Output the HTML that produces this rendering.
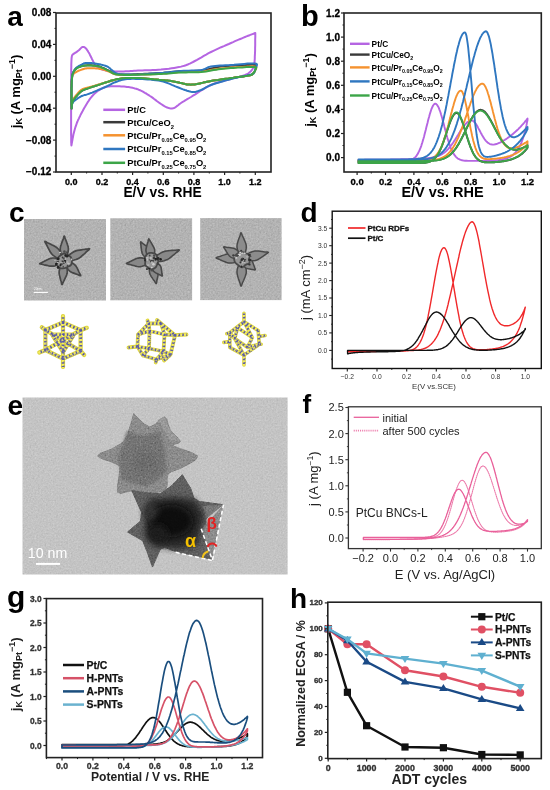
<!DOCTYPE html>
<html><head><meta charset="utf-8"><style>
html,body{margin:0;padding:0;background:#fff;}
svg{display:block;}
text{font-family:'Liberation Sans', Arial, sans-serif;}
</style></head><body>
<svg width="550" height="790" viewBox="0 0 550 790">
<defs><filter id="nz" x="0" y="0" width="100%" height="100%" color-interpolation-filters="sRGB">
<feTurbulence type="fractalNoise" baseFrequency="0.6" numOctaves="2" seed="7" result="t"/>
<feColorMatrix in="t" type="matrix" values="0.33 0.33 0.33 0 0  0.33 0.33 0.33 0 0  0.33 0.33 0.33 0 0  0 0 0 0 1"/>
</filter>
<filter id="bl1" x="-20%" y="-20%" width="140%" height="140%"><feGaussianBlur stdDeviation="0.6"/></filter>
<filter id="bl2" x="-20%" y="-20%" width="140%" height="140%"><feGaussianBlur stdDeviation="1.5"/></filter>
<filter id="bl3" x="-30%" y="-30%" width="160%" height="160%"><feGaussianBlur stdDeviation="3"/></filter>
<filter id="bl5" x="-50%" y="-50%" width="200%" height="200%"><feGaussianBlur stdDeviation="5"/></filter></defs>
<rect width="550" height="790" fill="#fff"/>
<path d="M71.4,145.5 L71.6,144.5 L71.8,143.2 L72.1,141.7 L72.4,140.0 L72.7,138.2 L73.1,136.3 L73.4,134.6 L73.8,133.0 L74.2,131.5 L74.6,130.1 L75.0,128.6 L75.4,127.2 L75.9,125.8 L76.4,124.4 L76.9,122.9 L77.5,121.5 L78.1,120.0 L78.8,118.6 L79.5,117.1 L80.2,115.7 L80.9,114.2 L81.7,112.7 L82.5,111.3 L83.3,109.8 L84.1,108.3 L85.0,106.8 L85.9,105.2 L86.8,103.7 L87.7,102.2 L88.7,100.8 L89.6,99.4 L90.5,98.2 L91.4,97.1 L92.3,96.0 L93.2,95.0 L94.1,94.1 L95.0,93.3 L95.9,92.5 L96.8,91.7 L97.8,91.0 L98.8,90.3 L99.8,89.7 L100.8,89.0 L101.9,88.5 L103.0,88.0 L104.1,87.5 L105.3,87.1 L106.5,86.8 L107.8,86.6 L109.2,86.4 L110.7,86.3 L112.2,86.2 L113.7,86.2 L115.2,86.2 L116.7,86.3 L118.2,86.3 L119.7,86.3 L121.1,86.4 L122.6,86.5 L124.1,86.6 L125.6,86.7 L127.0,86.9 L128.4,87.1 L129.8,87.3 L131.1,87.6 L132.5,87.8 L133.7,88.1 L135.0,88.5 L136.3,88.8 L137.5,89.2 L138.7,89.7 L140.0,90.2 L141.3,90.8 L142.5,91.4 L143.7,92.1 L144.9,92.8 L146.2,93.5 L147.4,94.3 L148.7,95.1 L150.0,96.0 L151.4,96.9 L152.8,97.9 L154.2,99.0 L155.7,100.1 L157.1,101.2 L158.5,102.2 L159.8,103.2 L161.0,104.0 L162.1,104.7 L163.1,105.3 L164.0,105.9 L164.8,106.4 L165.6,106.8 L166.4,107.2 L167.2,107.5 L168.0,107.8 L168.8,108.0 L169.5,108.2 L170.3,108.4 L171.0,108.4 L171.7,108.5 L172.5,108.4 L173.2,108.2 L174.0,108.0 L174.8,107.6 L175.6,107.1 L176.4,106.5 L177.2,105.9 L178.1,105.2 L179.0,104.4 L180.0,103.7 L181.0,103.0 L182.0,102.3 L183.1,101.7 L184.1,101.1 L185.2,100.4 L186.4,99.7 L187.7,98.9 L189.3,98.0 L191.0,97.0 L193.0,95.7 L195.3,94.3 L197.8,92.7 L200.4,91.0 L203.1,89.3 L205.8,87.7 L208.4,86.3 L211.0,85.0 L213.5,83.9 L216.1,83.0 L218.8,82.2 L221.4,81.5 L223.9,80.8 L226.4,80.2 L228.8,79.6 L231.0,79.0 L233.1,78.4 L235.1,77.9 L237.0,77.4 L238.9,76.9 L240.6,76.4 L242.2,76.0 L243.7,75.5 L245.0,75.0 L246.2,74.5 L247.1,74.0 L248.0,73.6 L248.7,73.1 L249.3,72.6 L249.9,72.1 L250.4,71.6 L251.0,71.0 L251.5,70.4 L252.0,69.8 L252.4,69.2 L252.8,68.5 L253.2,67.8 L253.5,67.0 L253.7,66.1 L254.0,65.0 L254.2,63.8 L254.4,62.6 L254.6,61.3 L254.7,59.9 L254.8,58.3 L254.8,56.7 L254.9,54.9 L255.0,53.0 L255.1,50.7 L255.1,48.1 L255.2,45.2 L255.2,42.2 L255.2,39.4 L255.3,36.8 L255.3,34.6 L255.3,33.0 L255.3,33.0 L254.5,33.3 L253.5,33.7 L252.4,34.1 L251.0,34.6 L249.6,35.2 L248.1,35.8 L246.5,36.4 L245.0,37.0 L243.5,37.6 L241.9,38.3 L240.3,39.0 L238.6,39.7 L236.9,40.4 L235.0,41.2 L233.1,42.1 L231.0,43.0 L228.8,44.0 L226.4,45.0 L223.9,46.1 L221.2,47.2 L218.6,48.4 L216.0,49.6 L213.4,50.8 L211.0,52.0 L208.6,53.2 L206.2,54.6 L203.8,55.9 L201.5,57.3 L199.2,58.6 L197.0,59.9 L194.9,61.0 L193.0,62.0 L191.3,62.8 L189.8,63.6 L188.4,64.2 L187.1,64.7 L185.8,65.2 L184.4,65.7 L182.8,66.1 L181.0,66.6 L178.9,67.1 L176.6,67.5 L174.1,67.9 L171.6,68.3 L168.9,68.7 L166.3,69.0 L163.6,69.3 L161.0,69.6 L158.4,69.8 L155.7,70.0 L152.9,70.1 L150.2,70.2 L147.4,70.3 L144.8,70.3 L142.3,70.4 L140.0,70.5 L137.9,70.6 L135.9,70.7 L134.1,70.8 L132.3,71.0 L130.7,71.1 L129.0,71.2 L127.3,71.2 L125.5,71.3 L123.7,71.4 L121.8,71.4 L119.9,71.5 L118.0,71.5 L116.1,71.5 L114.3,71.5 L112.6,71.4 L111.0,71.3 L109.5,71.1 L108.0,70.9 L106.6,70.7 L105.3,70.4 L104.0,70.1 L102.8,69.7 L101.7,69.4 L100.7,69.0 L99.8,68.6 L99.0,68.2 L98.3,67.8 L97.7,67.4 L97.1,67.0 L96.6,66.5 L96.1,66.0 L95.6,65.5 L95.1,65.0 L94.7,64.4 L94.4,63.8 L94.1,63.2 L93.7,62.6 L93.4,61.9 L93.1,61.2 L92.7,60.4 L92.3,59.6 L91.8,58.7 L91.4,57.7 L90.9,56.7 L90.4,55.7 L89.9,54.7 L89.5,53.8 L89.0,53.0 L88.5,52.2 L88.1,51.5 L87.7,50.8 L87.2,50.1 L86.8,49.5 L86.3,48.9 L85.9,48.4 L85.5,48.0 L85.1,47.7 L84.7,47.4 L84.4,47.1 L84.0,47.0 L83.6,46.9 L83.3,46.9 L82.9,46.9 L82.5,47.0 L82.1,47.2 L81.6,47.5 L81.2,47.9 L80.7,48.4 L80.2,48.9 L79.8,49.4 L79.3,49.8 L78.9,50.2 L78.5,50.5 L78.1,50.8 L77.7,51.1 L77.4,51.4 L77.0,51.7 L76.7,51.9 L76.3,52.2 L76.0,52.4 L75.7,52.6 L75.4,52.7 L75.1,52.9 L74.9,53.0 L74.6,53.1 L74.3,53.3 L74.1,53.5 L73.8,53.8 L73.5,54.1 L73.2,54.2 L72.9,54.4 L72.6,54.6 L72.3,55.0 L72.0,55.6 L71.8,56.6 L71.6,58.0 L71.5,59.8 L71.4,61.8 L71.3,64.2 L71.3,66.8 L71.2,69.6 L71.2,72.8 L71.2,76.3 L71.2,80.0 L71.2,84.3 L71.1,89.2 L71.1,94.6 L71.1,100.1 L71.1,105.7 L71.1,111.0 L71.1,115.8 L71.1,120.0 L71.1,123.6 L71.1,126.7 L71.1,129.6 L71.1,132.2 L71.1,134.4 L71.2,136.5 L71.2,138.3 L71.2,140.0 L71.2,141.4 L71.2,142.5 L71.3,143.4 L71.3,144.0 L71.3,144.5 L71.4,144.9 L71.4,145.2 L71.4,145.5" stroke="#b565e2" stroke-width="2.0" fill="none" stroke-linejoin="round" stroke-linecap="round"/>
<path d="M71.6,108.4 L71.6,106.9 L71.6,104.9 L71.5,102.6 L71.5,100.0 L71.5,97.2 L71.5,94.6 L71.5,92.1 L71.5,90.0 L71.5,88.1 L71.6,86.4 L71.6,84.7 L71.7,83.2 L71.7,81.7 L71.8,80.4 L71.9,79.1 L72.0,78.0 L72.1,77.0 L72.2,76.2 L72.3,75.6 L72.3,75.0 L72.5,74.5 L72.6,74.1 L72.8,73.6 L73.0,73.0 L73.3,72.4 L73.5,71.8 L73.9,71.2 L74.2,70.6 L74.6,70.0 L75.0,69.5 L75.5,69.0 L76.0,68.5 L76.6,68.1 L77.2,67.7 L77.9,67.3 L78.6,67.0 L79.4,66.7 L80.2,66.5 L81.0,66.2 L81.8,66.0 L82.6,65.8 L83.5,65.7 L84.3,65.5 L85.2,65.4 L86.1,65.4 L87.1,65.3 L88.0,65.3 L89.0,65.3 L90.0,65.3 L91.2,65.3 L92.3,65.4 L93.5,65.5 L94.6,65.6 L95.8,65.7 L96.8,65.8 L97.8,66.0 L98.7,66.2 L99.5,66.4 L100.2,66.7 L100.9,67.0 L101.5,67.3 L102.2,67.6 L102.9,67.9 L103.6,68.2 L104.3,68.5 L105.1,68.9 L105.8,69.2 L106.5,69.6 L107.3,69.9 L108.0,70.3 L108.8,70.6 L109.5,71.0 L110.2,71.4 L110.9,71.7 L111.5,72.1 L112.1,72.5 L112.8,72.9 L113.5,73.2 L114.4,73.6 L115.3,73.8 L116.3,74.0 L117.4,74.2 L118.6,74.3 L119.9,74.4 L121.2,74.4 L122.5,74.5 L124.0,74.5 L125.5,74.5 L127.1,74.5 L128.7,74.5 L130.3,74.4 L132.1,74.4 L133.9,74.3 L135.8,74.2 L137.8,74.1 L140.0,74.0 L142.3,73.9 L144.8,73.8 L147.4,73.7 L150.2,73.6 L152.9,73.5 L155.7,73.3 L158.4,73.2 L161.0,73.0 L163.5,72.8 L166.1,72.5 L168.6,72.3 L171.1,72.0 L173.5,71.7 L176.0,71.4 L178.5,71.2 L181.0,71.0 L183.5,70.9 L186.0,70.9 L188.5,70.9 L191.0,70.9 L193.5,70.9 L196.0,70.8 L198.5,70.7 L201.0,70.5 L203.5,70.1 L206.0,69.7 L208.5,69.1 L211.1,68.5 L213.6,67.9 L216.1,67.4 L218.5,66.9 L221.0,66.5 L223.5,66.2 L225.9,66.0 L228.4,65.9 L230.8,65.8 L233.2,65.7 L235.6,65.6 L237.8,65.6 L240.0,65.5 L242.2,65.4 L244.4,65.2 L246.6,65.0 L248.7,64.9 L250.6,64.8 L252.4,64.7 L253.9,64.8 L255.0,65.0 L255.8,65.4 L256.2,65.9 L256.3,66.5 L256.2,67.2 L256.0,68.0 L255.8,68.7 L255.5,69.4 L255.3,70.0 L255.1,70.5 L254.9,71.0 L254.7,71.5 L254.4,71.9 L254.1,72.4 L253.8,72.8 L253.4,73.1 L253.0,73.5 L252.7,73.8 L252.4,74.1 L252.2,74.3 L252.0,74.6 L251.6,74.8 L251.0,75.0 L250.2,75.2 L249.0,75.5 L247.4,75.8 L245.5,76.1 L243.4,76.4 L241.0,76.7 L238.5,77.0 L236.0,77.3 L233.4,77.7 L231.0,78.0 L228.6,78.4 L226.0,78.7 L223.4,79.1 L220.8,79.5 L218.1,79.9 L215.6,80.2 L213.2,80.6 L211.0,81.0 L208.9,81.4 L206.9,81.8 L205.0,82.2 L203.2,82.6 L201.5,83.1 L199.9,83.4 L198.4,83.7 L197.0,84.0 L195.7,84.2 L194.6,84.4 L193.6,84.5 L192.6,84.6 L191.7,84.6 L190.9,84.7 L190.0,84.6 L189.0,84.6 L188.0,84.5 L187.0,84.4 L186.1,84.2 L185.1,84.0 L184.1,83.7 L183.1,83.5 L182.1,83.2 L181.0,83.0 L179.8,82.8 L178.6,82.5 L177.4,82.2 L176.1,82.0 L174.8,81.7 L173.5,81.4 L172.3,81.2 L171.0,81.0 L169.8,80.8 L168.8,80.7 L167.7,80.6 L166.7,80.5 L165.6,80.4 L164.3,80.3 L162.8,80.2 L161.0,80.0 L158.9,79.8 L156.4,79.5 L153.6,79.3 L150.8,79.0 L147.9,78.7 L145.1,78.5 L142.4,78.3 L140.0,78.1 L137.8,78.0 L135.8,77.9 L133.9,77.9 L132.1,77.9 L130.3,77.9 L128.7,77.9 L127.1,78.0 L125.5,78.1 L124.0,78.2 L122.6,78.3 L121.3,78.5 L120.0,78.7 L118.8,78.9 L117.7,79.1 L116.5,79.3 L115.3,79.6 L114.1,79.9 L113.0,80.2 L111.9,80.5 L110.8,80.8 L109.7,81.2 L108.7,81.5 L107.6,81.9 L106.5,82.2 L105.4,82.5 L104.3,82.9 L103.2,83.3 L102.1,83.6 L101.1,84.0 L100.0,84.4 L98.9,84.7 L97.8,85.1 L96.7,85.5 L95.6,85.8 L94.4,86.2 L93.3,86.5 L92.2,86.9 L91.1,87.3 L90.0,87.6 L89.0,88.0 L88.0,88.3 L87.1,88.7 L86.1,89.0 L85.2,89.3 L84.3,89.6 L83.5,90.0 L82.6,90.4 L81.8,90.9 L81.0,91.5 L80.2,92.2 L79.4,92.9 L78.7,93.7 L77.9,94.4 L77.3,95.2 L76.6,96.0 L76.0,96.7 L75.4,97.4 L74.9,98.0 L74.4,98.7 L73.9,99.3 L73.5,100.0 L73.1,100.6 L72.8,101.3 L72.5,102.0 L72.3,102.8 L72.1,103.7 L71.9,104.6 L71.8,105.5 L71.8,106.4 L71.7,107.2 L71.7,107.9 L71.6,108.4" stroke="#3a3a3a" stroke-width="2.0" fill="none" stroke-linejoin="round" stroke-linecap="round"/>
<path d="M71.6,108.4 L71.6,106.9 L71.6,104.9 L71.5,102.5 L71.5,99.9 L71.5,97.2 L71.5,94.5 L71.5,92.1 L71.5,90.0 L71.5,88.2 L71.6,86.6 L71.6,85.0 L71.7,83.6 L71.7,82.3 L71.8,81.1 L71.9,80.0 L72.0,79.0 L72.1,78.1 L72.1,77.4 L72.2,76.8 L72.2,76.3 L72.3,75.8 L72.5,75.4 L72.7,75.0 L73.0,74.5 L73.4,74.0 L73.9,73.6 L74.4,73.1 L75.0,72.7 L75.7,72.3 L76.3,72.0 L76.9,71.6 L77.5,71.3 L78.1,71.0 L78.6,70.7 L79.2,70.5 L79.8,70.3 L80.3,70.1 L80.9,69.9 L81.5,69.7 L82.0,69.5 L82.5,69.3 L83.0,69.2 L83.5,69.0 L84.0,68.9 L84.4,68.7 L85.0,68.6 L85.6,68.5 L86.2,68.4 L86.9,68.3 L87.7,68.3 L88.5,68.2 L89.4,68.2 L90.3,68.2 L91.2,68.2 L92.1,68.2 L93.0,68.2 L93.9,68.2 L94.9,68.3 L95.9,68.4 L96.9,68.5 L97.9,68.6 L98.9,68.7 L99.8,68.9 L100.7,69.0 L101.5,69.2 L102.2,69.3 L102.9,69.5 L103.6,69.7 L104.2,69.9 L104.8,70.1 L105.4,70.3 L106.0,70.5 L106.6,70.7 L107.1,70.9 L107.5,71.0 L108.0,71.2 L108.5,71.4 L108.9,71.6 L109.4,71.8 L110.0,72.0 L110.6,72.3 L111.1,72.5 L111.7,72.8 L112.3,73.1 L112.9,73.5 L113.6,73.7 L114.4,74.0 L115.3,74.2 L116.3,74.4 L117.4,74.5 L118.6,74.6 L119.8,74.7 L121.1,74.8 L122.5,74.8 L124.0,74.9 L125.5,74.9 L127.1,74.9 L128.7,74.9 L130.3,74.9 L132.1,74.8 L133.9,74.8 L135.8,74.7 L137.8,74.7 L140.0,74.6 L142.3,74.5 L144.8,74.5 L147.4,74.4 L150.2,74.3 L152.9,74.2 L155.7,74.1 L158.4,74.0 L161.0,73.8 L163.5,73.6 L166.1,73.4 L168.6,73.1 L171.1,72.9 L173.5,72.6 L176.0,72.4 L178.5,72.2 L181.0,72.0 L183.5,71.9 L186.0,71.8 L188.5,71.8 L191.0,71.8 L193.5,71.8 L196.0,71.8 L198.5,71.7 L201.0,71.5 L203.5,71.2 L206.0,70.9 L208.5,70.5 L211.1,70.1 L213.6,69.6 L216.1,69.2 L218.5,68.8 L221.0,68.5 L223.5,68.2 L225.9,68.0 L228.4,67.8 L230.8,67.6 L233.2,67.4 L235.6,67.3 L237.8,67.1 L240.0,67.0 L242.2,66.9 L244.4,66.7 L246.6,66.6 L248.7,66.4 L250.6,66.4 L252.4,66.3 L253.9,66.4 L255.0,66.5 L255.8,66.7 L256.2,67.1 L256.3,67.5 L256.2,68.0 L256.0,68.5 L255.8,69.0 L255.5,69.5 L255.3,70.0 L255.1,70.4 L254.9,70.9 L254.7,71.4 L254.4,71.8 L254.1,72.3 L253.8,72.7 L253.4,73.1 L253.0,73.5 L252.7,73.8 L252.4,74.1 L252.2,74.3 L252.0,74.6 L251.6,74.8 L251.0,75.0 L250.2,75.2 L249.0,75.5 L247.4,75.8 L245.5,76.1 L243.4,76.4 L241.0,76.7 L238.5,77.0 L236.0,77.3 L233.4,77.7 L231.0,78.0 L228.6,78.4 L226.0,78.7 L223.4,79.1 L220.8,79.5 L218.1,79.9 L215.6,80.2 L213.2,80.6 L211.0,81.0 L208.9,81.4 L206.9,81.8 L205.0,82.2 L203.2,82.6 L201.5,83.1 L199.9,83.4 L198.4,83.7 L197.0,84.0 L195.7,84.2 L194.6,84.4 L193.6,84.5 L192.6,84.6 L191.7,84.6 L190.9,84.7 L190.0,84.6 L189.0,84.6 L188.0,84.5 L187.0,84.4 L186.1,84.2 L185.1,84.0 L184.1,83.7 L183.1,83.5 L182.1,83.2 L181.0,83.0 L179.8,82.8 L178.6,82.5 L177.4,82.2 L176.1,82.0 L174.8,81.7 L173.5,81.4 L172.3,81.2 L171.0,81.0 L169.8,80.8 L168.8,80.7 L167.7,80.6 L166.7,80.5 L165.6,80.4 L164.3,80.3 L162.8,80.2 L161.0,80.0 L158.9,79.8 L156.4,79.5 L153.6,79.3 L150.8,79.0 L147.9,78.7 L145.1,78.5 L142.4,78.3 L140.0,78.1 L137.8,78.0 L135.8,77.9 L133.9,77.9 L132.1,77.9 L130.3,77.9 L128.7,77.9 L127.1,78.0 L125.5,78.1 L124.0,78.2 L122.6,78.3 L121.3,78.5 L120.0,78.7 L118.8,78.9 L117.7,79.1 L116.5,79.3 L115.3,79.6 L114.1,79.9 L113.0,80.2 L111.9,80.5 L110.8,80.8 L109.7,81.2 L108.7,81.5 L107.6,81.9 L106.5,82.2 L105.4,82.5 L104.3,82.9 L103.2,83.2 L102.1,83.5 L101.1,83.8 L100.0,84.2 L98.9,84.5 L97.8,84.8 L96.7,85.1 L95.6,85.4 L94.4,85.8 L93.3,86.1 L92.2,86.4 L91.1,86.7 L90.0,87.0 L89.0,87.3 L88.0,87.6 L87.1,87.8 L86.1,88.0 L85.2,88.2 L84.3,88.4 L83.5,88.7 L82.6,89.0 L81.8,89.5 L81.0,90.1 L80.2,90.7 L79.4,91.5 L78.7,92.3 L77.9,93.1 L77.3,93.9 L76.6,94.7 L76.0,95.5 L75.4,96.2 L74.9,96.9 L74.4,97.5 L73.9,98.2 L73.5,98.8 L73.1,99.5 L72.8,100.2 L72.5,101.0 L72.3,101.9 L72.1,102.9 L71.9,104.0 L71.8,105.0 L71.8,106.1 L71.7,107.0 L71.7,107.8 L71.6,108.4" stroke="#f5922f" stroke-width="2.0" fill="none" stroke-linejoin="round" stroke-linecap="round"/>
<path d="M71.6,108.4 L71.6,106.9 L71.6,104.9 L71.5,102.6 L71.5,100.0 L71.5,97.2 L71.5,94.6 L71.5,92.1 L71.5,90.0 L71.5,88.1 L71.6,86.4 L71.6,84.7 L71.7,83.2 L71.7,81.7 L71.8,80.4 L71.9,79.1 L72.0,78.0 L72.1,77.0 L72.2,76.3 L72.3,75.6 L72.3,75.1 L72.5,74.6 L72.6,74.1 L72.8,73.6 L73.0,73.0 L73.3,72.4 L73.5,71.7 L73.9,71.1 L74.2,70.4 L74.6,69.8 L75.0,69.1 L75.5,68.6 L76.0,68.0 L76.6,67.5 L77.3,67.0 L78.0,66.5 L78.8,66.0 L79.6,65.6 L80.4,65.2 L81.1,64.8 L81.8,64.5 L82.4,64.2 L82.9,63.9 L83.4,63.7 L83.8,63.5 L84.3,63.3 L84.8,63.2 L85.4,63.1 L86.2,63.0 L87.1,63.0 L88.0,62.9 L89.1,62.9 L90.2,63.0 L91.3,63.1 L92.5,63.2 L93.7,63.3 L95.0,63.5 L96.3,63.7 L97.8,64.0 L99.4,64.3 L100.9,64.6 L102.5,65.0 L104.0,65.4 L105.3,65.8 L106.5,66.2 L107.5,66.7 L108.4,67.2 L109.2,67.8 L109.9,68.3 L110.5,68.9 L111.1,69.5 L111.8,70.0 L112.4,70.5 L113.0,71.0 L113.6,71.4 L114.0,71.8 L114.5,72.2 L115.0,72.6 L115.6,72.9 L116.2,73.2 L117.0,73.5 L117.8,73.7 L118.7,73.9 L119.6,74.1 L120.6,74.2 L121.7,74.3 L122.9,74.4 L124.1,74.4 L125.5,74.5 L127.0,74.5 L128.6,74.6 L130.2,74.6 L132.0,74.6 L133.8,74.6 L135.8,74.5 L137.8,74.5 L140.0,74.4 L142.3,74.3 L144.8,74.2 L147.4,74.0 L150.2,73.8 L152.9,73.6 L155.7,73.4 L158.4,73.2 L161.0,73.0 L163.5,72.8 L166.1,72.5 L168.6,72.2 L171.1,72.0 L173.5,71.7 L176.0,71.4 L178.5,71.2 L181.0,71.0 L183.6,70.8 L186.2,70.7 L188.9,70.7 L191.6,70.6 L194.2,70.5 L196.7,70.4 L199.0,70.2 L201.0,70.0 L202.7,69.7 L204.0,69.3 L205.0,68.8 L206.0,68.3 L207.0,67.8 L208.0,67.3 L209.3,66.9 L211.0,66.5 L213.0,66.2 L215.2,66.0 L217.6,65.8 L220.1,65.6 L222.8,65.5 L225.5,65.3 L228.2,65.2 L231.0,65.0 L234.0,64.8 L237.3,64.5 L240.7,64.2 L244.2,63.9 L247.5,63.6 L250.6,63.5 L253.1,63.4 L255.0,63.5 L256.2,63.8 L256.8,64.2 L257.0,64.7 L256.8,65.4 L256.5,66.0 L256.1,66.7 L255.7,67.4 L255.5,68.0 L255.4,68.6 L255.3,69.2 L255.1,69.8 L255.0,70.4 L254.8,71.0 L254.5,71.6 L254.3,72.1 L254.0,72.5 L253.8,72.9 L253.8,73.1 L253.7,73.3 L253.7,73.5 L253.4,73.7 L253.0,73.9 L252.2,74.1 L251.0,74.5 L249.3,74.9 L247.2,75.4 L244.7,75.9 L242.1,76.5 L239.2,77.1 L236.4,77.7 L233.6,78.3 L231.0,79.0 L228.4,79.7 L225.8,80.4 L223.1,81.2 L220.4,82.0 L217.8,82.8 L215.3,83.5 L213.0,84.3 L211.0,85.0 L209.3,85.7 L207.8,86.4 L206.4,87.1 L205.2,87.8 L204.2,88.4 L203.1,89.0 L202.1,89.5 L201.0,90.0 L199.9,90.4 L198.9,90.8 L197.9,91.1 L196.9,91.4 L195.9,91.7 L195.0,91.9 L194.0,92.0 L193.0,92.0 L192.0,91.9 L191.0,91.8 L190.0,91.6 L189.0,91.3 L188.0,91.0 L187.0,90.7 L186.0,90.3 L185.0,90.0 L184.1,89.7 L183.2,89.4 L182.4,89.1 L181.5,88.8 L180.6,88.4 L179.6,88.0 L178.4,87.5 L177.0,87.0 L175.4,86.4 L173.7,85.6 L171.8,84.8 L169.8,83.9 L167.7,83.1 L165.5,82.3 L163.3,81.6 L161.0,81.0 L158.6,80.5 L155.9,80.2 L153.2,79.9 L150.4,79.6 L147.6,79.4 L144.9,79.2 L142.3,79.1 L140.0,79.0 L137.8,78.9 L135.8,78.9 L133.9,78.8 L132.1,78.8 L130.3,78.9 L128.7,79.0 L127.1,79.1 L125.5,79.3 L124.0,79.5 L122.6,79.8 L121.3,80.1 L120.0,80.5 L118.8,80.9 L117.7,81.3 L116.5,81.8 L115.3,82.2 L114.1,82.7 L113.0,83.2 L111.9,83.7 L110.8,84.3 L109.7,84.9 L108.7,85.4 L107.6,86.0 L106.5,86.5 L105.4,87.0 L104.3,87.5 L103.2,87.9 L102.1,88.4 L101.1,88.8 L100.0,89.3 L98.9,89.7 L97.8,90.2 L96.7,90.7 L95.6,91.1 L94.4,91.6 L93.3,92.1 L92.2,92.6 L91.1,93.0 L90.0,93.4 L89.0,93.8 L88.0,94.1 L87.1,94.4 L86.1,94.7 L85.2,94.9 L84.3,95.1 L83.5,95.4 L82.6,95.7 L81.8,96.0 L81.0,96.4 L80.2,96.8 L79.4,97.3 L78.7,97.7 L77.9,98.2 L77.3,98.7 L76.6,99.2 L76.0,99.6 L75.4,100.0 L74.9,100.4 L74.4,100.8 L73.9,101.2 L73.5,101.6 L73.1,102.0 L72.8,102.5 L72.5,103.0 L72.3,103.6 L72.1,104.3 L71.9,105.1 L71.8,105.9 L71.8,106.7 L71.7,107.4 L71.7,108.0 L71.6,108.4" stroke="#2f77c0" stroke-width="2.0" fill="none" stroke-linejoin="round" stroke-linecap="round"/>
<path d="M71.6,108.4 L71.6,106.9 L71.6,104.9 L71.5,102.6 L71.5,100.0 L71.5,97.2 L71.5,94.6 L71.5,92.1 L71.5,90.0 L71.5,88.1 L71.6,86.4 L71.6,84.7 L71.7,83.1 L71.7,81.7 L71.8,80.3 L71.9,79.1 L72.0,78.0 L72.1,77.1 L72.2,76.3 L72.3,75.8 L72.3,75.3 L72.5,74.9 L72.6,74.4 L72.8,74.0 L73.0,73.5 L73.3,72.9 L73.5,72.3 L73.9,71.7 L74.2,71.1 L74.6,70.6 L75.0,70.0 L75.5,69.5 L76.0,69.0 L76.6,68.6 L77.2,68.1 L77.9,67.7 L78.6,67.4 L79.4,67.0 L80.2,66.7 L81.0,66.4 L81.8,66.2 L82.6,66.0 L83.5,65.8 L84.3,65.7 L85.2,65.6 L86.1,65.6 L87.1,65.5 L88.0,65.5 L89.0,65.5 L90.0,65.5 L91.2,65.5 L92.3,65.6 L93.5,65.7 L94.6,65.8 L95.8,65.9 L96.8,66.0 L97.8,66.2 L98.7,66.4 L99.5,66.6 L100.2,66.9 L100.9,67.2 L101.5,67.5 L102.2,67.8 L102.9,68.1 L103.6,68.4 L104.3,68.7 L105.1,69.1 L105.8,69.4 L106.5,69.8 L107.3,70.2 L108.0,70.6 L108.8,70.9 L109.5,71.3 L110.2,71.7 L110.9,72.1 L111.5,72.5 L112.1,72.9 L112.8,73.3 L113.5,73.6 L114.4,73.9 L115.3,74.2 L116.3,74.4 L117.4,74.6 L118.6,74.7 L119.9,74.8 L121.2,74.8 L122.5,74.8 L124.0,74.9 L125.5,74.9 L127.1,74.9 L128.7,74.9 L130.3,74.9 L132.1,74.8 L133.9,74.8 L135.8,74.7 L137.8,74.7 L140.0,74.6 L142.3,74.5 L144.8,74.5 L147.4,74.4 L150.2,74.4 L152.9,74.3 L155.7,74.2 L158.4,74.1 L161.0,74.0 L163.5,73.8 L166.1,73.7 L168.6,73.5 L171.1,73.2 L173.5,73.0 L176.0,72.8 L178.5,72.6 L181.0,72.5 L183.5,72.4 L186.0,72.4 L188.5,72.3 L191.0,72.3 L193.5,72.3 L196.0,72.3 L198.5,72.2 L201.0,72.0 L203.5,71.7 L206.0,71.4 L208.5,71.0 L211.1,70.6 L213.6,70.1 L216.1,69.7 L218.5,69.3 L221.0,69.0 L223.5,68.7 L225.9,68.5 L228.4,68.3 L230.8,68.1 L233.2,67.9 L235.6,67.8 L237.8,67.6 L240.0,67.5 L242.2,67.4 L244.4,67.2 L246.6,67.1 L248.7,67.0 L250.6,66.9 L252.4,66.9 L253.9,66.9 L255.0,67.0 L255.8,67.2 L256.2,67.5 L256.3,67.8 L256.2,68.2 L256.0,68.7 L255.8,69.1 L255.5,69.6 L255.3,70.0 L255.1,70.4 L254.9,70.9 L254.7,71.3 L254.4,71.8 L254.1,72.3 L253.8,72.7 L253.4,73.1 L253.0,73.5 L252.7,73.8 L252.4,74.1 L252.2,74.3 L252.0,74.6 L251.6,74.8 L251.0,75.0 L250.2,75.2 L249.0,75.5 L247.4,75.8 L245.5,76.1 L243.4,76.4 L241.0,76.7 L238.5,77.0 L236.0,77.3 L233.4,77.7 L231.0,78.0 L228.6,78.4 L226.0,78.7 L223.4,79.1 L220.8,79.5 L218.1,79.9 L215.6,80.2 L213.2,80.6 L211.0,81.0 L208.9,81.4 L206.9,81.8 L205.0,82.2 L203.2,82.6 L201.5,83.1 L199.9,83.4 L198.4,83.7 L197.0,84.0 L195.7,84.2 L194.6,84.4 L193.6,84.5 L192.6,84.6 L191.7,84.6 L190.9,84.7 L190.0,84.6 L189.0,84.6 L188.0,84.5 L187.0,84.4 L186.1,84.2 L185.1,84.0 L184.1,83.7 L183.1,83.5 L182.1,83.2 L181.0,83.0 L179.8,82.8 L178.6,82.5 L177.4,82.2 L176.1,82.0 L174.8,81.7 L173.5,81.4 L172.3,81.2 L171.0,81.0 L169.8,80.8 L168.8,80.7 L167.7,80.6 L166.7,80.5 L165.6,80.4 L164.3,80.3 L162.8,80.2 L161.0,80.0 L158.9,79.8 L156.4,79.5 L153.6,79.3 L150.8,79.0 L147.9,78.7 L145.1,78.5 L142.4,78.3 L140.0,78.1 L137.8,78.0 L135.8,77.9 L133.9,77.9 L132.1,77.9 L130.3,77.9 L128.7,77.9 L127.1,78.0 L125.5,78.1 L124.0,78.2 L122.6,78.3 L121.3,78.5 L120.0,78.7 L118.8,78.9 L117.7,79.1 L116.5,79.3 L115.3,79.6 L114.1,79.9 L113.0,80.2 L111.9,80.5 L110.8,80.8 L109.7,81.2 L108.7,81.5 L107.6,81.9 L106.5,82.2 L105.4,82.5 L104.3,82.9 L103.2,83.3 L102.1,83.6 L101.1,84.0 L100.0,84.4 L98.9,84.7 L97.8,85.1 L96.7,85.5 L95.6,85.8 L94.4,86.2 L93.3,86.5 L92.2,86.9 L91.1,87.3 L90.0,87.6 L89.0,88.0 L88.0,88.3 L87.1,88.7 L86.1,89.0 L85.2,89.3 L84.3,89.6 L83.5,90.0 L82.6,90.4 L81.8,90.9 L81.0,91.5 L80.2,92.2 L79.4,92.9 L78.7,93.7 L77.9,94.4 L77.3,95.2 L76.6,96.0 L76.0,96.7 L75.4,97.4 L74.9,98.0 L74.4,98.7 L73.9,99.3 L73.5,100.0 L73.1,100.6 L72.8,101.3 L72.5,102.0 L72.3,102.8 L72.1,103.7 L71.9,104.6 L71.8,105.5 L71.8,106.4 L71.7,107.2 L71.7,107.9 L71.6,108.4" stroke="#3ca548" stroke-width="2.0" fill="none" stroke-linejoin="round" stroke-linecap="round"/>
<rect x="56.0" y="13.0" width="215.0" height="159.0" fill="none" stroke="#222" stroke-width="1.6"/>
<line x1="53.0" y1="12.5" x2="56.0" y2="12.5" stroke="#222" stroke-width="1.2"/>
<text x="51.3" y="15.9" font-size="10" font-weight="bold" text-anchor="end" fill="#000" stroke="#000" stroke-width="0.3">0.08</text>
<line x1="53.0" y1="44.4" x2="56.0" y2="44.4" stroke="#222" stroke-width="1.2"/>
<text x="51.3" y="47.8" font-size="10" font-weight="bold" text-anchor="end" fill="#000" stroke="#000" stroke-width="0.3">0.04</text>
<line x1="53.0" y1="76.3" x2="56.0" y2="76.3" stroke="#222" stroke-width="1.2"/>
<text x="51.3" y="79.7" font-size="10" font-weight="bold" text-anchor="end" fill="#000" stroke="#000" stroke-width="0.3">0.00</text>
<line x1="53.0" y1="108.2" x2="56.0" y2="108.2" stroke="#222" stroke-width="1.2"/>
<text x="51.3" y="111.6" font-size="10" font-weight="bold" text-anchor="end" fill="#000" stroke="#000" stroke-width="0.3">−0.04</text>
<line x1="53.0" y1="140.1" x2="56.0" y2="140.1" stroke="#222" stroke-width="1.2"/>
<text x="51.3" y="143.5" font-size="10" font-weight="bold" text-anchor="end" fill="#000" stroke="#000" stroke-width="0.3">−0.08</text>
<line x1="53.0" y1="172.0" x2="56.0" y2="172.0" stroke="#222" stroke-width="1.2"/>
<text x="51.3" y="175.4" font-size="10" font-weight="bold" text-anchor="end" fill="#000" stroke="#000" stroke-width="0.3">−0.12</text>
<line x1="54.5" y1="28.4" x2="56.0" y2="28.4" stroke="#222" stroke-width="1"/>
<line x1="54.5" y1="60.3" x2="56.0" y2="60.3" stroke="#222" stroke-width="1"/>
<line x1="54.5" y1="92.2" x2="56.0" y2="92.2" stroke="#222" stroke-width="1"/>
<line x1="54.5" y1="124.2" x2="56.0" y2="124.2" stroke="#222" stroke-width="1"/>
<line x1="54.5" y1="156.1" x2="56.0" y2="156.1" stroke="#222" stroke-width="1"/>
<line x1="71.3" y1="172.0" x2="71.3" y2="175.0" stroke="#222" stroke-width="1.2"/>
<text x="71.3" y="184.5" font-size="9" font-weight="bold" text-anchor="middle" fill="#000" stroke="#000" stroke-width="0.3">0.0</text>
<line x1="102.0" y1="172.0" x2="102.0" y2="175.0" stroke="#222" stroke-width="1.2"/>
<text x="102.0" y="184.5" font-size="9" font-weight="bold" text-anchor="middle" fill="#000" stroke="#000" stroke-width="0.3">0.2</text>
<line x1="132.6" y1="172.0" x2="132.6" y2="175.0" stroke="#222" stroke-width="1.2"/>
<text x="132.6" y="184.5" font-size="9" font-weight="bold" text-anchor="middle" fill="#000" stroke="#000" stroke-width="0.3">0.4</text>
<line x1="163.3" y1="172.0" x2="163.3" y2="175.0" stroke="#222" stroke-width="1.2"/>
<text x="163.3" y="184.5" font-size="9" font-weight="bold" text-anchor="middle" fill="#000" stroke="#000" stroke-width="0.3">0.6</text>
<line x1="193.9" y1="172.0" x2="193.9" y2="175.0" stroke="#222" stroke-width="1.2"/>
<text x="193.9" y="184.5" font-size="9" font-weight="bold" text-anchor="middle" fill="#000" stroke="#000" stroke-width="0.3">0.8</text>
<line x1="224.6" y1="172.0" x2="224.6" y2="175.0" stroke="#222" stroke-width="1.2"/>
<text x="224.6" y="184.5" font-size="9" font-weight="bold" text-anchor="middle" fill="#000" stroke="#000" stroke-width="0.3">1.0</text>
<line x1="255.3" y1="172.0" x2="255.3" y2="175.0" stroke="#222" stroke-width="1.2"/>
<text x="255.3" y="184.5" font-size="9" font-weight="bold" text-anchor="middle" fill="#000" stroke="#000" stroke-width="0.3">1.2</text>
<line x1="86.6" y1="172.0" x2="86.6" y2="173.5" stroke="#222" stroke-width="1"/>
<line x1="117.3" y1="172.0" x2="117.3" y2="173.5" stroke="#222" stroke-width="1"/>
<line x1="147.9" y1="172.0" x2="147.9" y2="173.5" stroke="#222" stroke-width="1"/>
<line x1="178.6" y1="172.0" x2="178.6" y2="173.5" stroke="#222" stroke-width="1"/>
<line x1="209.3" y1="172.0" x2="209.3" y2="173.5" stroke="#222" stroke-width="1"/>
<line x1="239.9" y1="172.0" x2="239.9" y2="173.5" stroke="#222" stroke-width="1"/>
<text x="162.5" y="196.8" font-size="13.8" font-weight="bold" text-anchor="middle" fill="#000">E/V vs. RHE</text>
<text x="0.0" y="0.0" font-size="13" font-weight="bold" text-anchor="middle" fill="#000" transform="translate(20.3,91.4) rotate(-90)">j<tspan font-size="9" dy="2">K</tspan><tspan dy="-2"> (A mg</tspan><tspan font-size="9" dy="2">Pt</tspan><tspan font-size="9" dy="-7">−1</tspan><tspan dy="5">)</tspan></text>
<text x="7.2" y="25.5" font-size="28" font-weight="bold" text-anchor="start" fill="#000">a</text>
<line x1="103.3" y1="109.8" x2="125.1" y2="109.8" stroke="#b565e2" stroke-width="2.5"/>
<text x="127.3" y="113.2" font-size="9.3" font-weight="bold" text-anchor="start" fill="#000">Pt/C</text>
<line x1="103.3" y1="122.2" x2="125.1" y2="122.2" stroke="#3a3a3a" stroke-width="2.5"/>
<text x="127.3" y="125.6" font-size="9.3" font-weight="bold" text-anchor="start" fill="#000">PtCu/CeO<tspan font-size="5.8" dy="3">2</tspan></text>
<line x1="103.3" y1="135.3" x2="125.1" y2="135.3" stroke="#f5922f" stroke-width="2.5"/>
<text x="127.3" y="138.7" font-size="9.3" font-weight="bold" text-anchor="start" fill="#000">PtCu/Pr<tspan font-size="5.8" dy="3">0.05</tspan><tspan dy="-3">Ce</tspan><tspan font-size="5.8" dy="3">0.95</tspan><tspan dy="-3">O</tspan><tspan font-size="5.8" dy="3">2</tspan></text>
<line x1="103.3" y1="149.0" x2="125.1" y2="149.0" stroke="#2f77c0" stroke-width="2.5"/>
<text x="127.3" y="152.4" font-size="9.3" font-weight="bold" text-anchor="start" fill="#000">PtCu/Pr<tspan font-size="5.8" dy="3">0.15</tspan><tspan dy="-3">Ce</tspan><tspan font-size="5.8" dy="3">0.85</tspan><tspan dy="-3">O</tspan><tspan font-size="5.8" dy="3">2</tspan></text>
<line x1="103.3" y1="162.8" x2="125.1" y2="162.8" stroke="#3ca548" stroke-width="2.5"/>
<text x="127.3" y="166.2" font-size="9.3" font-weight="bold" text-anchor="start" fill="#000">PtCu/Pr<tspan font-size="5.8" dy="3">0.25</tspan><tspan dy="-3">Ce</tspan><tspan font-size="5.8" dy="3">0.75</tspan><tspan dy="-3">O</tspan><tspan font-size="5.8" dy="3">2</tspan></text>
<path d="M358.5,159.9 L359.1,159.9 L359.7,159.9 L360.2,159.9 L360.8,159.9 L361.3,159.9 L361.9,159.9 L362.5,159.9 L363.0,159.9 L363.6,159.9 L364.2,159.9 L364.7,159.8 L365.3,159.8 L365.9,159.8 L366.4,159.8 L367.0,159.8 L367.6,159.8 L368.1,159.8 L368.7,159.8 L369.3,159.8 L369.8,159.8 L370.4,159.8 L371.0,159.8 L371.5,159.8 L372.1,159.8 L372.6,159.8 L373.2,159.8 L373.8,159.8 L374.3,159.8 L374.9,159.8 L375.5,159.8 L376.0,159.7 L376.6,159.7 L377.2,159.7 L377.7,159.7 L378.3,159.7 L378.9,159.7 L379.4,159.7 L380.0,159.7 L380.6,159.7 L381.1,159.7 L381.7,159.7 L382.3,159.7 L382.8,159.7 L383.4,159.7 L384.0,159.6 L384.5,159.6 L385.1,159.6 L385.6,159.6 L386.2,159.6 L386.8,159.6 L387.3,159.6 L387.9,159.6 L388.5,159.6 L389.0,159.6 L389.6,159.6 L390.2,159.6 L390.7,159.5 L391.3,159.5 L391.9,159.5 L392.4,159.5 L393.0,159.5 L393.6,159.5 L394.1,159.5 L394.7,159.5 L395.3,159.5 L395.8,159.5 L396.4,159.4 L397.0,159.4 L397.5,159.4 L398.1,159.4 L398.6,159.4 L399.2,159.4 L399.8,159.4 L400.3,159.4 L400.9,159.3 L401.5,159.3 L402.0,159.3 L402.6,159.3 L403.2,159.3 L403.7,159.3 L404.3,159.3 L404.9,159.2 L405.4,159.2 L406.0,159.2 L406.6,159.2 L407.1,159.2 L407.7,159.2 L408.3,159.1 L408.8,159.1 L409.4,159.1 L409.9,159.1 L410.5,159.1 L411.1,159.1 L411.6,159.0 L412.2,159.0 L412.8,159.0 L413.3,159.0 L413.9,159.0 L414.5,158.9 L415.0,158.9 L415.6,158.9 L416.2,158.9 L416.7,158.8 L417.3,158.8 L417.9,158.8 L418.4,158.8 L419.0,158.7 L419.6,158.7 L420.1,158.7 L420.7,158.7 L421.3,158.6 L421.8,158.6 L422.4,158.6 L422.9,158.5 L423.5,158.5 L424.1,158.5 L424.6,158.4 L425.2,158.4 L425.8,158.3 L426.3,158.3 L426.9,158.2 L427.5,158.2 L428.0,158.1 L428.6,158.1 L429.2,158.0 L429.7,157.9 L430.3,157.9 L430.9,157.8 L431.4,157.7 L432.0,157.6 L432.6,157.5 L433.1,157.4 L433.7,157.3 L434.3,157.2 L434.8,157.0 L435.4,156.9 L435.9,156.7 L436.5,156.6 L437.1,156.4 L437.6,156.2 L438.2,156.0 L438.8,155.8 L439.3,155.5 L439.9,155.3 L440.5,155.0 L441.0,154.7 L441.6,154.4 L442.2,154.1 L442.7,153.7 L443.3,153.3 L443.9,152.9 L444.4,152.5 L445.0,152.1 L445.6,151.6 L446.1,151.1 L446.7,150.5 L447.2,150.0 L447.8,149.4 L448.4,148.8 L448.9,148.1 L449.5,147.5 L450.1,146.8 L450.6,146.1 L451.2,145.3 L451.8,144.6 L452.3,143.8 L452.9,143.0 L453.5,142.1 L454.0,141.3 L454.6,140.4 L455.2,139.5 L455.7,138.6 L456.3,137.7 L456.9,136.8 L457.4,135.9 L458.0,135.0 L458.6,134.0 L459.1,133.1 L459.7,132.2 L460.2,131.3 L460.8,130.4 L461.4,129.6 L461.9,128.7 L462.5,127.9 L463.1,127.1 L463.6,126.4 L464.2,125.6 L464.8,124.9 L465.3,124.3 L465.9,123.7 L466.5,123.1 L467.0,122.6 L467.6,122.1 L468.2,121.7 L468.7,121.4 L469.3,121.1 L469.9,120.8 L470.4,120.6 L471.0,120.5 L471.6,120.4 L472.1,120.5 L472.7,120.7 L473.2,121.1 L473.8,121.5 L474.4,122.1 L474.9,122.7 L475.5,123.4 L476.1,124.3 L476.6,125.1 L477.2,126.1 L477.8,127.1 L478.3,128.1 L478.9,129.2 L479.5,130.2 L480.0,131.3 L480.6,132.4 L481.2,133.4 L481.7,134.5 L482.3,135.5 L482.9,136.5 L483.4,137.4 L484.0,138.3 L484.5,139.1 L485.1,139.8 L485.7,140.6 L486.2,141.2 L486.8,141.8 L487.4,142.3 L487.9,142.8 L488.5,143.2 L489.1,143.5 L489.6,143.8 L490.2,144.1 L490.8,144.3 L491.3,144.4 L491.9,144.5 L492.5,144.6 L493.0,144.6 L493.6,144.6 L494.2,144.5 L494.7,144.4 L495.3,144.3 L495.9,144.2 L496.4,144.0 L497.0,143.8 L497.5,143.6 L498.1,143.4 L498.7,143.2 L499.2,142.9 L499.8,142.7 L500.4,142.4 L500.9,142.1 L501.5,141.8 L502.1,141.5 L502.6,141.2 L503.2,140.8 L503.8,140.5 L504.3,140.1 L504.9,139.8 L505.5,139.4 L506.0,139.1 L506.6,138.7 L507.2,138.3 L507.7,137.9 L508.3,137.5 L508.9,137.1 L509.4,136.7 L510.0,136.3 L510.5,135.8 L511.1,135.4 L511.7,134.9 L512.2,134.5 L512.8,134.0 L513.4,133.6 L513.9,133.1 L514.5,132.6 L515.1,132.1 L515.6,131.6 L516.2,131.1 L516.8,130.5 L517.3,130.0 L517.9,129.5 L518.5,128.9 L519.0,128.3 L519.6,127.8 L520.2,127.2 L520.7,126.6 L521.3,126.0 L521.8,125.3 L522.4,124.7 L523.0,124.1 L523.5,123.4 L524.1,122.8 L524.7,122.1 L525.2,121.4 L525.8,120.7 L526.4,120.0 L526.9,119.3 L527.5,118.5 L527.5,120.0 L526.9,122.9 L526.4,125.7 L525.8,128.2 L525.2,130.6 L524.7,132.7 L524.1,134.8 L523.5,136.7 L523.0,138.4 L522.4,140.0 L521.8,141.5 L521.3,142.9 L520.7,144.2 L520.2,145.4 L519.6,146.5 L519.0,147.6 L518.5,148.5 L517.9,149.4 L517.3,150.3 L516.8,151.0 L516.2,151.7 L515.6,152.4 L515.1,153.0 L514.5,153.6 L513.9,154.1 L513.4,154.6 L512.8,155.1 L512.2,155.5 L511.7,155.9 L511.1,156.3 L510.5,156.6 L510.0,156.9 L509.4,157.2 L508.9,157.5 L508.3,157.7 L507.7,158.0 L507.2,158.2 L506.6,158.4 L506.0,158.6 L505.5,158.7 L504.9,158.9 L504.3,159.0 L503.8,159.2 L503.2,159.3 L502.6,159.4 L502.1,159.5 L501.5,159.6 L500.9,159.7 L500.4,159.8 L499.8,159.9 L499.2,160.0 L498.7,160.1 L498.1,160.1 L497.5,160.2 L497.0,160.2 L496.4,160.3 L495.9,160.3 L495.3,160.4 L494.7,160.4 L494.2,160.5 L493.6,160.5 L493.0,160.5 L492.5,160.6 L491.9,160.6 L491.3,160.6 L490.8,160.7 L490.2,160.7 L489.6,160.7 L489.1,160.7 L488.5,160.7 L487.9,160.8 L487.4,160.8 L486.8,160.8 L486.2,160.8 L485.7,160.8 L485.1,160.8 L484.5,160.8 L484.0,160.8 L483.4,160.9 L482.9,160.9 L482.3,160.9 L481.7,160.9 L481.2,160.9 L480.6,160.9 L480.0,160.9 L479.5,160.9 L478.9,160.9 L478.3,160.9 L477.8,160.9 L477.2,160.9 L476.6,160.9 L476.1,160.9 L475.5,160.9 L474.9,160.9 L474.4,160.9 L473.8,160.9 L473.2,160.9 L472.7,160.9 L472.1,160.9 L471.6,160.9 L471.0,160.9 L470.4,160.9 L469.9,160.9 L469.3,160.9 L468.7,160.9 L468.2,160.9 L467.6,160.9 L467.0,160.8 L466.5,160.8 L465.9,160.8 L465.3,160.7 L464.8,160.7 L464.2,160.6 L463.6,160.6 L463.1,160.5 L462.5,160.4 L461.9,160.2 L461.4,160.1 L460.8,159.9 L460.2,159.7 L459.7,159.5 L459.1,159.2 L458.6,158.9 L458.0,158.6 L457.4,158.2 L456.9,157.7 L456.3,157.2 L455.7,156.6 L455.2,155.9 L454.6,155.2 L454.0,154.4 L453.5,153.5 L452.9,152.5 L452.3,151.4 L451.8,150.2 L451.2,149.0 L450.6,147.6 L450.1,146.1 L449.5,144.5 L448.9,142.8 L448.4,141.1 L447.8,139.2 L447.2,137.3 L446.7,135.3 L446.1,133.2 L445.6,131.1 L445.0,128.9 L444.4,126.8 L443.9,124.6 L443.3,122.4 L442.7,120.3 L442.2,118.2 L441.6,116.2 L441.0,114.3 L440.5,112.5 L439.9,110.8 L439.3,109.3 L438.8,107.9 L438.2,106.7 L437.6,105.7 L437.1,104.9 L436.5,104.3 L435.9,103.9 L435.4,103.7 L434.8,103.8 L434.3,104.1 L433.7,104.7 L433.1,105.5 L432.6,106.5 L432.0,107.8 L431.4,109.2 L430.9,110.8 L430.3,112.6 L429.7,114.5 L429.2,116.5 L428.6,118.6 L428.0,120.8 L427.5,123.0 L426.9,125.3 L426.3,127.6 L425.8,129.8 L425.2,132.1 L424.6,134.3 L424.1,136.4 L423.5,138.5 L422.9,140.4 L422.4,142.3 L421.8,144.1 L421.3,145.8 L420.7,147.4 L420.1,148.8 L419.6,150.2 L419.0,151.4 L418.4,152.5 L417.9,153.6 L417.3,154.5 L416.7,155.4 L416.2,156.1 L415.6,156.8 L415.0,157.4 L414.5,157.9 L413.9,158.3 L413.3,158.7 L412.8,159.1 L412.2,159.4 L411.6,159.7 L411.1,159.9 L410.5,160.1 L409.9,160.2 L409.4,160.4 L408.8,160.5 L408.3,160.6 L407.7,160.6 L407.1,160.7 L406.6,160.8 L406.0,160.8 L405.4,160.8 L404.9,160.9 L404.3,160.9 L403.7,160.9 L403.2,160.9 L402.6,160.9 L402.0,160.9 L401.5,160.9 L400.9,161.0 L400.3,161.0 L399.8,161.0 L399.2,161.0 L398.6,161.0 L398.1,161.0 L397.5,161.0 L397.0,161.0 L396.4,161.0 L395.8,161.0 L395.3,161.0 L394.7,161.0 L394.1,161.0 L393.6,161.0 L393.0,161.0 L392.4,161.0 L391.9,161.0 L391.3,161.0 L390.7,161.0 L390.2,161.0 L389.6,161.0 L389.0,161.0 L388.5,161.0 L387.9,161.0 L387.3,161.0 L386.8,161.0 L386.2,161.0 L385.6,161.0 L385.1,161.0 L384.5,161.0 L384.0,161.0 L383.4,161.0 L382.8,161.0 L382.3,161.0 L381.7,161.0 L381.1,161.0 L380.6,161.0 L380.0,161.0 L379.4,161.0 L378.9,161.0 L378.3,161.0 L377.7,161.0 L377.2,161.0 L376.6,161.0 L376.0,161.0 L375.5,161.0 L374.9,161.0 L374.3,161.0 L373.8,161.0 L373.2,161.0 L372.6,161.0 L372.1,161.0 L371.5,161.0 L371.0,161.0 L370.4,161.0 L369.8,161.0 L369.3,161.0 L368.7,161.0 L368.1,161.0 L367.6,161.0 L367.0,161.0 L366.4,161.0 L365.9,161.0 L365.3,161.0 L364.7,161.0 L364.2,161.0 L363.6,161.0 L363.0,161.0 L362.5,161.0 L361.9,161.0 L361.3,161.0 L360.8,161.0 L360.2,161.0 L359.7,161.0 L359.1,161.0 L358.5,161.0Z" stroke="#b565e2" stroke-width="1.9" fill="none" stroke-linejoin="round" stroke-linecap="round"/>
<path d="M358.5,161.0 L359.1,161.0 L359.7,161.0 L360.2,161.0 L360.8,161.0 L361.3,161.0 L361.9,161.0 L362.5,161.0 L363.0,161.0 L363.6,161.0 L364.2,161.0 L364.7,161.0 L365.3,161.0 L365.9,161.0 L366.4,161.0 L367.0,161.0 L367.6,161.0 L368.1,161.0 L368.7,161.0 L369.3,161.0 L369.8,161.0 L370.4,161.0 L371.0,161.0 L371.5,161.0 L372.1,161.0 L372.6,161.0 L373.2,161.0 L373.8,161.0 L374.3,161.0 L374.9,161.0 L375.5,161.0 L376.0,161.0 L376.6,161.0 L377.2,161.0 L377.7,161.0 L378.3,161.0 L378.9,161.0 L379.4,161.0 L380.0,161.0 L380.6,161.0 L381.1,161.0 L381.7,161.0 L382.3,161.0 L382.8,161.0 L383.4,161.0 L384.0,161.0 L384.5,161.0 L385.1,161.0 L385.6,161.0 L386.2,161.0 L386.8,161.0 L387.3,161.0 L387.9,161.0 L388.5,161.0 L389.0,161.0 L389.6,160.9 L390.2,160.9 L390.7,160.9 L391.3,160.9 L391.9,160.9 L392.4,160.9 L393.0,160.9 L393.6,160.9 L394.1,160.9 L394.7,160.9 L395.3,160.9 L395.8,160.9 L396.4,160.9 L397.0,160.9 L397.5,160.9 L398.1,160.9 L398.6,160.9 L399.2,160.9 L399.8,160.9 L400.3,160.9 L400.9,160.9 L401.5,160.9 L402.0,160.9 L402.6,160.9 L403.2,160.9 L403.7,160.9 L404.3,160.9 L404.9,160.9 L405.4,160.9 L406.0,160.9 L406.6,160.9 L407.1,160.9 L407.7,160.9 L408.3,160.9 L408.8,160.9 L409.4,160.9 L409.9,160.9 L410.5,160.9 L411.1,160.9 L411.6,160.9 L412.2,160.9 L412.8,160.9 L413.3,160.9 L413.9,160.9 L414.5,160.9 L415.0,160.9 L415.6,160.9 L416.2,160.9 L416.7,160.9 L417.3,160.9 L417.9,160.9 L418.4,160.9 L419.0,160.9 L419.6,160.9 L420.1,160.9 L420.7,160.9 L421.3,160.9 L421.8,160.8 L422.4,160.8 L422.9,160.8 L423.5,160.8 L424.1,160.8 L424.6,160.8 L425.2,160.8 L425.8,160.8 L426.3,160.8 L426.9,160.8 L427.5,160.8 L428.0,160.7 L428.6,160.7 L429.2,160.7 L429.7,160.7 L430.3,160.7 L430.9,160.6 L431.4,160.6 L432.0,160.6 L432.6,160.6 L433.1,160.5 L433.7,160.5 L434.3,160.4 L434.8,160.4 L435.4,160.3 L435.9,160.3 L436.5,160.2 L437.1,160.1 L437.6,160.0 L438.2,160.0 L438.8,159.9 L439.3,159.8 L439.9,159.6 L440.5,159.5 L441.0,159.4 L441.6,159.2 L442.2,159.1 L442.7,158.9 L443.3,158.7 L443.9,158.5 L444.4,158.2 L445.0,158.0 L445.6,157.7 L446.1,157.4 L446.7,157.1 L447.2,156.8 L447.8,156.4 L448.4,156.1 L448.9,155.7 L449.5,155.2 L450.1,154.8 L450.6,154.3 L451.2,153.8 L451.8,153.2 L452.3,152.6 L452.9,152.0 L453.5,151.4 L454.0,150.7 L454.6,150.0 L455.2,149.2 L455.7,148.5 L456.3,147.7 L456.9,146.8 L457.4,145.9 L458.0,145.0 L458.6,144.1 L459.1,143.1 L459.7,142.1 L460.2,141.1 L460.8,140.1 L461.4,139.0 L461.9,137.9 L462.5,136.8 L463.1,135.6 L463.6,134.5 L464.2,133.3 L464.8,132.2 L465.3,131.0 L465.9,129.8 L466.5,128.6 L467.0,127.4 L467.6,126.3 L468.2,125.1 L468.7,124.0 L469.3,122.8 L469.9,121.7 L470.4,120.7 L471.0,119.6 L471.6,118.6 L472.1,117.7 L472.7,116.7 L473.2,115.8 L473.8,115.0 L474.4,114.2 L474.9,113.5 L475.5,112.8 L476.1,112.2 L476.6,111.7 L477.2,111.2 L477.8,110.8 L478.3,110.5 L478.9,110.2 L479.5,110.0 L480.0,109.9 L480.6,109.8 L481.2,109.9 L481.7,110.0 L482.3,110.1 L482.9,110.4 L483.4,110.7 L484.0,111.1 L484.5,111.6 L485.1,112.1 L485.7,112.7 L486.2,113.4 L486.8,114.1 L487.4,114.9 L487.9,115.7 L488.5,116.6 L489.1,117.5 L489.6,118.4 L490.2,119.4 L490.8,120.4 L491.3,121.5 L491.9,122.5 L492.5,123.6 L493.0,124.7 L493.6,125.8 L494.2,126.9 L494.7,128.0 L495.3,129.1 L495.9,130.2 L496.4,131.3 L497.0,132.3 L497.5,133.4 L498.1,134.4 L498.7,135.4 L499.2,136.4 L499.8,137.4 L500.4,138.3 L500.9,139.2 L501.5,140.1 L502.1,140.9 L502.6,141.7 L503.2,142.4 L503.8,143.1 L504.3,143.8 L504.9,144.5 L505.5,145.1 L506.0,145.6 L506.6,146.1 L507.2,146.6 L507.7,147.1 L508.3,147.5 L508.9,147.8 L509.4,148.2 L510.0,148.5 L510.5,148.8 L511.1,149.0 L511.7,149.2 L512.2,149.4 L512.8,149.5 L513.4,149.6 L513.9,149.7 L514.5,149.7 L515.1,149.7 L515.6,149.7 L516.2,149.7 L516.8,149.7 L517.3,149.6 L517.9,149.5 L518.5,149.4 L519.0,149.2 L519.6,149.1 L520.2,148.9 L520.7,148.7 L521.3,148.5 L521.8,148.3 L522.4,148.0 L523.0,147.8 L523.5,147.5 L524.1,147.2 L524.7,146.9 L525.2,146.6 L525.8,146.2 L526.4,145.9 L526.9,145.5 L527.5,145.1 L527.5,148.0 L526.9,148.7 L526.4,149.4 L525.8,150.0 L525.2,150.7 L524.7,151.3 L524.1,151.8 L523.5,152.4 L523.0,152.9 L522.4,153.4 L521.8,153.9 L521.3,154.3 L520.7,154.7 L520.2,155.1 L519.6,155.5 L519.0,155.9 L518.5,156.2 L517.9,156.6 L517.3,156.9 L516.8,157.2 L516.2,157.5 L515.6,157.7 L515.1,158.0 L514.5,158.2 L513.9,158.5 L513.4,158.7 L512.8,158.9 L512.2,159.1 L511.7,159.3 L511.1,159.5 L510.5,159.6 L510.0,159.8 L509.4,160.0 L508.9,160.1 L508.3,160.2 L507.7,160.4 L507.2,160.5 L506.6,160.6 L506.0,160.7 L505.5,160.9 L504.9,161.0 L504.3,161.1 L503.8,161.2 L503.2,161.2 L502.6,161.3 L502.1,161.4 L501.5,161.5 L500.9,161.6 L500.4,161.6 L499.8,161.7 L499.2,161.8 L498.7,161.8 L498.1,161.9 L497.5,161.9 L497.0,162.0 L496.4,162.0 L495.9,162.1 L495.3,162.1 L494.7,162.2 L494.2,162.2 L493.6,162.2 L493.0,162.3 L492.5,162.3 L491.9,162.3 L491.3,162.4 L490.8,162.4 L490.2,162.4 L489.6,162.4 L489.1,162.4 L488.5,162.4 L487.9,162.4 L487.4,162.4 L486.8,162.4 L486.2,162.3 L485.7,162.3 L485.1,162.3 L484.5,162.2 L484.0,162.1 L483.4,162.0 L482.9,161.9 L482.3,161.7 L481.7,161.6 L481.2,161.4 L480.6,161.1 L480.0,160.9 L479.5,160.5 L478.9,160.2 L478.3,159.8 L477.8,159.3 L477.2,158.8 L476.6,158.2 L476.1,157.6 L475.5,156.9 L474.9,156.1 L474.4,155.2 L473.8,154.3 L473.2,153.3 L472.7,152.1 L472.1,151.0 L471.6,149.7 L471.0,148.3 L470.4,146.9 L469.9,145.4 L469.3,143.8 L468.7,142.1 L468.2,140.4 L467.6,138.7 L467.0,136.9 L466.5,135.0 L465.9,133.2 L465.3,131.3 L464.8,129.5 L464.2,127.7 L463.6,125.9 L463.1,124.2 L462.5,122.5 L461.9,120.9 L461.4,119.5 L460.8,118.1 L460.2,116.9 L459.7,115.9 L459.1,114.9 L458.6,114.2 L458.0,113.6 L457.4,113.2 L456.9,113.0 L456.3,113.0 L455.7,113.1 L455.2,113.4 L454.6,113.9 L454.0,114.5 L453.5,115.3 L452.9,116.2 L452.3,117.2 L451.8,118.3 L451.2,119.6 L450.6,121.0 L450.1,122.4 L449.5,124.0 L448.9,125.5 L448.4,127.2 L447.8,128.9 L447.2,130.6 L446.7,132.3 L446.1,134.0 L445.6,135.7 L445.0,137.4 L444.4,139.1 L443.9,140.7 L443.3,142.3 L442.7,143.9 L442.2,145.3 L441.6,146.8 L441.0,148.1 L440.5,149.4 L439.9,150.6 L439.3,151.8 L438.8,152.8 L438.2,153.8 L437.6,154.7 L437.1,155.6 L436.5,156.4 L435.9,157.1 L435.4,157.8 L434.8,158.4 L434.3,158.9 L433.7,159.4 L433.1,159.9 L432.6,160.3 L432.0,160.6 L431.4,160.9 L430.9,161.2 L430.3,161.5 L429.7,161.7 L429.2,161.9 L428.6,162.0 L428.0,162.2 L427.5,162.3 L426.9,162.4 L426.3,162.5 L425.8,162.6 L425.2,162.7 L424.6,162.7 L424.1,162.8 L423.5,162.8 L422.9,162.9 L422.4,162.9 L421.8,162.9 L421.3,162.9 L420.7,162.9 L420.1,163.0 L419.6,163.0 L419.0,163.0 L418.4,163.0 L417.9,163.0 L417.3,163.0 L416.7,163.0 L416.2,163.0 L415.6,163.0 L415.0,163.0 L414.5,163.0 L413.9,163.0 L413.3,163.0 L412.8,163.0 L412.2,163.0 L411.6,163.0 L411.1,163.0 L410.5,163.0 L409.9,163.0 L409.4,163.0 L408.8,163.0 L408.3,163.0 L407.7,163.0 L407.1,163.0 L406.6,163.0 L406.0,163.0 L405.4,163.0 L404.9,163.0 L404.3,163.0 L403.7,163.0 L403.2,163.0 L402.6,163.0 L402.0,163.0 L401.5,163.0 L400.9,163.0 L400.3,163.0 L399.8,163.0 L399.2,163.0 L398.6,163.0 L398.1,163.0 L397.5,163.0 L397.0,163.0 L396.4,163.0 L395.8,163.0 L395.3,163.0 L394.7,163.0 L394.1,163.0 L393.6,163.0 L393.0,163.0 L392.4,163.0 L391.9,163.0 L391.3,163.0 L390.7,163.0 L390.2,163.0 L389.6,163.0 L389.0,163.0 L388.5,163.0 L387.9,163.0 L387.3,163.0 L386.8,163.0 L386.2,163.0 L385.6,163.0 L385.1,163.0 L384.5,163.0 L384.0,163.0 L383.4,163.0 L382.8,163.0 L382.3,163.0 L381.7,163.0 L381.1,163.0 L380.6,163.0 L380.0,163.0 L379.4,163.0 L378.9,163.0 L378.3,163.0 L377.7,163.0 L377.2,163.0 L376.6,163.0 L376.0,163.0 L375.5,163.0 L374.9,163.0 L374.3,163.0 L373.8,163.0 L373.2,163.0 L372.6,163.0 L372.1,163.0 L371.5,163.0 L371.0,163.0 L370.4,163.0 L369.8,163.0 L369.3,163.0 L368.7,163.0 L368.1,163.0 L367.6,163.0 L367.0,163.0 L366.4,163.0 L365.9,163.0 L365.3,163.0 L364.7,163.0 L364.2,163.0 L363.6,163.0 L363.0,163.0 L362.5,163.0 L361.9,163.0 L361.3,163.0 L360.8,163.0 L360.2,163.0 L359.7,163.0 L359.1,163.0 L358.5,163.0Z" stroke="#3a3a3a" stroke-width="1.9" fill="none" stroke-linejoin="round" stroke-linecap="round"/>
<path d="M358.5,161.2 L359.1,161.2 L359.7,161.2 L360.2,161.2 L360.8,161.2 L361.3,161.2 L361.9,161.2 L362.5,161.2 L363.0,161.2 L363.6,161.2 L364.2,161.2 L364.7,161.2 L365.3,161.1 L365.9,161.1 L366.4,161.1 L367.0,161.1 L367.6,161.1 L368.1,161.1 L368.7,161.1 L369.3,161.1 L369.8,161.1 L370.4,161.1 L371.0,161.1 L371.5,161.1 L372.1,161.1 L372.6,161.1 L373.2,161.1 L373.8,161.1 L374.3,161.1 L374.9,161.1 L375.5,161.1 L376.0,161.1 L376.6,161.1 L377.2,161.1 L377.7,161.1 L378.3,161.1 L378.9,161.1 L379.4,161.1 L380.0,161.1 L380.6,161.1 L381.1,161.1 L381.7,161.1 L382.3,161.1 L382.8,161.1 L383.4,161.1 L384.0,161.1 L384.5,161.1 L385.1,161.1 L385.6,161.1 L386.2,161.1 L386.8,161.1 L387.3,161.1 L387.9,161.1 L388.5,161.1 L389.0,161.1 L389.6,161.1 L390.2,161.1 L390.7,161.1 L391.3,161.1 L391.9,161.0 L392.4,161.0 L393.0,161.0 L393.6,161.0 L394.1,161.0 L394.7,161.0 L395.3,161.0 L395.8,161.0 L396.4,161.0 L397.0,161.0 L397.5,161.0 L398.1,161.0 L398.6,161.0 L399.2,161.0 L399.8,161.0 L400.3,161.0 L400.9,161.0 L401.5,161.0 L402.0,161.0 L402.6,161.0 L403.2,161.0 L403.7,161.0 L404.3,161.0 L404.9,160.9 L405.4,160.9 L406.0,160.9 L406.6,160.9 L407.1,160.9 L407.7,160.9 L408.3,160.9 L408.8,160.9 L409.4,160.9 L409.9,160.9 L410.5,160.9 L411.1,160.9 L411.6,160.9 L412.2,160.9 L412.8,160.9 L413.3,160.9 L413.9,160.8 L414.5,160.8 L415.0,160.8 L415.6,160.8 L416.2,160.8 L416.7,160.8 L417.3,160.8 L417.9,160.8 L418.4,160.8 L419.0,160.8 L419.6,160.8 L420.1,160.7 L420.7,160.7 L421.3,160.7 L421.8,160.7 L422.4,160.7 L422.9,160.7 L423.5,160.7 L424.1,160.6 L424.6,160.6 L425.2,160.6 L425.8,160.6 L426.3,160.6 L426.9,160.5 L427.5,160.5 L428.0,160.5 L428.6,160.4 L429.2,160.4 L429.7,160.4 L430.3,160.3 L430.9,160.3 L431.4,160.2 L432.0,160.2 L432.6,160.1 L433.1,160.0 L433.7,160.0 L434.3,159.9 L434.8,159.8 L435.4,159.7 L435.9,159.6 L436.5,159.5 L437.1,159.4 L437.6,159.3 L438.2,159.1 L438.8,159.0 L439.3,158.8 L439.9,158.6 L440.5,158.4 L441.0,158.2 L441.6,158.0 L442.2,157.7 L442.7,157.5 L443.3,157.2 L443.9,156.9 L444.4,156.5 L445.0,156.2 L445.6,155.8 L446.1,155.4 L446.7,154.9 L447.2,154.4 L447.8,153.9 L448.4,153.4 L448.9,152.8 L449.5,152.2 L450.1,151.6 L450.6,150.9 L451.2,150.1 L451.8,149.4 L452.3,148.6 L452.9,147.7 L453.5,146.8 L454.0,145.9 L454.6,144.9 L455.2,143.9 L455.7,142.8 L456.3,141.7 L456.9,140.5 L457.4,139.3 L458.0,138.1 L458.6,136.8 L459.1,135.4 L459.7,134.0 L460.2,132.6 L460.8,131.2 L461.4,129.7 L461.9,128.1 L462.5,126.6 L463.1,125.0 L463.6,123.4 L464.2,121.8 L464.8,120.1 L465.3,118.4 L465.9,116.8 L466.5,115.1 L467.0,113.4 L467.6,111.7 L468.2,110.0 L468.7,108.3 L469.3,106.7 L469.9,105.1 L470.4,103.4 L471.0,101.9 L471.6,100.3 L472.1,98.8 L472.7,97.4 L473.2,96.0 L473.8,94.6 L474.4,93.3 L474.9,92.1 L475.5,90.9 L476.1,89.9 L476.6,88.8 L477.2,87.9 L477.8,87.1 L478.3,86.3 L478.9,85.7 L479.5,85.1 L480.0,84.6 L480.6,84.2 L481.2,83.9 L481.7,83.8 L482.3,83.7 L482.9,83.8 L483.4,84.1 L484.0,84.6 L484.5,85.3 L485.1,86.2 L485.7,87.3 L486.2,88.5 L486.8,89.9 L487.4,91.5 L487.9,93.2 L488.5,95.0 L489.1,96.9 L489.6,98.9 L490.2,101.0 L490.8,103.1 L491.3,105.3 L491.9,107.6 L492.5,109.8 L493.0,112.0 L493.6,114.3 L494.2,116.5 L494.7,118.7 L495.3,120.8 L495.9,122.9 L496.4,124.9 L497.0,126.9 L497.5,128.8 L498.1,130.5 L498.7,132.2 L499.2,133.9 L499.8,135.4 L500.4,136.8 L500.9,138.1 L501.5,139.4 L502.1,140.5 L502.6,141.6 L503.2,142.5 L503.8,143.4 L504.3,144.2 L504.9,144.9 L505.5,145.5 L506.0,146.0 L506.6,146.5 L507.2,146.9 L507.7,147.3 L508.3,147.6 L508.9,147.8 L509.4,148.0 L510.0,148.1 L510.5,148.2 L511.1,148.3 L511.7,148.3 L512.2,148.3 L512.8,148.2 L513.4,148.1 L513.9,148.0 L514.5,147.9 L515.1,147.8 L515.6,147.6 L516.2,147.4 L516.8,147.2 L517.3,147.0 L517.9,146.8 L518.5,146.5 L519.0,146.3 L519.6,146.0 L520.2,145.7 L520.7,145.5 L521.3,145.2 L521.8,144.9 L522.4,144.5 L523.0,144.2 L523.5,143.9 L524.1,143.5 L524.7,143.2 L525.2,142.8 L525.8,142.5 L526.4,142.1 L526.9,141.7 L527.5,141.3 L527.5,143.7 L526.9,144.4 L526.4,145.1 L525.8,145.8 L525.2,146.4 L524.7,147.0 L524.1,147.5 L523.5,148.1 L523.0,148.6 L522.4,149.1 L521.8,149.6 L521.3,150.0 L520.7,150.4 L520.2,150.9 L519.6,151.3 L519.0,151.6 L518.5,152.0 L517.9,152.3 L517.3,152.7 L516.8,153.0 L516.2,153.3 L515.6,153.6 L515.1,153.9 L514.5,154.1 L513.9,154.4 L513.4,154.6 L512.8,154.9 L512.2,155.1 L511.7,155.3 L511.1,155.5 L510.5,155.7 L510.0,155.9 L509.4,156.1 L508.9,156.2 L508.3,156.4 L507.7,156.5 L507.2,156.7 L506.6,156.8 L506.0,157.0 L505.5,157.1 L504.9,157.2 L504.3,157.4 L503.8,157.5 L503.2,157.6 L502.6,157.7 L502.1,157.8 L501.5,157.9 L500.9,158.0 L500.4,158.1 L499.8,158.1 L499.2,158.2 L498.7,158.3 L498.1,158.4 L497.5,158.4 L497.0,158.5 L496.4,158.6 L495.9,158.6 L495.3,158.7 L494.7,158.8 L494.2,158.8 L493.6,158.9 L493.0,158.9 L492.5,158.9 L491.9,159.0 L491.3,159.0 L490.8,159.0 L490.2,159.1 L489.6,159.1 L489.1,159.1 L488.5,159.1 L487.9,159.1 L487.4,159.1 L486.8,159.1 L486.2,159.0 L485.7,159.0 L485.1,158.9 L484.5,158.8 L484.0,158.6 L483.4,158.5 L482.9,158.2 L482.3,158.0 L481.7,157.7 L481.2,157.3 L480.6,156.8 L480.0,156.3 L479.5,155.7 L478.9,155.0 L478.3,154.1 L477.8,153.2 L477.2,152.1 L476.6,150.9 L476.1,149.6 L475.5,148.1 L474.9,146.4 L474.4,144.6 L473.8,142.6 L473.2,140.5 L472.7,138.2 L472.1,135.7 L471.6,133.1 L471.0,130.4 L470.4,127.6 L469.9,124.7 L469.3,121.7 L468.7,118.7 L468.2,115.6 L467.6,112.6 L467.0,109.7 L466.5,106.8 L465.9,104.1 L465.3,101.5 L464.8,99.2 L464.2,97.0 L463.6,95.2 L463.1,93.6 L462.5,92.3 L461.9,91.4 L461.4,90.8 L460.8,90.6 L460.2,90.7 L459.7,91.0 L459.1,91.5 L458.6,92.1 L458.0,93.0 L457.4,94.0 L456.9,95.2 L456.3,96.5 L455.7,98.0 L455.2,99.6 L454.6,101.4 L454.0,103.2 L453.5,105.2 L452.9,107.2 L452.3,109.3 L451.8,111.4 L451.2,113.6 L450.6,115.9 L450.1,118.1 L449.5,120.3 L448.9,122.5 L448.4,124.7 L447.8,126.9 L447.2,129.0 L446.7,131.1 L446.1,133.1 L445.6,135.0 L445.0,136.8 L444.4,138.6 L443.9,140.3 L443.3,141.9 L442.7,143.5 L442.2,144.9 L441.6,146.3 L441.0,147.5 L440.5,148.7 L439.9,149.8 L439.3,150.8 L438.8,151.8 L438.2,152.6 L437.6,153.4 L437.1,154.2 L436.5,154.8 L435.9,155.4 L435.4,155.9 L434.8,156.4 L434.3,156.9 L433.7,157.3 L433.1,157.6 L432.6,157.9 L432.0,158.2 L431.4,158.4 L430.9,158.7 L430.3,158.8 L429.7,159.0 L429.2,159.2 L428.6,159.3 L428.0,159.4 L427.5,159.5 L426.9,159.6 L426.3,159.6 L425.8,159.7 L425.2,159.7 L424.6,159.8 L424.1,159.8 L423.5,159.9 L422.9,159.9 L422.4,159.9 L421.8,159.9 L421.3,159.9 L420.7,159.9 L420.1,160.0 L419.6,160.0 L419.0,160.0 L418.4,160.0 L417.9,160.0 L417.3,160.0 L416.7,160.0 L416.2,160.0 L415.6,160.0 L415.0,160.0 L414.5,160.0 L413.9,160.0 L413.3,160.0 L412.8,160.0 L412.2,160.0 L411.6,160.0 L411.1,160.0 L410.5,160.0 L409.9,160.0 L409.4,160.0 L408.8,160.0 L408.3,160.0 L407.7,160.0 L407.1,160.0 L406.6,160.0 L406.0,160.0 L405.4,160.0 L404.9,160.0 L404.3,160.0 L403.7,160.0 L403.2,160.0 L402.6,160.0 L402.0,160.0 L401.5,160.0 L400.9,160.0 L400.3,160.0 L399.8,160.0 L399.2,160.0 L398.6,160.0 L398.1,160.0 L397.5,160.0 L397.0,160.0 L396.4,160.0 L395.8,160.0 L395.3,160.0 L394.7,160.0 L394.1,160.0 L393.6,160.0 L393.0,160.0 L392.4,160.0 L391.9,160.0 L391.3,160.0 L390.7,160.0 L390.2,160.0 L389.6,160.0 L389.0,160.0 L388.5,160.0 L387.9,160.0 L387.3,160.0 L386.8,160.0 L386.2,160.0 L385.6,160.0 L385.1,160.0 L384.5,160.0 L384.0,160.0 L383.4,160.0 L382.8,160.0 L382.3,160.0 L381.7,160.0 L381.1,160.0 L380.6,160.0 L380.0,160.0 L379.4,160.0 L378.9,160.0 L378.3,160.0 L377.7,160.0 L377.2,160.0 L376.6,160.0 L376.0,160.0 L375.5,160.0 L374.9,160.0 L374.3,160.0 L373.8,160.0 L373.2,160.0 L372.6,160.0 L372.1,160.0 L371.5,160.0 L371.0,160.0 L370.4,160.0 L369.8,160.0 L369.3,160.0 L368.7,160.0 L368.1,160.0 L367.6,160.0 L367.0,160.0 L366.4,160.0 L365.9,160.0 L365.3,160.0 L364.7,160.0 L364.2,160.0 L363.6,160.0 L363.0,160.0 L362.5,160.0 L361.9,160.0 L361.3,160.0 L360.8,160.0 L360.2,160.0 L359.7,160.0 L359.1,160.0 L358.5,160.0Z" stroke="#f5922f" stroke-width="1.9" fill="none" stroke-linejoin="round" stroke-linecap="round"/>
<path d="M358.5,160.6 L359.1,160.6 L359.7,160.6 L360.2,160.6 L360.8,160.6 L361.3,160.6 L361.9,160.6 L362.5,160.6 L363.0,160.6 L363.6,160.5 L364.2,160.5 L364.7,160.5 L365.3,160.5 L365.9,160.5 L366.4,160.5 L367.0,160.5 L367.6,160.5 L368.1,160.5 L368.7,160.5 L369.3,160.5 L369.8,160.5 L370.4,160.5 L371.0,160.5 L371.5,160.5 L372.1,160.5 L372.6,160.5 L373.2,160.5 L373.8,160.5 L374.3,160.5 L374.9,160.5 L375.5,160.5 L376.0,160.5 L376.6,160.5 L377.2,160.5 L377.7,160.5 L378.3,160.5 L378.9,160.5 L379.4,160.5 L380.0,160.5 L380.6,160.5 L381.1,160.5 L381.7,160.5 L382.3,160.5 L382.8,160.5 L383.4,160.4 L384.0,160.4 L384.5,160.4 L385.1,160.4 L385.6,160.4 L386.2,160.4 L386.8,160.4 L387.3,160.4 L387.9,160.4 L388.5,160.4 L389.0,160.4 L389.6,160.4 L390.2,160.4 L390.7,160.4 L391.3,160.4 L391.9,160.4 L392.4,160.4 L393.0,160.4 L393.6,160.4 L394.1,160.4 L394.7,160.3 L395.3,160.3 L395.8,160.3 L396.4,160.3 L397.0,160.3 L397.5,160.3 L398.1,160.3 L398.6,160.3 L399.2,160.3 L399.8,160.3 L400.3,160.3 L400.9,160.3 L401.5,160.3 L402.0,160.3 L402.6,160.2 L403.2,160.2 L403.7,160.2 L404.3,160.2 L404.9,160.2 L405.4,160.2 L406.0,160.2 L406.6,160.2 L407.1,160.2 L407.7,160.2 L408.3,160.1 L408.8,160.1 L409.4,160.1 L409.9,160.1 L410.5,160.1 L411.1,160.1 L411.6,160.1 L412.2,160.1 L412.8,160.0 L413.3,160.0 L413.9,160.0 L414.5,160.0 L415.0,160.0 L415.6,160.0 L416.2,159.9 L416.7,159.9 L417.3,159.9 L417.9,159.9 L418.4,159.8 L419.0,159.8 L419.6,159.8 L420.1,159.7 L420.7,159.7 L421.3,159.7 L421.8,159.6 L422.4,159.6 L422.9,159.5 L423.5,159.5 L424.1,159.4 L424.6,159.4 L425.2,159.3 L425.8,159.2 L426.3,159.2 L426.9,159.1 L427.5,159.0 L428.0,158.9 L428.6,158.8 L429.2,158.7 L429.7,158.6 L430.3,158.5 L430.9,158.3 L431.4,158.2 L432.0,158.0 L432.6,157.9 L433.1,157.7 L433.7,157.5 L434.3,157.3 L434.8,157.1 L435.4,156.8 L435.9,156.6 L436.5,156.3 L437.1,156.0 L437.6,155.7 L438.2,155.4 L438.8,155.0 L439.3,154.6 L439.9,154.2 L440.5,153.8 L441.0,153.3 L441.6,152.8 L442.2,152.3 L442.7,151.7 L443.3,151.1 L443.9,150.5 L444.4,149.8 L445.0,149.1 L445.6,148.4 L446.1,147.6 L446.7,146.8 L447.2,145.9 L447.8,145.0 L448.4,144.1 L448.9,143.1 L449.5,142.0 L450.1,140.9 L450.6,139.8 L451.2,138.6 L451.8,137.3 L452.3,136.0 L452.9,134.7 L453.5,133.2 L454.0,131.8 L454.6,130.3 L455.2,128.7 L455.7,127.1 L456.3,125.4 L456.9,123.6 L457.4,121.8 L458.0,120.0 L458.6,118.1 L459.1,116.2 L459.7,114.2 L460.2,112.1 L460.8,110.1 L461.4,107.9 L461.9,105.8 L462.5,103.6 L463.1,101.4 L463.6,99.1 L464.2,96.8 L464.8,94.5 L465.3,92.1 L465.9,89.8 L466.5,87.4 L467.0,85.0 L467.6,82.6 L468.2,80.2 L468.7,77.9 L469.3,75.5 L469.9,73.1 L470.4,70.8 L471.0,68.4 L471.6,66.1 L472.1,63.9 L472.7,61.6 L473.2,59.5 L473.8,57.3 L474.4,55.2 L474.9,53.2 L475.5,51.3 L476.1,49.4 L476.6,47.5 L477.2,45.8 L477.8,44.1 L478.3,42.6 L478.9,41.1 L479.5,39.7 L480.0,38.4 L480.6,37.2 L481.2,36.1 L481.7,35.1 L482.3,34.2 L482.9,33.5 L483.4,32.8 L484.0,32.3 L484.5,31.8 L485.1,31.5 L485.7,31.3 L486.2,31.4 L486.8,31.8 L487.4,32.6 L487.9,33.8 L488.5,35.3 L489.1,37.1 L489.6,39.3 L490.2,41.7 L490.8,44.4 L491.3,47.3 L491.9,50.5 L492.5,53.8 L493.0,57.3 L493.6,61.0 L494.2,64.7 L494.7,68.5 L495.3,72.3 L495.9,76.2 L496.4,80.1 L497.0,83.9 L497.5,87.7 L498.1,91.4 L498.7,95.0 L499.2,98.5 L499.8,101.9 L500.4,105.1 L500.9,108.2 L501.5,111.1 L502.1,113.9 L502.6,116.5 L503.2,118.9 L503.8,121.2 L504.3,123.3 L504.9,125.2 L505.5,126.9 L506.0,128.5 L506.6,130.0 L507.2,131.2 L507.7,132.4 L508.3,133.3 L508.9,134.2 L509.4,134.9 L510.0,135.6 L510.5,136.1 L511.1,136.5 L511.7,136.8 L512.2,137.0 L512.8,137.2 L513.4,137.2 L513.9,137.3 L514.5,137.2 L515.1,137.1 L515.6,136.9 L516.2,136.7 L516.8,136.5 L517.3,136.2 L517.9,135.9 L518.5,135.5 L519.0,135.1 L519.6,134.7 L520.2,134.3 L520.7,133.8 L521.3,133.3 L521.8,132.8 L522.4,132.3 L523.0,131.8 L523.5,131.2 L524.1,130.6 L524.7,130.1 L525.2,129.5 L525.8,128.8 L526.4,128.2 L526.9,127.5 L527.5,126.9 L527.5,129.3 L526.9,130.4 L526.4,131.4 L525.8,132.4 L525.2,133.4 L524.7,134.4 L524.1,135.3 L523.5,136.2 L523.0,137.0 L522.4,137.8 L521.8,138.6 L521.3,139.4 L520.7,140.1 L520.2,140.8 L519.6,141.5 L519.0,142.1 L518.5,142.7 L517.9,143.4 L517.3,143.9 L516.8,144.5 L516.2,145.0 L515.6,145.6 L515.1,146.1 L514.5,146.6 L513.9,147.0 L513.4,147.5 L512.8,147.9 L512.2,148.3 L511.7,148.7 L511.1,149.1 L510.5,149.5 L510.0,149.8 L509.4,150.2 L508.9,150.5 L508.3,150.9 L507.7,151.2 L507.2,151.5 L506.6,151.8 L506.0,152.0 L505.5,152.3 L504.9,152.6 L504.3,152.8 L503.8,153.0 L503.2,153.3 L502.6,153.5 L502.1,153.7 L501.5,153.9 L500.9,154.1 L500.4,154.3 L499.8,154.5 L499.2,154.7 L498.7,154.8 L498.1,155.0 L497.5,155.2 L497.0,155.3 L496.4,155.5 L495.9,155.6 L495.3,155.8 L494.7,155.9 L494.2,156.0 L493.6,156.1 L493.0,156.3 L492.5,156.4 L491.9,156.5 L491.3,156.6 L490.8,156.7 L490.2,156.7 L489.6,156.8 L489.1,156.9 L488.5,156.9 L487.9,156.9 L487.4,157.0 L486.8,156.9 L486.2,156.9 L485.7,156.8 L485.1,156.6 L484.5,156.4 L484.0,156.1 L483.4,155.7 L482.9,155.2 L482.3,154.6 L481.7,153.8 L481.2,152.8 L480.6,151.6 L480.0,150.2 L479.5,148.4 L478.9,146.4 L478.3,144.0 L477.8,141.3 L477.2,138.1 L476.6,134.5 L476.1,130.5 L475.5,126.1 L474.9,121.2 L474.4,115.9 L473.8,110.3 L473.2,104.3 L472.7,97.9 L472.1,91.4 L471.6,84.8 L471.0,78.0 L470.4,71.4 L469.9,64.9 L469.3,58.7 L468.7,53.0 L468.2,47.7 L467.6,43.1 L467.0,39.2 L466.5,36.1 L465.9,33.9 L465.3,32.7 L464.8,32.4 L464.2,32.6 L463.6,32.9 L463.1,33.5 L462.5,34.2 L461.9,35.2 L461.4,36.3 L460.8,37.7 L460.2,39.2 L459.7,40.8 L459.1,42.7 L458.6,44.7 L458.0,46.8 L457.4,49.1 L456.9,51.5 L456.3,54.0 L455.7,56.6 L455.2,59.4 L454.6,62.2 L454.0,65.0 L453.5,68.0 L452.9,71.0 L452.3,74.0 L451.8,77.1 L451.2,80.1 L450.6,83.2 L450.1,86.3 L449.5,89.4 L448.9,92.4 L448.4,95.4 L447.8,98.4 L447.2,101.3 L446.7,104.2 L446.1,107.0 L445.6,109.8 L445.0,112.5 L444.4,115.1 L443.9,117.6 L443.3,120.1 L442.7,122.5 L442.2,124.7 L441.6,126.9 L441.0,129.0 L440.5,131.0 L439.9,133.0 L439.3,134.8 L438.8,136.5 L438.2,138.2 L437.6,139.7 L437.1,141.2 L436.5,142.6 L435.9,143.9 L435.4,145.1 L434.8,146.3 L434.3,147.4 L433.7,148.4 L433.1,149.3 L432.6,150.2 L432.0,151.0 L431.4,151.8 L430.9,152.5 L430.3,153.1 L429.7,153.7 L429.2,154.2 L428.6,154.7 L428.0,155.2 L427.5,155.6 L426.9,156.0 L426.3,156.3 L425.8,156.7 L425.2,157.0 L424.6,157.2 L424.1,157.4 L423.5,157.7 L422.9,157.9 L422.4,158.0 L421.8,158.2 L421.3,158.3 L420.7,158.4 L420.1,158.6 L419.6,158.7 L419.0,158.7 L418.4,158.8 L417.9,158.9 L417.3,159.0 L416.7,159.0 L416.2,159.1 L415.6,159.1 L415.0,159.1 L414.5,159.2 L413.9,159.2 L413.3,159.2 L412.8,159.3 L412.2,159.3 L411.6,159.3 L411.1,159.3 L410.5,159.3 L409.9,159.3 L409.4,159.3 L408.8,159.3 L408.3,159.4 L407.7,159.4 L407.1,159.4 L406.6,159.4 L406.0,159.4 L405.4,159.4 L404.9,159.4 L404.3,159.4 L403.7,159.4 L403.2,159.4 L402.6,159.4 L402.0,159.4 L401.5,159.4 L400.9,159.4 L400.3,159.4 L399.8,159.4 L399.2,159.4 L398.6,159.4 L398.1,159.4 L397.5,159.4 L397.0,159.4 L396.4,159.4 L395.8,159.4 L395.3,159.4 L394.7,159.4 L394.1,159.4 L393.6,159.4 L393.0,159.4 L392.4,159.4 L391.9,159.4 L391.3,159.4 L390.7,159.4 L390.2,159.4 L389.6,159.4 L389.0,159.4 L388.5,159.4 L387.9,159.4 L387.3,159.4 L386.8,159.4 L386.2,159.4 L385.6,159.4 L385.1,159.4 L384.5,159.4 L384.0,159.4 L383.4,159.4 L382.8,159.4 L382.3,159.4 L381.7,159.4 L381.1,159.4 L380.6,159.4 L380.0,159.4 L379.4,159.4 L378.9,159.4 L378.3,159.4 L377.7,159.4 L377.2,159.4 L376.6,159.4 L376.0,159.4 L375.5,159.4 L374.9,159.4 L374.3,159.4 L373.8,159.4 L373.2,159.4 L372.6,159.4 L372.1,159.4 L371.5,159.4 L371.0,159.4 L370.4,159.4 L369.8,159.4 L369.3,159.4 L368.7,159.4 L368.1,159.4 L367.6,159.4 L367.0,159.4 L366.4,159.4 L365.9,159.4 L365.3,159.4 L364.7,159.4 L364.2,159.4 L363.6,159.4 L363.0,159.4 L362.5,159.4 L361.9,159.4 L361.3,159.4 L360.8,159.4 L360.2,159.4 L359.7,159.4 L359.1,159.4 L358.5,159.4Z" stroke="#2f77c0" stroke-width="1.9" fill="none" stroke-linejoin="round" stroke-linecap="round"/>
<path d="M358.5,161.2 L359.1,161.2 L359.7,161.2 L360.2,161.2 L360.8,161.2 L361.3,161.2 L361.9,161.2 L362.5,161.2 L363.0,161.2 L363.6,161.2 L364.2,161.2 L364.7,161.2 L365.3,161.2 L365.9,161.2 L366.4,161.2 L367.0,161.2 L367.6,161.2 L368.1,161.2 L368.7,161.2 L369.3,161.2 L369.8,161.2 L370.4,161.2 L371.0,161.2 L371.5,161.2 L372.1,161.2 L372.6,161.2 L373.2,161.2 L373.8,161.2 L374.3,161.2 L374.9,161.2 L375.5,161.2 L376.0,161.2 L376.6,161.2 L377.2,161.2 L377.7,161.2 L378.3,161.2 L378.9,161.2 L379.4,161.2 L380.0,161.2 L380.6,161.2 L381.1,161.2 L381.7,161.2 L382.3,161.2 L382.8,161.2 L383.4,161.2 L384.0,161.2 L384.5,161.2 L385.1,161.2 L385.6,161.2 L386.2,161.2 L386.8,161.2 L387.3,161.2 L387.9,161.2 L388.5,161.2 L389.0,161.2 L389.6,161.2 L390.2,161.2 L390.7,161.2 L391.3,161.2 L391.9,161.2 L392.4,161.2 L393.0,161.2 L393.6,161.2 L394.1,161.2 L394.7,161.2 L395.3,161.2 L395.8,161.2 L396.4,161.2 L397.0,161.2 L397.5,161.2 L398.1,161.2 L398.6,161.2 L399.2,161.2 L399.8,161.2 L400.3,161.2 L400.9,161.2 L401.5,161.2 L402.0,161.2 L402.6,161.2 L403.2,161.2 L403.7,161.2 L404.3,161.2 L404.9,161.2 L405.4,161.2 L406.0,161.2 L406.6,161.2 L407.1,161.2 L407.7,161.1 L408.3,161.1 L408.8,161.1 L409.4,161.1 L409.9,161.1 L410.5,161.1 L411.1,161.1 L411.6,161.1 L412.2,161.1 L412.8,161.1 L413.3,161.1 L413.9,161.1 L414.5,161.1 L415.0,161.1 L415.6,161.1 L416.2,161.1 L416.7,161.1 L417.3,161.1 L417.9,161.1 L418.4,161.1 L419.0,161.1 L419.6,161.1 L420.1,161.1 L420.7,161.1 L421.3,161.1 L421.8,161.1 L422.4,161.1 L422.9,161.1 L423.5,161.1 L424.1,161.0 L424.6,161.0 L425.2,161.0 L425.8,161.0 L426.3,161.0 L426.9,161.0 L427.5,161.0 L428.0,161.0 L428.6,160.9 L429.2,160.9 L429.7,160.9 L430.3,160.9 L430.9,160.9 L431.4,160.8 L432.0,160.8 L432.6,160.8 L433.1,160.7 L433.7,160.7 L434.3,160.6 L434.8,160.6 L435.4,160.5 L435.9,160.5 L436.5,160.4 L437.1,160.3 L437.6,160.2 L438.2,160.1 L438.8,160.0 L439.3,159.9 L439.9,159.8 L440.5,159.7 L441.0,159.5 L441.6,159.4 L442.2,159.2 L442.7,159.0 L443.3,158.8 L443.9,158.6 L444.4,158.3 L445.0,158.1 L445.6,157.8 L446.1,157.5 L446.7,157.2 L447.2,156.9 L447.8,156.5 L448.4,156.1 L448.9,155.7 L449.5,155.3 L450.1,154.8 L450.6,154.3 L451.2,153.7 L451.8,153.2 L452.3,152.6 L452.9,152.0 L453.5,151.3 L454.0,150.6 L454.6,149.9 L455.2,149.2 L455.7,148.4 L456.3,147.6 L456.9,146.7 L457.4,145.8 L458.0,144.9 L458.6,144.0 L459.1,143.0 L459.7,142.0 L460.2,141.0 L460.8,139.9 L461.4,138.8 L461.9,137.7 L462.5,136.6 L463.1,135.5 L463.6,134.4 L464.2,133.2 L464.8,132.0 L465.3,130.9 L465.9,129.7 L466.5,128.5 L467.0,127.4 L467.6,126.2 L468.2,125.1 L468.7,124.0 L469.3,122.9 L469.9,121.8 L470.4,120.8 L471.0,119.7 L471.6,118.8 L472.1,117.8 L472.7,116.9 L473.2,116.1 L473.8,115.3 L474.4,114.6 L474.9,113.9 L475.5,113.2 L476.1,112.7 L476.6,112.2 L477.2,111.8 L477.8,111.4 L478.3,111.1 L478.9,110.9 L479.5,110.7 L480.0,110.6 L480.6,110.6 L481.2,110.7 L481.7,110.8 L482.3,111.0 L482.9,111.3 L483.4,111.6 L484.0,112.0 L484.5,112.5 L485.1,113.0 L485.7,113.6 L486.2,114.3 L486.8,115.0 L487.4,115.7 L487.9,116.5 L488.5,117.4 L489.1,118.3 L489.6,119.2 L490.2,120.1 L490.8,121.1 L491.3,122.1 L491.9,123.1 L492.5,124.2 L493.0,125.2 L493.6,126.3 L494.2,127.3 L494.7,128.4 L495.3,129.4 L495.9,130.5 L496.4,131.5 L497.0,132.6 L497.5,133.6 L498.1,134.6 L498.7,135.5 L499.2,136.5 L499.8,137.4 L500.4,138.3 L500.9,139.2 L501.5,140.0 L502.1,140.8 L502.6,141.6 L503.2,142.3 L503.8,143.0 L504.3,143.7 L504.9,144.3 L505.5,144.9 L506.0,145.5 L506.6,146.0 L507.2,146.5 L507.7,146.9 L508.3,147.3 L508.9,147.7 L509.4,148.0 L510.0,148.3 L510.5,148.6 L511.1,148.8 L511.7,149.0 L512.2,149.2 L512.8,149.4 L513.4,149.5 L513.9,149.6 L514.5,149.6 L515.1,149.7 L515.6,149.7 L516.2,149.7 L516.8,149.6 L517.3,149.6 L517.9,149.5 L518.5,149.4 L519.0,149.2 L519.6,149.1 L520.2,148.9 L520.7,148.7 L521.3,148.5 L521.8,148.3 L522.4,148.1 L523.0,147.9 L523.5,147.6 L524.1,147.3 L524.7,147.0 L525.2,146.7 L525.8,146.4 L526.4,146.0 L526.9,145.7 L527.5,145.3 L527.5,147.4 L526.9,148.1 L526.4,148.8 L525.8,149.5 L525.2,150.2 L524.7,150.8 L524.1,151.4 L523.5,152.0 L523.0,152.5 L522.4,153.0 L521.8,153.5 L521.3,154.0 L520.7,154.4 L520.2,154.8 L519.6,155.2 L519.0,155.6 L518.5,156.0 L517.9,156.3 L517.3,156.6 L516.8,156.9 L516.2,157.2 L515.6,157.5 L515.1,157.8 L514.5,158.0 L513.9,158.3 L513.4,158.5 L512.8,158.7 L512.2,158.9 L511.7,159.1 L511.1,159.3 L510.5,159.5 L510.0,159.7 L509.4,159.8 L508.9,160.0 L508.3,160.1 L507.7,160.3 L507.2,160.4 L506.6,160.5 L506.0,160.7 L505.5,160.8 L504.9,160.9 L504.3,161.0 L503.8,161.1 L503.2,161.2 L502.6,161.3 L502.1,161.4 L501.5,161.4 L500.9,161.5 L500.4,161.6 L499.8,161.7 L499.2,161.7 L498.7,161.8 L498.1,161.8 L497.5,161.9 L497.0,162.0 L496.4,162.0 L495.9,162.1 L495.3,162.1 L494.7,162.1 L494.2,162.2 L493.6,162.2 L493.0,162.2 L492.5,162.3 L491.9,162.3 L491.3,162.3 L490.8,162.4 L490.2,162.4 L489.6,162.4 L489.1,162.4 L488.5,162.4 L487.9,162.4 L487.4,162.4 L486.8,162.4 L486.2,162.3 L485.7,162.3 L485.1,162.2 L484.5,162.2 L484.0,162.1 L483.4,162.0 L482.9,161.9 L482.3,161.7 L481.7,161.5 L481.2,161.3 L480.6,161.1 L480.0,160.8 L479.5,160.5 L478.9,160.1 L478.3,159.7 L477.8,159.3 L477.2,158.7 L476.6,158.2 L476.1,157.5 L475.5,156.8 L474.9,156.0 L474.4,155.1 L473.8,154.2 L473.2,153.1 L472.7,152.0 L472.1,150.8 L471.6,149.5 L471.0,148.1 L470.4,146.7 L469.9,145.2 L469.3,143.6 L468.7,141.9 L468.2,140.1 L467.6,138.4 L467.0,136.5 L466.5,134.7 L465.9,132.8 L465.3,130.9 L464.8,129.1 L464.2,127.2 L463.6,125.4 L463.1,123.7 L462.5,122.0 L461.9,120.4 L461.4,119.0 L460.8,117.6 L460.2,116.4 L459.7,115.3 L459.1,114.4 L458.6,113.6 L458.0,113.0 L457.4,112.6 L456.9,112.4 L456.3,112.4 L455.7,112.5 L455.2,112.8 L454.6,113.3 L454.0,113.9 L453.5,114.7 L452.9,115.6 L452.3,116.6 L451.8,117.8 L451.2,119.1 L450.6,120.5 L450.1,121.9 L449.5,123.5 L448.9,125.1 L448.4,126.8 L447.8,128.5 L447.2,130.2 L446.7,131.9 L446.1,133.7 L445.6,135.4 L445.0,137.1 L444.4,138.8 L443.9,140.5 L443.3,142.1 L442.7,143.6 L442.2,145.1 L441.6,146.6 L441.0,147.9 L440.5,149.2 L439.9,150.5 L439.3,151.6 L438.8,152.7 L438.2,153.7 L437.6,154.6 L437.1,155.5 L436.5,156.3 L435.9,157.1 L435.4,157.7 L434.8,158.3 L434.3,158.9 L433.7,159.4 L433.1,159.8 L432.6,160.2 L432.0,160.6 L431.4,160.9 L430.9,161.2 L430.3,161.5 L429.7,161.7 L429.2,161.9 L428.6,162.0 L428.0,162.2 L427.5,162.3 L426.9,162.4 L426.3,162.5 L425.8,162.6 L425.2,162.7 L424.6,162.7 L424.1,162.8 L423.5,162.8 L422.9,162.9 L422.4,162.9 L421.8,162.9 L421.3,162.9 L420.7,162.9 L420.1,163.0 L419.6,163.0 L419.0,163.0 L418.4,163.0 L417.9,163.0 L417.3,163.0 L416.7,163.0 L416.2,163.0 L415.6,163.0 L415.0,163.0 L414.5,163.0 L413.9,163.0 L413.3,163.0 L412.8,163.0 L412.2,163.0 L411.6,163.0 L411.1,163.0 L410.5,163.0 L409.9,163.0 L409.4,163.0 L408.8,163.0 L408.3,163.0 L407.7,163.0 L407.1,163.0 L406.6,163.0 L406.0,163.0 L405.4,163.0 L404.9,163.0 L404.3,163.0 L403.7,163.0 L403.2,163.0 L402.6,163.0 L402.0,163.0 L401.5,163.0 L400.9,163.0 L400.3,163.0 L399.8,163.0 L399.2,163.0 L398.6,163.0 L398.1,163.0 L397.5,163.0 L397.0,163.0 L396.4,163.0 L395.8,163.0 L395.3,163.0 L394.7,163.0 L394.1,163.0 L393.6,163.0 L393.0,163.0 L392.4,163.0 L391.9,163.0 L391.3,163.0 L390.7,163.0 L390.2,163.0 L389.6,163.0 L389.0,163.0 L388.5,163.0 L387.9,163.0 L387.3,163.0 L386.8,163.0 L386.2,163.0 L385.6,163.0 L385.1,163.0 L384.5,163.0 L384.0,163.0 L383.4,163.0 L382.8,163.0 L382.3,163.0 L381.7,163.0 L381.1,163.0 L380.6,163.0 L380.0,163.0 L379.4,163.0 L378.9,163.0 L378.3,163.0 L377.7,163.0 L377.2,163.0 L376.6,163.0 L376.0,163.0 L375.5,163.0 L374.9,163.0 L374.3,163.0 L373.8,163.0 L373.2,163.0 L372.6,163.0 L372.1,163.0 L371.5,163.0 L371.0,163.0 L370.4,163.0 L369.8,163.0 L369.3,163.0 L368.7,163.0 L368.1,163.0 L367.6,163.0 L367.0,163.0 L366.4,163.0 L365.9,163.0 L365.3,163.0 L364.7,163.0 L364.2,163.0 L363.6,163.0 L363.0,163.0 L362.5,163.0 L361.9,163.0 L361.3,163.0 L360.8,163.0 L360.2,163.0 L359.7,163.0 L359.1,163.0 L358.5,163.0Z" stroke="#3ca548" stroke-width="1.9" fill="none" stroke-linejoin="round" stroke-linecap="round"/>
<rect x="344.0" y="13.0" width="197.3" height="159.0" fill="none" stroke="#222" stroke-width="1.6"/>
<line x1="341.0" y1="157.6" x2="344.0" y2="157.6" stroke="#222" stroke-width="1.2"/>
<text x="340.0" y="161.2" font-size="10" font-weight="bold" text-anchor="end" fill="#000" stroke="#000" stroke-width="0.3">0.0</text>
<line x1="341.0" y1="133.5" x2="344.0" y2="133.5" stroke="#222" stroke-width="1.2"/>
<text x="340.0" y="137.1" font-size="10" font-weight="bold" text-anchor="end" fill="#000" stroke="#000" stroke-width="0.3">0.2</text>
<line x1="341.0" y1="109.4" x2="344.0" y2="109.4" stroke="#222" stroke-width="1.2"/>
<text x="340.0" y="113.0" font-size="10" font-weight="bold" text-anchor="end" fill="#000" stroke="#000" stroke-width="0.3">0.4</text>
<line x1="341.0" y1="85.3" x2="344.0" y2="85.3" stroke="#222" stroke-width="1.2"/>
<text x="340.0" y="88.9" font-size="10" font-weight="bold" text-anchor="end" fill="#000" stroke="#000" stroke-width="0.3">0.6</text>
<line x1="341.0" y1="61.2" x2="344.0" y2="61.2" stroke="#222" stroke-width="1.2"/>
<text x="340.0" y="64.8" font-size="10" font-weight="bold" text-anchor="end" fill="#000" stroke="#000" stroke-width="0.3">0.8</text>
<line x1="341.0" y1="37.1" x2="344.0" y2="37.1" stroke="#222" stroke-width="1.2"/>
<text x="340.0" y="40.7" font-size="10" font-weight="bold" text-anchor="end" fill="#000" stroke="#000" stroke-width="0.3">1.0</text>
<line x1="341.0" y1="13.0" x2="344.0" y2="13.0" stroke="#222" stroke-width="1.2"/>
<text x="340.0" y="16.6" font-size="10" font-weight="bold" text-anchor="end" fill="#000" stroke="#000" stroke-width="0.3">1.2</text>
<line x1="342.5" y1="145.5" x2="344.0" y2="145.5" stroke="#222" stroke-width="1"/>
<line x1="342.5" y1="121.4" x2="344.0" y2="121.4" stroke="#222" stroke-width="1"/>
<line x1="342.5" y1="97.3" x2="344.0" y2="97.3" stroke="#222" stroke-width="1"/>
<line x1="342.5" y1="73.2" x2="344.0" y2="73.2" stroke="#222" stroke-width="1"/>
<line x1="342.5" y1="49.1" x2="344.0" y2="49.1" stroke="#222" stroke-width="1"/>
<line x1="342.5" y1="25.0" x2="344.0" y2="25.0" stroke="#222" stroke-width="1"/>
<line x1="357.1" y1="172.0" x2="357.1" y2="175.0" stroke="#222" stroke-width="1.2"/>
<text x="357.1" y="184.5" font-size="9.5" font-weight="bold" text-anchor="middle" fill="#000" stroke="#000" stroke-width="0.3">0.0</text>
<line x1="385.5" y1="172.0" x2="385.5" y2="175.0" stroke="#222" stroke-width="1.2"/>
<text x="385.5" y="184.5" font-size="9.5" font-weight="bold" text-anchor="middle" fill="#000" stroke="#000" stroke-width="0.3">0.2</text>
<line x1="413.9" y1="172.0" x2="413.9" y2="175.0" stroke="#222" stroke-width="1.2"/>
<text x="413.9" y="184.5" font-size="9.5" font-weight="bold" text-anchor="middle" fill="#000" stroke="#000" stroke-width="0.3">0.4</text>
<line x1="442.3" y1="172.0" x2="442.3" y2="175.0" stroke="#222" stroke-width="1.2"/>
<text x="442.3" y="184.5" font-size="9.5" font-weight="bold" text-anchor="middle" fill="#000" stroke="#000" stroke-width="0.3">0.6</text>
<line x1="470.7" y1="172.0" x2="470.7" y2="175.0" stroke="#222" stroke-width="1.2"/>
<text x="470.7" y="184.5" font-size="9.5" font-weight="bold" text-anchor="middle" fill="#000" stroke="#000" stroke-width="0.3">0.8</text>
<line x1="499.1" y1="172.0" x2="499.1" y2="175.0" stroke="#222" stroke-width="1.2"/>
<text x="499.1" y="184.5" font-size="9.5" font-weight="bold" text-anchor="middle" fill="#000" stroke="#000" stroke-width="0.3">1.0</text>
<line x1="527.5" y1="172.0" x2="527.5" y2="175.0" stroke="#222" stroke-width="1.2"/>
<text x="527.5" y="184.5" font-size="9.5" font-weight="bold" text-anchor="middle" fill="#000" stroke="#000" stroke-width="0.3">1.2</text>
<line x1="371.3" y1="172.0" x2="371.3" y2="173.5" stroke="#222" stroke-width="1"/>
<line x1="399.7" y1="172.0" x2="399.7" y2="173.5" stroke="#222" stroke-width="1"/>
<line x1="428.1" y1="172.0" x2="428.1" y2="173.5" stroke="#222" stroke-width="1"/>
<line x1="456.5" y1="172.0" x2="456.5" y2="173.5" stroke="#222" stroke-width="1"/>
<line x1="484.9" y1="172.0" x2="484.9" y2="173.5" stroke="#222" stroke-width="1"/>
<line x1="513.3" y1="172.0" x2="513.3" y2="173.5" stroke="#222" stroke-width="1"/>
<text x="442.5" y="197.0" font-size="14.5" font-weight="bold" text-anchor="middle" fill="#000">E/V vs. RHE</text>
<text x="0.0" y="0.0" font-size="13" font-weight="bold" text-anchor="middle" fill="#000" transform="translate(313.5,90.0) rotate(-90)">j<tspan font-size="9" dy="2">K</tspan><tspan dy="-2"> (A mg</tspan><tspan font-size="9" dy="2">Pt</tspan><tspan font-size="9" dy="-7">−1</tspan><tspan dy="5">)</tspan></text>
<text x="301.0" y="25.8" font-size="29" font-weight="bold" text-anchor="start" fill="#000">b</text>
<line x1="350.0" y1="43.8" x2="369.6" y2="43.8" stroke="#b565e2" stroke-width="2.4"/>
<text x="371.6" y="46.9" font-size="8.3" font-weight="bold" text-anchor="start" fill="#000">Pt/C</text>
<line x1="350.0" y1="54.6" x2="369.6" y2="54.6" stroke="#3a3a3a" stroke-width="2.4"/>
<text x="371.6" y="57.7" font-size="8.3" font-weight="bold" text-anchor="start" fill="#000">PtCu/CeO<tspan font-size="5.3" dy="2.6">2</tspan></text>
<line x1="350.0" y1="67.4" x2="369.6" y2="67.4" stroke="#f5922f" stroke-width="2.4"/>
<text x="371.6" y="70.5" font-size="8.3" font-weight="bold" text-anchor="start" fill="#000">PtCu/Pr<tspan font-size="5.3" dy="2.6">0.05</tspan><tspan dy="-2.6">Ce</tspan><tspan font-size="5.3" dy="2.6">0.95</tspan><tspan dy="-2.6">O</tspan><tspan font-size="5.3" dy="2.6">2</tspan></text>
<line x1="350.0" y1="81.4" x2="369.6" y2="81.4" stroke="#2f77c0" stroke-width="2.4"/>
<text x="371.6" y="84.5" font-size="8.3" font-weight="bold" text-anchor="start" fill="#000">PtCu/Pr<tspan font-size="5.3" dy="2.6">0.15</tspan><tspan dy="-2.6">Ce</tspan><tspan font-size="5.3" dy="2.6">0.85</tspan><tspan dy="-2.6">O</tspan><tspan font-size="5.3" dy="2.6">2</tspan></text>
<line x1="350.0" y1="95.5" x2="369.6" y2="95.5" stroke="#3ca548" stroke-width="2.4"/>
<text x="371.6" y="98.6" font-size="8.3" font-weight="bold" text-anchor="start" fill="#000">PtCu/Pr<tspan font-size="5.3" dy="2.6">0.25</tspan><tspan dy="-2.6">Ce</tspan><tspan font-size="5.3" dy="2.6">0.75</tspan><tspan dy="-2.6">O</tspan><tspan font-size="5.3" dy="2.6">2</tspan></text>
<rect x="24" y="219" width="82" height="81.5" fill="#b3b3b3"/>
<rect x="24" y="219" width="82" height="81.5" filter="url(#nz)" opacity="0.5" style="mix-blend-mode:overlay"/>
<rect x="110.3" y="218.3" width="81.8" height="82" fill="#b3b3b3"/>
<rect x="110.3" y="218.3" width="81.8" height="82" filter="url(#nz)" opacity="0.5" style="mix-blend-mode:overlay"/>
<rect x="200.2" y="218.1" width="81.4" height="82" fill="#b3b3b3"/>
<rect x="200.2" y="218.1" width="81.4" height="82" filter="url(#nz)" opacity="0.5" style="mix-blend-mode:overlay"/>
<g filter="url(#bl1)">
<path d="M63.2,257.1 L62.5,255.7 L61.5,253.7 L60.4,251.8 L59.4,250.3 L58.3,249.0 L57.0,247.8 L55.5,246.8 L53.8,245.8 L52.2,245.0 L50.7,244.2 L49.3,243.5 L48.0,242.9 L46.7,242.2 L45.6,241.5 L44.9,241.4 L45.0,242.1 L45.7,243.2 L46.4,244.5 L47.1,245.8 L47.7,247.2 L48.5,248.6 L49.4,250.3 L50.3,252.0 L51.4,253.5 L52.6,254.8 L53.9,255.9 L55.4,256.9 L57.1,258.1 L59.1,259.2 L60.7,259.7 L61.9,259.1 L62.7,258.0 L63.2,257.1Z" stroke="#464646" stroke-width="1.7" fill="#8a8a8a" stroke-linejoin="round" stroke-linecap="round"/>
<path d="M66.1,257.7 L66.6,256.4 L67.3,254.5 L67.9,252.6 L68.2,251.0 L68.4,249.5 L68.3,247.9 L68.0,246.2 L67.4,244.6 L66.9,243.0 L66.4,241.6 L65.9,240.3 L65.4,239.1 L65.0,237.8 L64.7,236.6 L64.3,236.1 L63.9,236.6 L63.6,237.8 L63.2,239.1 L62.7,240.3 L62.2,241.6 L61.7,243.0 L61.2,244.6 L60.6,246.2 L60.3,247.9 L60.2,249.5 L60.4,251.0 L60.7,252.6 L61.1,254.5 L61.7,256.4 L62.5,257.7 L63.7,258.1 L65.1,257.9 L66.1,257.7Z" stroke="#464646" stroke-width="1.7" fill="#8a8a8a" stroke-linejoin="round" stroke-linecap="round"/>
<path d="M68.1,260.9 L69.7,260.7 L72.0,260.4 L74.2,260.0 L75.9,259.5 L77.6,258.9 L79.2,258.1 L80.7,257.0 L82.2,255.7 L83.6,254.5 L84.9,253.3 L86.0,252.2 L87.0,251.2 L88.2,250.3 L89.2,249.4 L89.6,248.8 L88.9,248.7 L87.6,249.0 L86.1,249.2 L84.7,249.4 L83.1,249.5 L81.4,249.8 L79.6,250.1 L77.6,250.4 L75.8,250.9 L74.1,251.6 L72.6,252.5 L71.1,253.5 L69.4,254.8 L67.6,256.3 L66.6,257.6 L66.7,258.9 L67.5,260.1 L68.1,260.9Z" stroke="#464646" stroke-width="1.7" fill="#8a8a8a" stroke-linejoin="round" stroke-linecap="round"/>
<path d="M65.1,263.8 L65.6,265.0 L66.4,266.7 L67.3,268.3 L68.1,269.5 L69.1,270.5 L70.1,271.5 L71.5,272.2 L72.9,272.9 L74.4,273.4 L75.6,273.9 L76.9,274.3 L78.0,274.7 L79.1,275.2 L80.1,275.7 L80.7,275.7 L80.6,275.1 L80.1,274.1 L79.5,273.1 L79.0,272.0 L78.5,270.8 L77.9,269.6 L77.2,268.2 L76.4,266.8 L75.5,265.5 L74.5,264.6 L73.4,263.7 L72.1,263.0 L70.6,262.2 L68.9,261.4 L67.5,261.2 L66.4,261.8 L65.6,263.0 L65.1,263.8Z" stroke="#464646" stroke-width="1.7" fill="#8a8a8a" stroke-linejoin="round" stroke-linecap="round"/>
<path d="M62.2,263.4 L61.6,264.7 L60.7,266.5 L60.0,268.2 L59.5,269.8 L59.2,271.2 L59.1,272.7 L59.3,274.4 L59.7,276.1 L60.1,277.7 L60.4,279.1 L60.8,280.4 L61.2,281.6 L61.4,282.9 L61.7,284.1 L62.0,284.6 L62.4,284.1 L62.9,283.0 L63.4,281.8 L64.0,280.7 L64.6,279.5 L65.2,278.2 L65.9,276.7 L66.6,275.1 L67.1,273.5 L67.3,272.0 L67.3,270.5 L67.1,268.9 L66.9,267.1 L66.5,265.1 L65.8,263.7 L64.7,263.3 L63.2,263.3 L62.2,263.4Z" stroke="#464646" stroke-width="1.7" fill="#8a8a8a" stroke-linejoin="round" stroke-linecap="round"/>
<path d="M61.1,259.3 L59.7,258.9 L57.7,258.4 L55.7,258.1 L54.1,258.0 L52.6,258.0 L51.0,258.3 L49.4,258.8 L47.8,259.6 L46.3,260.3 L44.9,260.9 L43.7,261.6 L42.5,262.2 L41.3,262.8 L40.2,263.3 L39.7,263.7 L40.3,264.0 L41.5,264.2 L42.8,264.5 L44.0,264.8 L45.4,265.1 L46.9,265.4 L48.5,265.8 L50.3,266.1 L52.0,266.2 L53.6,266.1 L55.1,265.8 L56.6,265.3 L58.4,264.6 L60.3,263.8 L61.6,262.8 L61.8,261.6 L61.4,260.2 L61.1,259.3Z" stroke="#464646" stroke-width="1.7" fill="#8a8a8a" stroke-linejoin="round" stroke-linecap="round"/>
<path d="M71.9,260.7 L71.8,261.8 L71.7,263.4 L71.2,264.7 L70.3,265.6 L69.0,266.2 L67.8,266.8 L66.7,267.4 L65.5,267.9 L64.3,268.2 L62.9,268.4 L61.4,268.4 L60.1,268.0 L58.8,267.2 L57.7,266.1 L57.0,264.9 L56.9,263.6 L57.3,262.1 L57.7,260.7 L57.9,259.5 L58.0,258.3 L58.4,257.3 L59.1,256.5 L60.1,255.8 L61.1,255.1 L62.1,254.4 L63.2,253.7 L64.3,253.3 L65.4,253.7 L66.4,254.4 L67.5,255.2 L68.6,255.7 L69.8,256.3 L70.7,257.0 L71.3,258.2 L71.7,259.7 L71.9,260.7Z" stroke="#464646" stroke-width="1.8" fill="#969696" stroke-linejoin="round" stroke-linecap="round"/>
<ellipse cx="63.2" cy="266.8" rx="0.6" ry="1.0" fill="#393939"/>
<ellipse cx="62.2" cy="262.0" rx="1.0" ry="0.7" fill="#3f3f3f"/>
<ellipse cx="65.3" cy="255.6" rx="1.0" ry="1.3" fill="#252525"/>
<ellipse cx="60.0" cy="252.5" rx="1.0" ry="0.7" fill="#d0d0d0"/>
<ellipse cx="58.5" cy="258.5" rx="1.0" ry="1.0" fill="#252525"/>
<ellipse cx="63.6" cy="263.2" rx="1.2" ry="0.8" fill="#484848"/>
<ellipse cx="61.8" cy="261.4" rx="1.1" ry="0.7" fill="#242424"/>
<ellipse cx="61.3" cy="264.2" rx="1.3" ry="1.2" fill="#424242"/>
<ellipse cx="62.6" cy="257.6" rx="0.9" ry="1.0" fill="#383838"/>
<ellipse cx="64.3" cy="261.3" rx="1.3" ry="1.1" fill="#b4b4b4"/>
<ellipse cx="57.5" cy="261.8" rx="0.7" ry="0.8" fill="#1c1c1c"/>
<ellipse cx="65.5" cy="261.5" rx="0.8" ry="1.4" fill="#373737"/>
<ellipse cx="58.0" cy="259.0" rx="1.5" ry="1.3" fill="#272727"/>
<ellipse cx="57.5" cy="261.6" rx="1.3" ry="1.3" fill="#cbcbcb"/>
<ellipse cx="60.3" cy="265.2" rx="0.8" ry="1.2" fill="#232323"/>
<ellipse cx="71.6" cy="259.4" rx="0.7" ry="1.0" fill="#c2c2c2"/>
<ellipse cx="66.4" cy="252.1" rx="0.8" ry="0.7" fill="#323232"/>
<ellipse cx="64.8" cy="260.3" rx="1.0" ry="0.6" fill="#202020"/>
<ellipse cx="64.1" cy="258.7" rx="0.9" ry="1.1" fill="#333333"/>
<ellipse cx="55.9" cy="264.3" rx="0.7" ry="1.4" fill="#1c1c1c"/>
<ellipse cx="67.0" cy="256.3" rx="1.3" ry="1.3" fill="#272727"/>
<ellipse cx="67.3" cy="262.0" rx="1.3" ry="0.7" fill="#b7b7b7"/>
<ellipse cx="67.9" cy="255.2" rx="1.3" ry="0.7" fill="#2c2c2c"/>
<ellipse cx="61.7" cy="262.1" rx="1.5" ry="1.2" fill="#b0b0b0"/>
<ellipse cx="58.1" cy="267.5" rx="1.4" ry="1.4" fill="#262626"/>
<ellipse cx="57.7" cy="261.4" rx="1.5" ry="0.7" fill="#464646"/>
<ellipse cx="65.3" cy="258.9" rx="0.9" ry="0.9" fill="#b8b8b8"/>
<ellipse cx="68.5" cy="263.6" rx="1.4" ry="0.8" fill="#c2c2c2"/>
<ellipse cx="64.4" cy="251.5" rx="1.3" ry="1.3" fill="#4d4d4d"/>
<ellipse cx="64.7" cy="260.8" rx="1.1" ry="0.7" fill="#292929"/>
<ellipse cx="55.0" cy="260.5" rx="1.1" ry="0.6" fill="#adadad"/>
<ellipse cx="56.4" cy="263.5" rx="1.1" ry="0.7" fill="#1d1d1d"/>
<ellipse cx="62.7" cy="261.4" rx="1.2" ry="0.9" fill="#393939"/>
<ellipse cx="67.5" cy="265.6" rx="0.8" ry="0.8" fill="#444444"/>
</g>
<g filter="url(#bl1)">
<path d="M152.0,257.9 L151.9,256.6 L151.7,254.7 L151.4,252.9 L151.0,251.5 L150.4,250.2 L149.7,249.0 L148.6,247.9 L147.3,246.9 L146.1,245.9 L145.0,245.1 L144.0,244.3 L143.0,243.6 L142.0,242.8 L141.2,242.1 L140.6,241.9 L140.5,242.5 L140.7,243.6 L140.9,244.8 L141.0,246.0 L141.1,247.3 L141.3,248.7 L141.5,250.2 L141.8,251.8 L142.2,253.3 L142.9,254.6 L143.7,255.7 L144.7,256.8 L145.9,258.0 L147.3,259.2 L148.7,259.8 L150.0,259.5 L151.2,258.6 L152.0,257.9Z" stroke="#484848" stroke-width="1.6" fill="#888888" stroke-linejoin="round" stroke-linecap="round"/>
<path d="M153.3,258.3 L153.7,257.0 L154.2,255.1 L154.6,253.3 L154.7,251.9 L154.7,250.5 L154.5,249.0 L153.9,247.6 L153.1,246.1 L152.4,244.8 L151.7,243.6 L151.0,242.4 L150.3,241.4 L149.8,240.3 L149.2,239.3 L148.8,238.9 L148.5,239.4 L148.2,240.5 L148.0,241.7 L147.6,242.9 L147.2,244.1 L146.8,245.5 L146.5,247.0 L146.1,248.6 L145.9,250.2 L146.1,251.6 L146.4,252.9 L146.9,254.3 L147.6,256.0 L148.4,257.7 L149.4,258.8 L150.8,259.0 L152.2,258.6 L153.3,258.3Z" stroke="#484848" stroke-width="1.6" fill="#888888" stroke-linejoin="round" stroke-linecap="round"/>
<path d="M155.7,261.6 L157.5,261.5 L159.9,261.4 L162.3,261.1 L164.2,260.7 L165.9,260.1 L167.7,259.4 L169.4,258.3 L171.1,257.0 L172.6,255.7 L174.0,254.6 L175.3,253.5 L176.4,252.5 L177.7,251.5 L178.9,250.6 L179.3,250.0 L178.6,249.9 L177.1,250.0 L175.5,250.2 L174.0,250.3 L172.3,250.4 L170.5,250.5 L168.5,250.7 L166.4,251.0 L164.4,251.4 L162.7,252.0 L161.0,252.9 L159.4,253.9 L157.4,255.2 L155.5,256.7 L154.3,258.1 L154.3,259.4 L155.1,260.7 L155.7,261.6Z" stroke="#484848" stroke-width="1.6" fill="#888888" stroke-linejoin="round" stroke-linecap="round"/>
<path d="M148.5,259.5 L147.0,259.1 L145.0,258.5 L143.0,258.1 L141.3,257.9 L139.8,257.9 L138.2,258.1 L136.5,258.6 L134.8,259.3 L133.2,260.1 L131.8,260.7 L130.5,261.4 L129.3,262.0 L128.1,262.6 L126.9,263.1 L126.4,263.5 L127.0,263.8 L128.2,264.1 L129.5,264.4 L130.8,264.8 L132.2,265.2 L133.7,265.6 L135.4,266.1 L137.2,266.5 L138.9,266.7 L140.5,266.6 L142.1,266.3 L143.7,265.8 L145.6,265.2 L147.5,264.4 L148.8,263.4 L149.1,262.1 L148.8,260.6 L148.5,259.5Z" stroke="#484848" stroke-width="1.6" fill="#888888" stroke-linejoin="round" stroke-linecap="round"/>
<path d="M150.3,264.3 L150.0,265.6 L149.6,267.5 L149.4,269.4 L149.4,270.9 L149.5,272.3 L149.8,273.7 L150.5,275.1 L151.3,276.6 L152.2,277.9 L153.0,279.1 L153.8,280.2 L154.5,281.1 L155.1,282.2 L155.7,283.2 L156.2,283.6 L156.5,283.1 L156.7,281.9 L156.8,280.7 L157.1,279.5 L157.4,278.2 L157.7,276.8 L158.0,275.2 L158.2,273.6 L158.3,272.0 L158.0,270.6 L157.6,269.2 L157.0,267.8 L156.2,266.2 L155.2,264.6 L154.1,263.5 L152.8,263.4 L151.4,263.9 L150.3,264.3Z" stroke="#484848" stroke-width="1.6" fill="#888888" stroke-linejoin="round" stroke-linecap="round"/>
<path d="M151.4,264.1 L151.5,265.2 L151.7,266.8 L152.0,268.3 L152.4,269.5 L152.9,270.5 L153.7,271.4 L154.7,272.2 L155.8,272.9 L157.0,273.5 L158.0,274.0 L159.0,274.5 L160.0,274.9 L160.9,275.4 L161.7,275.9 L162.2,276.0 L162.3,275.5 L162.1,274.5 L161.9,273.5 L161.8,272.5 L161.7,271.4 L161.5,270.2 L161.3,269.0 L161.1,267.6 L160.7,266.4 L160.0,265.4 L159.3,264.6 L158.3,263.8 L157.1,263.0 L155.8,262.2 L154.5,261.9 L153.3,262.4 L152.2,263.4 L151.4,264.1Z" stroke="#484848" stroke-width="1.6" fill="#888888" stroke-linejoin="round" stroke-linecap="round"/>
<path d="M158.4,261.2 L158.1,262.0 L157.7,263.2 L157.2,264.4 L156.7,265.5 L156.2,266.7 L155.4,267.6 L154.3,268.4 L153.0,269.0 L151.7,269.2 L150.4,268.9 L149.2,268.3 L148.0,267.5 L146.9,266.8 L145.9,265.9 L145.2,264.9 L145.1,263.8 L145.2,262.5 L145.4,261.2 L145.3,260.0 L145.1,258.7 L145.2,257.5 L145.7,256.1 L146.4,254.8 L147.4,253.8 L148.7,253.2 L150.2,252.9 L151.7,252.9 L153.1,253.1 L154.6,253.5 L155.7,254.2 L156.5,255.3 L157.0,256.6 L157.4,257.9 L157.8,259.2 L158.2,260.4 L158.4,261.2Z" stroke="#484848" stroke-width="1.8" fill="#969696" stroke-linejoin="round" stroke-linecap="round"/>
<ellipse cx="157.0" cy="254.6" rx="0.6" ry="0.7" fill="#3b3b3b"/>
<ellipse cx="153.3" cy="263.7" rx="0.9" ry="0.9" fill="#cecece"/>
<ellipse cx="152.6" cy="261.7" rx="0.7" ry="1.0" fill="#393939"/>
<ellipse cx="153.9" cy="258.1" rx="1.2" ry="1.4" fill="#3a3a3a"/>
<ellipse cx="146.8" cy="269.2" rx="0.7" ry="0.9" fill="#444444"/>
<ellipse cx="151.4" cy="261.8" rx="1.4" ry="1.3" fill="#282828"/>
<ellipse cx="144.7" cy="258.3" rx="0.8" ry="0.9" fill="#2c2c2c"/>
<ellipse cx="158.1" cy="263.9" rx="0.9" ry="1.2" fill="#434343"/>
<ellipse cx="158.1" cy="258.3" rx="1.4" ry="1.2" fill="#2c2c2c"/>
<ellipse cx="154.0" cy="255.4" rx="0.9" ry="1.2" fill="#4d4d4d"/>
<ellipse cx="147.1" cy="269.0" rx="1.1" ry="0.7" fill="#2d2d2d"/>
<ellipse cx="151.7" cy="261.0" rx="1.3" ry="0.9" fill="#3b3b3b"/>
<ellipse cx="153.4" cy="264.3" rx="1.3" ry="1.3" fill="#cfcfcf"/>
<ellipse cx="149.7" cy="255.4" rx="0.9" ry="1.0" fill="#434343"/>
<ellipse cx="148.9" cy="259.9" rx="0.9" ry="0.8" fill="#383838"/>
<ellipse cx="149.1" cy="268.8" rx="0.9" ry="0.7" fill="#1e1e1e"/>
<ellipse cx="150.9" cy="258.0" rx="0.9" ry="1.1" fill="#c6c6c6"/>
<ellipse cx="154.4" cy="255.9" rx="1.0" ry="0.8" fill="#4b4b4b"/>
<ellipse cx="156.1" cy="258.9" rx="1.1" ry="1.1" fill="#343434"/>
<ellipse cx="147.7" cy="259.9" rx="1.4" ry="0.7" fill="#d3d3d3"/>
<ellipse cx="148.2" cy="265.1" rx="1.5" ry="0.8" fill="#b8b8b8"/>
<ellipse cx="155.6" cy="260.2" rx="1.1" ry="0.8" fill="#4c4c4c"/>
<ellipse cx="145.0" cy="260.3" rx="0.7" ry="1.3" fill="#202020"/>
<ellipse cx="160.6" cy="259.3" rx="1.2" ry="1.2" fill="#1b1b1b"/>
<ellipse cx="157.5" cy="263.2" rx="0.7" ry="1.3" fill="#3f3f3f"/>
<ellipse cx="151.8" cy="270.6" rx="1.4" ry="1.0" fill="#4e4e4e"/>
<ellipse cx="155.6" cy="258.9" rx="1.2" ry="0.9" fill="#1b1b1b"/>
<ellipse cx="157.8" cy="259.1" rx="0.7" ry="1.3" fill="#262626"/>
<ellipse cx="152.4" cy="261.0" rx="1.4" ry="0.8" fill="#4b4b4b"/>
<ellipse cx="153.3" cy="260.8" rx="0.8" ry="0.8" fill="#444444"/>
<ellipse cx="151.8" cy="267.6" rx="0.9" ry="0.8" fill="#d1d1d1"/>
<ellipse cx="151.5" cy="261.3" rx="1.3" ry="1.1" fill="#383838"/>
<ellipse cx="147.1" cy="257.8" rx="1.5" ry="0.9" fill="#c1c1c1"/>
<ellipse cx="151.9" cy="262.5" rx="1.4" ry="1.3" fill="#b4b4b4"/>
</g>
<g filter="url(#bl1)">
<path d="M244.1,255.7 L244.7,254.2 L245.4,252.1 L245.9,250.1 L246.2,248.4 L246.3,246.7 L246.2,245.1 L245.7,243.3 L245.0,241.5 L244.3,239.9 L243.7,238.4 L243.0,237.0 L242.4,235.8 L241.9,234.4 L241.4,233.2 L241.0,232.7 L240.6,233.3 L240.3,234.5 L239.9,235.9 L239.4,237.2 L238.9,238.6 L238.3,240.2 L237.8,241.9 L237.3,243.7 L237.0,245.5 L237.0,247.1 L237.2,248.8 L237.7,250.4 L238.3,252.4 L239.0,254.4 L240.0,255.9 L241.4,256.2 L243.0,255.9 L244.1,255.7Z" stroke="#4a4a4a" stroke-width="1.5" fill="#8c8c8c" stroke-linejoin="round" stroke-linecap="round"/>
<path d="M245.8,260.1 L247.4,260.3 L249.7,260.6 L251.8,260.8 L253.6,260.7 L255.3,260.5 L256.9,260.0 L258.6,259.2 L260.3,258.1 L261.8,257.1 L263.2,256.2 L264.4,255.3 L265.6,254.4 L266.8,253.6 L268.0,252.9 L268.4,252.4 L267.8,252.1 L266.4,252.0 L264.9,251.9 L263.5,251.7 L262.0,251.5 L260.3,251.3 L258.5,251.1 L256.6,251.0 L254.7,251.1 L253.0,251.4 L251.5,252.0 L249.8,252.7 L248.0,253.7 L246.1,254.9 L244.8,256.1 L244.8,257.6 L245.4,259.1 L245.8,260.1Z" stroke="#4a4a4a" stroke-width="1.5" fill="#8c8c8c" stroke-linejoin="round" stroke-linecap="round"/>
<path d="M240.0,262.1 L239.3,263.6 L238.4,265.7 L237.7,267.7 L237.2,269.5 L237.0,271.2 L237.0,272.9 L237.3,274.8 L237.8,276.6 L238.3,278.4 L238.9,280.0 L239.4,281.5 L239.9,282.9 L240.3,284.3 L240.6,285.6 L241.0,286.2 L241.4,285.7 L241.9,284.4 L242.4,283.0 L243.0,281.7 L243.7,280.2 L244.3,278.7 L245.0,277.0 L245.7,275.1 L246.2,273.3 L246.3,271.6 L246.2,269.9 L245.9,268.1 L245.5,266.0 L245.0,263.8 L244.1,262.3 L242.8,261.8 L241.1,261.9 L240.0,262.1Z" stroke="#4a4a4a" stroke-width="1.5" fill="#8c8c8c" stroke-linejoin="round" stroke-linecap="round"/>
<path d="M239.1,256.7 L237.7,256.0 L235.7,255.1 L233.7,254.4 L232.1,254.0 L230.4,253.7 L228.8,253.7 L227.0,254.0 L225.2,254.6 L223.5,255.1 L221.9,255.6 L220.5,256.2 L219.2,256.6 L217.8,257.0 L216.6,257.4 L216.0,257.8 L216.5,258.2 L217.8,258.7 L219.1,259.2 L220.3,259.8 L221.7,260.5 L223.2,261.1 L224.9,261.8 L226.6,262.5 L228.4,262.9 L230.0,263.1 L231.7,263.0 L233.4,262.7 L235.4,262.3 L237.5,261.7 L239.0,260.8 L239.4,259.5 L239.3,257.9 L239.1,256.7Z" stroke="#4a4a4a" stroke-width="1.5" fill="#8c8c8c" stroke-linejoin="round" stroke-linecap="round"/>
<path d="M241.1,255.7 L240.4,254.6 L239.4,252.9 L238.3,251.5 L237.3,250.4 L236.2,249.5 L235.0,248.8 L233.6,248.3 L232.0,248.0 L230.4,247.7 L229.0,247.5 L227.7,247.4 L226.5,247.3 L225.3,247.0 L224.2,246.8 L223.6,246.9 L223.8,247.5 L224.4,248.4 L225.1,249.4 L225.8,250.5 L226.4,251.6 L227.2,252.8 L228.0,254.1 L229.0,255.4 L230.0,256.5 L231.2,257.3 L232.4,257.9 L233.8,258.4 L235.5,258.9 L237.3,259.3 L238.8,259.2 L239.9,258.2 L240.6,256.8 L241.1,255.7Z" stroke="#4a4a4a" stroke-width="1.5" fill="#8c8c8c" stroke-linejoin="round" stroke-linecap="round"/>
<path d="M242.4,261.8 L242.8,262.9 L243.3,264.4 L243.9,265.7 L244.5,266.7 L245.2,267.5 L246.1,268.1 L247.2,268.5 L248.5,268.8 L249.7,269.0 L250.8,269.2 L251.9,269.4 L252.9,269.5 L253.9,269.7 L254.8,269.9 L255.3,269.8 L255.3,269.3 L254.9,268.4 L254.6,267.5 L254.3,266.6 L253.9,265.5 L253.5,264.4 L253.1,263.3 L252.6,262.1 L252.0,261.0 L251.2,260.3 L250.2,259.7 L249.2,259.3 L247.9,258.9 L246.4,258.5 L245.1,258.6 L244.0,259.5 L243.1,260.8 L242.4,261.8Z" stroke="#4a4a4a" stroke-width="1.5" fill="#8c8c8c" stroke-linejoin="round" stroke-linecap="round"/>
<path d="M249.0,258.9 L249.3,260.1 L249.6,261.7 L249.5,263.1 L248.5,263.8 L247.0,264.2 L245.6,264.8 L244.4,265.8 L243.3,266.8 L242.2,267.4 L241.0,267.1 L239.7,266.3 L238.5,265.4 L237.4,264.6 L236.3,263.8 L235.5,262.8 L234.8,261.6 L234.3,260.2 L234.1,258.9 L234.3,257.6 L234.9,256.3 L235.7,255.1 L236.6,254.2 L237.6,253.4 L238.7,252.8 L239.8,252.4 L241.0,252.2 L242.2,252.1 L243.3,252.4 L244.3,252.8 L245.4,253.3 L246.8,253.7 L248.2,254.1 L249.2,254.9 L249.4,256.2 L249.2,257.8 L249.0,258.9Z" stroke="#4a4a4a" stroke-width="1.8" fill="#969696" stroke-linejoin="round" stroke-linecap="round"/>
<ellipse cx="244.5" cy="262.4" rx="1.0" ry="0.8" fill="#b6b6b6"/>
<ellipse cx="237.0" cy="256.0" rx="0.9" ry="0.8" fill="#272727"/>
<ellipse cx="244.1" cy="261.3" rx="1.6" ry="0.8" fill="#4e4e4e"/>
<ellipse cx="242.3" cy="259.1" rx="0.6" ry="1.1" fill="#434343"/>
<ellipse cx="242.2" cy="258.9" rx="0.9" ry="1.2" fill="#4f4f4f"/>
<ellipse cx="249.5" cy="255.0" rx="1.6" ry="0.9" fill="#323232"/>
<ellipse cx="234.8" cy="256.7" rx="0.6" ry="0.7" fill="#bfbfbf"/>
<ellipse cx="242.2" cy="260.0" rx="1.4" ry="1.1" fill="#c6c6c6"/>
<ellipse cx="244.5" cy="253.3" rx="1.4" ry="0.7" fill="#d3d3d3"/>
<ellipse cx="245.5" cy="259.7" rx="0.7" ry="0.8" fill="#444444"/>
<ellipse cx="242.3" cy="262.4" rx="1.2" ry="1.0" fill="#b9b9b9"/>
<ellipse cx="247.3" cy="256.8" rx="1.4" ry="0.9" fill="#afafaf"/>
<ellipse cx="241.5" cy="259.5" rx="1.0" ry="0.6" fill="#4d4d4d"/>
<ellipse cx="248.5" cy="264.1" rx="1.1" ry="1.0" fill="#474747"/>
<ellipse cx="249.7" cy="259.9" rx="1.6" ry="1.2" fill="#2f2f2f"/>
<ellipse cx="242.4" cy="259.4" rx="0.9" ry="0.9" fill="#3f3f3f"/>
<ellipse cx="250.6" cy="256.4" rx="0.9" ry="0.7" fill="#4a4a4a"/>
<ellipse cx="239.5" cy="254.7" rx="1.4" ry="1.2" fill="#d5d5d5"/>
<ellipse cx="240.2" cy="252.5" rx="1.0" ry="0.7" fill="#d5d5d5"/>
<ellipse cx="242.6" cy="261.1" rx="0.7" ry="1.0" fill="#454545"/>
<ellipse cx="241.5" cy="266.6" rx="0.7" ry="1.2" fill="#262626"/>
<ellipse cx="242.7" cy="260.4" rx="1.2" ry="1.3" fill="#cecece"/>
<ellipse cx="242.8" cy="258.8" rx="1.4" ry="1.1" fill="#292929"/>
<ellipse cx="249.5" cy="264.8" rx="1.3" ry="0.8" fill="#333333"/>
<ellipse cx="241.9" cy="258.8" rx="1.1" ry="0.9" fill="#4a4a4a"/>
<ellipse cx="236.3" cy="257.9" rx="1.1" ry="0.8" fill="#cdcdcd"/>
<ellipse cx="242.1" cy="253.2" rx="0.8" ry="0.9" fill="#d6d6d6"/>
<ellipse cx="240.5" cy="262.6" rx="1.1" ry="0.8" fill="#333333"/>
<ellipse cx="241.8" cy="260.1" rx="1.3" ry="1.1" fill="#2a2a2a"/>
<ellipse cx="233.4" cy="255.4" rx="1.3" ry="1.1" fill="#3c3c3c"/>
<ellipse cx="237.8" cy="255.5" rx="1.2" ry="0.8" fill="#434343"/>
<ellipse cx="244.3" cy="259.9" rx="0.8" ry="0.6" fill="#191919"/>
<ellipse cx="240.7" cy="261.1" rx="1.2" ry="0.7" fill="#434343"/>
<ellipse cx="241.2" cy="250.5" rx="1.1" ry="0.7" fill="#3c3c3c"/>
</g>
<line x1="33.7" y1="292.4" x2="47.9" y2="292.4" stroke="#fff" stroke-width="1.1"/>
<text x="34.0" y="290.0" font-size="3" text-anchor="start" fill="#fff">20nm</text>
<text x="9.0" y="221.5" font-size="28" font-weight="bold" text-anchor="start" fill="#000">c</text>
<path d="M63.0,322.4 L80.6,330.2 M80.6,330.2 L80.6,351.0 M80.6,351.0 L63.0,358.6 M63.0,358.6 L45.4,350.0 M45.4,350.0 L45.4,330.0 M45.4,330.0 L63.0,322.4 M63.0,322.4 L63.0,358.6 M80.6,330.2 L45.4,350.0 M80.6,351.0 L45.4,330.0 M63.0,322.4 L63.0,316.1 M80.6,330.2 L86.8,327.8 M80.6,351.0 L84.2,355.0 M63.0,358.6 L63.0,367.0 M45.4,350.0 L39.3,352.5 M45.4,330.0 L41.8,327.3 M52.0,334.5 L74.0,334.5 M74.0,334.5 L63.0,352.0 M63.0,352.0 L52.0,334.5" stroke="#dcd33c" stroke-width="4.20" fill="none" stroke-linecap="round"/>
<path d="M63.0,322.4 L80.6,330.2 M80.6,330.2 L80.6,351.0 M80.6,351.0 L63.0,358.6 M63.0,358.6 L45.4,350.0 M45.4,350.0 L45.4,330.0 M45.4,330.0 L63.0,322.4 M63.0,322.4 L63.0,358.6 M80.6,330.2 L45.4,350.0 M80.6,351.0 L45.4,330.0 M63.0,322.4 L63.0,316.1 M80.6,330.2 L86.8,327.8 M80.6,351.0 L84.2,355.0 M63.0,358.6 L63.0,367.0 M45.4,350.0 L39.3,352.5 M45.4,330.0 L41.8,327.3 M52.0,334.5 L74.0,334.5 M74.0,334.5 L63.0,352.0 M63.0,352.0 L52.0,334.5" stroke="#f3ec62" stroke-width="2.31" fill="none" stroke-linecap="round"/>
<path d="M63.0,322.4 L80.6,330.2 M80.6,330.2 L80.6,351.0 M80.6,351.0 L63.0,358.6 M63.0,358.6 L45.4,350.0 M45.4,350.0 L45.4,330.0 M45.4,330.0 L63.0,322.4 M63.0,322.4 L63.0,358.6 M80.6,330.2 L45.4,350.0 M80.6,351.0 L45.4,330.0 M63.0,322.4 L63.0,316.1 M80.6,330.2 L86.8,327.8 M80.6,351.0 L84.2,355.0 M63.0,358.6 L63.0,367.0 M45.4,350.0 L39.3,352.5 M45.4,330.0 L41.8,327.3 M52.0,334.5 L74.0,334.5 M74.0,334.5 L63.0,352.0 M63.0,352.0 L52.0,334.5" stroke="#3a3cb8" stroke-width="2.60" fill="none" stroke-dasharray="1.5,2.2" opacity="0.8"/>
<path d="M63.0,322.4 L80.6,330.2 M80.6,330.2 L80.6,351.0 M80.6,351.0 L63.0,358.6 M63.0,358.6 L45.4,350.0 M45.4,350.0 L45.4,330.0 M45.4,330.0 L63.0,322.4 M63.0,322.4 L63.0,358.6 M80.6,330.2 L45.4,350.0 M80.6,351.0 L45.4,330.0 M63.0,322.4 L63.0,316.1 M80.6,330.2 L86.8,327.8 M80.6,351.0 L84.2,355.0 M63.0,358.6 L63.0,367.0 M45.4,350.0 L39.3,352.5 M45.4,330.0 L41.8,327.3 M52.0,334.5 L74.0,334.5 M74.0,334.5 L63.0,352.0 M63.0,352.0 L52.0,334.5" stroke="#4042b0" stroke-width="1.47" fill="none" stroke-dasharray="1.0,3.0" stroke-dashoffset="1.7" transform="translate(0.9,0.7)" opacity="0.6"/>
<path d="M138.0,334.5 L148.6,323.5 M148.6,323.5 L161.0,323.5 M161.0,323.5 L175.0,335.2 M175.0,335.2 L170.5,354.5 M170.5,354.5 L156.5,359.5 M156.5,359.5 L143.0,355.5 M143.0,355.5 L137.5,346.5 M137.5,346.5 L138.0,334.5 M149.5,331.0 L164.5,334.5 M164.5,334.5 L163.5,351.5 M163.5,351.5 L149.0,348.5 M149.0,348.5 L149.5,331.0 M148.6,323.5 L149.5,331.0 M161.0,323.5 L164.5,334.5 M175.0,335.2 L164.5,334.5 M170.5,354.5 L163.5,351.5 M156.5,359.5 L163.5,351.5 M143.0,355.5 L149.0,348.5 M137.5,346.5 L149.0,348.5 M138.0,334.5 L149.5,331.0 M128.5,347.5 L137.5,346.5 M175.0,335.2 L186.5,334.5 M147.5,320.5 L148.6,323.5 M157.0,320.0 L161.0,323.5 M155.7,362.5 L156.5,359.5 M164.0,360.5 L170.5,354.5" stroke="#dcd33c" stroke-width="3.80" fill="none" stroke-linecap="round"/>
<path d="M138.0,334.5 L148.6,323.5 M148.6,323.5 L161.0,323.5 M161.0,323.5 L175.0,335.2 M175.0,335.2 L170.5,354.5 M170.5,354.5 L156.5,359.5 M156.5,359.5 L143.0,355.5 M143.0,355.5 L137.5,346.5 M137.5,346.5 L138.0,334.5 M149.5,331.0 L164.5,334.5 M164.5,334.5 L163.5,351.5 M163.5,351.5 L149.0,348.5 M149.0,348.5 L149.5,331.0 M148.6,323.5 L149.5,331.0 M161.0,323.5 L164.5,334.5 M175.0,335.2 L164.5,334.5 M170.5,354.5 L163.5,351.5 M156.5,359.5 L163.5,351.5 M143.0,355.5 L149.0,348.5 M137.5,346.5 L149.0,348.5 M138.0,334.5 L149.5,331.0 M128.5,347.5 L137.5,346.5 M175.0,335.2 L186.5,334.5 M147.5,320.5 L148.6,323.5 M157.0,320.0 L161.0,323.5 M155.7,362.5 L156.5,359.5 M164.0,360.5 L170.5,354.5" stroke="#f3ec62" stroke-width="2.09" fill="none" stroke-linecap="round"/>
<path d="M138.0,334.5 L148.6,323.5 M148.6,323.5 L161.0,323.5 M161.0,323.5 L175.0,335.2 M175.0,335.2 L170.5,354.5 M170.5,354.5 L156.5,359.5 M156.5,359.5 L143.0,355.5 M143.0,355.5 L137.5,346.5 M137.5,346.5 L138.0,334.5 M149.5,331.0 L164.5,334.5 M164.5,334.5 L163.5,351.5 M163.5,351.5 L149.0,348.5 M149.0,348.5 L149.5,331.0 M148.6,323.5 L149.5,331.0 M161.0,323.5 L164.5,334.5 M175.0,335.2 L164.5,334.5 M170.5,354.5 L163.5,351.5 M156.5,359.5 L163.5,351.5 M143.0,355.5 L149.0,348.5 M137.5,346.5 L149.0,348.5 M138.0,334.5 L149.5,331.0 M128.5,347.5 L137.5,346.5 M175.0,335.2 L186.5,334.5 M147.5,320.5 L148.6,323.5 M157.0,320.0 L161.0,323.5 M155.7,362.5 L156.5,359.5 M164.0,360.5 L170.5,354.5" stroke="#3a3cb8" stroke-width="2.36" fill="none" stroke-dasharray="1.5,2.2" opacity="0.8"/>
<path d="M138.0,334.5 L148.6,323.5 M148.6,323.5 L161.0,323.5 M161.0,323.5 L175.0,335.2 M175.0,335.2 L170.5,354.5 M170.5,354.5 L156.5,359.5 M156.5,359.5 L143.0,355.5 M143.0,355.5 L137.5,346.5 M137.5,346.5 L138.0,334.5 M149.5,331.0 L164.5,334.5 M164.5,334.5 L163.5,351.5 M163.5,351.5 L149.0,348.5 M149.0,348.5 L149.5,331.0 M148.6,323.5 L149.5,331.0 M161.0,323.5 L164.5,334.5 M175.0,335.2 L164.5,334.5 M170.5,354.5 L163.5,351.5 M156.5,359.5 L163.5,351.5 M143.0,355.5 L149.0,348.5 M137.5,346.5 L149.0,348.5 M138.0,334.5 L149.5,331.0 M128.5,347.5 L137.5,346.5 M175.0,335.2 L186.5,334.5 M147.5,320.5 L148.6,323.5 M157.0,320.0 L161.0,323.5 M155.7,362.5 L156.5,359.5 M164.0,360.5 L170.5,354.5" stroke="#4042b0" stroke-width="1.33" fill="none" stroke-dasharray="1.0,3.0" stroke-dashoffset="1.7" transform="translate(0.9,0.7)" opacity="0.6"/>
<path d="M244.0,321.8 L258.2,330.6 M258.2,330.6 L259.2,344.3 M259.2,344.3 L244.0,355.1 M244.0,355.1 L229.8,347.3 M229.8,347.3 L229.8,332.6 M229.8,332.6 L244.0,321.8 M237.6,327.7 L252.3,337.5 M252.3,337.5 L247.4,347.3 M247.4,347.3 L234.7,338.5 M234.7,338.5 L237.6,327.7 M244.0,313.4 L244.0,321.8 M244.0,355.1 L244.0,365.0 M223.9,342.4 L229.8,341.5 M226.8,333.6 L229.8,332.6 M265.1,335.5 L258.8,336.5 M261.2,344.3 L259.2,344.3 M244.0,321.8 L252.3,337.5 M229.8,332.6 L234.7,338.5 M259.2,344.3 L247.4,347.3 M244.0,355.1 L234.7,338.5" stroke="#dcd33c" stroke-width="3.60" fill="none" stroke-linecap="round"/>
<path d="M244.0,321.8 L258.2,330.6 M258.2,330.6 L259.2,344.3 M259.2,344.3 L244.0,355.1 M244.0,355.1 L229.8,347.3 M229.8,347.3 L229.8,332.6 M229.8,332.6 L244.0,321.8 M237.6,327.7 L252.3,337.5 M252.3,337.5 L247.4,347.3 M247.4,347.3 L234.7,338.5 M234.7,338.5 L237.6,327.7 M244.0,313.4 L244.0,321.8 M244.0,355.1 L244.0,365.0 M223.9,342.4 L229.8,341.5 M226.8,333.6 L229.8,332.6 M265.1,335.5 L258.8,336.5 M261.2,344.3 L259.2,344.3 M244.0,321.8 L252.3,337.5 M229.8,332.6 L234.7,338.5 M259.2,344.3 L247.4,347.3 M244.0,355.1 L234.7,338.5" stroke="#f3ec62" stroke-width="1.98" fill="none" stroke-linecap="round"/>
<path d="M244.0,321.8 L258.2,330.6 M258.2,330.6 L259.2,344.3 M259.2,344.3 L244.0,355.1 M244.0,355.1 L229.8,347.3 M229.8,347.3 L229.8,332.6 M229.8,332.6 L244.0,321.8 M237.6,327.7 L252.3,337.5 M252.3,337.5 L247.4,347.3 M247.4,347.3 L234.7,338.5 M234.7,338.5 L237.6,327.7 M244.0,313.4 L244.0,321.8 M244.0,355.1 L244.0,365.0 M223.9,342.4 L229.8,341.5 M226.8,333.6 L229.8,332.6 M265.1,335.5 L258.8,336.5 M261.2,344.3 L259.2,344.3 M244.0,321.8 L252.3,337.5 M229.8,332.6 L234.7,338.5 M259.2,344.3 L247.4,347.3 M244.0,355.1 L234.7,338.5" stroke="#3a3cb8" stroke-width="2.23" fill="none" stroke-dasharray="1.5,2.2" opacity="0.8"/>
<path d="M244.0,321.8 L258.2,330.6 M258.2,330.6 L259.2,344.3 M259.2,344.3 L244.0,355.1 M244.0,355.1 L229.8,347.3 M229.8,347.3 L229.8,332.6 M229.8,332.6 L244.0,321.8 M237.6,327.7 L252.3,337.5 M252.3,337.5 L247.4,347.3 M247.4,347.3 L234.7,338.5 M234.7,338.5 L237.6,327.7 M244.0,313.4 L244.0,321.8 M244.0,355.1 L244.0,365.0 M223.9,342.4 L229.8,341.5 M226.8,333.6 L229.8,332.6 M265.1,335.5 L258.8,336.5 M261.2,344.3 L259.2,344.3 M244.0,321.8 L252.3,337.5 M229.8,332.6 L234.7,338.5 M259.2,344.3 L247.4,347.3 M244.0,355.1 L234.7,338.5" stroke="#4042b0" stroke-width="1.26" fill="none" stroke-dasharray="1.0,3.0" stroke-dashoffset="1.7" transform="translate(0.9,0.7)" opacity="0.6"/>
<path d="M347.6,350.7 L348.2,350.7 L348.8,350.7 L349.4,350.7 L350.0,350.7 L350.6,350.7 L351.2,350.7 L351.8,350.7 L352.4,350.7 L353.0,350.7 L353.6,350.7 L354.2,350.7 L354.8,350.7 L355.4,350.7 L356.0,350.7 L356.5,350.7 L357.1,350.7 L357.7,350.7 L358.3,350.7 L358.9,350.7 L359.5,350.7 L360.1,350.7 L360.7,350.7 L361.3,350.7 L361.9,350.7 L362.5,350.7 L363.1,350.7 L363.7,350.7 L364.3,350.7 L364.9,350.7 L365.5,350.7 L366.1,350.7 L366.7,350.7 L367.2,350.7 L367.8,350.7 L368.4,350.7 L369.0,350.7 L369.6,350.7 L370.2,350.7 L370.8,350.7 L371.4,350.7 L372.0,350.7 L372.6,350.7 L373.2,350.7 L373.8,350.7 L374.4,350.7 L375.0,350.7 L375.6,350.7 L376.2,350.7 L376.8,350.7 L377.3,350.7 L377.9,350.7 L378.5,350.7 L379.1,350.7 L379.7,350.7 L380.3,350.7 L380.9,350.7 L381.5,350.7 L382.1,350.7 L382.7,350.7 L383.3,350.7 L383.9,350.7 L384.5,350.7 L385.1,350.7 L385.7,350.7 L386.3,350.7 L386.9,350.7 L387.4,350.7 L388.0,350.7 L388.6,350.7 L389.2,350.7 L389.8,350.7 L390.4,350.7 L391.0,350.7 L391.6,350.7 L392.2,350.7 L392.8,350.7 L393.4,350.7 L394.0,350.7 L394.6,350.7 L395.2,350.7 L395.8,350.7 L396.4,350.7 L397.0,350.7 L397.5,350.7 L398.1,350.7 L398.7,350.7 L399.3,350.7 L399.9,350.7 L400.5,350.7 L401.1,350.7 L401.7,350.7 L402.3,350.7 L402.9,350.7 L403.5,350.7 L404.1,350.7 L404.7,350.7 L405.3,350.7 L405.9,350.7 L406.5,350.7 L407.1,350.7 L407.6,350.7 L408.2,350.7 L408.8,350.6 L409.4,350.6 L410.0,350.6 L410.6,350.6 L411.2,350.6 L411.8,350.6 L412.4,350.5 L413.0,350.5 L413.6,350.5 L414.2,350.4 L414.8,350.4 L415.4,350.3 L416.0,350.3 L416.6,350.2 L417.2,350.2 L417.8,350.1 L418.3,350.0 L418.9,349.9 L419.5,349.8 L420.1,349.7 L420.7,349.6 L421.3,349.4 L421.9,349.3 L422.5,349.1 L423.1,348.9 L423.7,348.8 L424.3,348.5 L424.9,348.3 L425.5,348.0 L426.1,347.8 L426.7,347.5 L427.3,347.1 L427.9,346.8 L428.4,346.4 L429.0,346.0 L429.6,345.5 L430.2,345.0 L430.8,344.5 L431.4,343.9 L432.0,343.3 L432.6,342.7 L433.2,341.9 L433.8,341.2 L434.4,340.4 L435.0,339.5 L435.6,338.6 L436.2,337.7 L436.8,336.6 L437.4,335.6 L438.0,334.4 L438.5,333.2 L439.1,331.9 L439.7,330.6 L440.3,329.2 L440.9,327.7 L441.5,326.1 L442.1,324.5 L442.7,322.8 L443.3,321.0 L443.9,319.2 L444.5,317.3 L445.1,315.3 L445.7,313.3 L446.3,311.1 L446.9,309.0 L447.5,306.7 L448.1,304.4 L448.6,302.0 L449.2,299.6 L449.8,297.1 L450.4,294.6 L451.0,292.0 L451.6,289.4 L452.2,286.7 L452.8,284.1 L453.4,281.4 L454.0,278.6 L454.6,275.9 L455.2,273.2 L455.8,270.4 L456.4,267.7 L457.0,265.0 L457.6,262.3 L458.2,259.6 L458.8,257.0 L459.3,254.4 L459.9,251.9 L460.5,249.4 L461.1,247.0 L461.7,244.7 L462.3,242.4 L462.9,240.3 L463.5,238.2 L464.1,236.2 L464.7,234.4 L465.3,232.6 L465.9,231.0 L466.5,229.5 L467.1,228.1 L467.7,226.8 L468.3,225.7 L468.9,224.7 L469.4,223.8 L470.0,223.1 L470.6,222.5 L471.2,222.0 L471.8,221.8 L472.4,221.8 L473.0,222.2 L473.6,222.9 L474.2,223.9 L474.8,225.2 L475.4,226.8 L476.0,228.7 L476.6,230.8 L477.2,233.2 L477.8,235.8 L478.4,238.6 L479.0,241.5 L479.5,244.6 L480.1,247.8 L480.7,251.1 L481.3,254.5 L481.9,258.0 L482.5,261.5 L483.1,264.9 L483.7,268.4 L484.3,271.9 L484.9,275.3 L485.5,278.6 L486.1,281.9 L486.7,285.1 L487.3,288.1 L487.9,291.1 L488.5,293.9 L489.1,296.6 L489.6,299.2 L490.2,301.7 L490.8,304.0 L491.4,306.1 L492.0,308.2 L492.6,310.1 L493.2,311.8 L493.8,313.4 L494.4,314.9 L495.0,316.3 L495.6,317.5 L496.2,318.7 L496.8,319.7 L497.4,320.6 L498.0,321.4 L498.6,322.1 L499.2,322.8 L499.7,323.4 L500.3,323.9 L500.9,324.3 L501.5,324.6 L502.1,325.0 L502.7,325.2 L503.3,325.4 L503.9,325.6 L504.5,325.7 L505.1,325.8 L505.7,325.8 L506.3,325.8 L506.9,325.8 L507.5,325.8 L508.1,325.7 L508.7,325.6 L509.3,325.5 L509.9,325.3 L510.4,325.1 L511.0,324.9 L511.6,324.7 L512.2,324.4 L512.8,324.2 L513.4,323.8 L514.0,323.5 L514.6,323.1 L515.2,322.7 L515.8,322.3 L516.4,321.8 L517.0,321.3 L517.6,320.7 L518.2,320.1 L518.8,319.4 L519.4,318.7 L520.0,317.9 L520.5,317.1 L521.1,316.1 L521.7,315.1 L522.3,314.1 L522.9,312.9 L523.5,311.6 L524.1,310.2 L524.7,308.7 L525.3,307.1 L525.3,307.1 L524.7,309.9 L524.1,312.5 L523.5,314.9 L522.9,317.1 L522.3,319.2 L521.7,321.2 L521.1,323.1 L520.5,324.8 L520.0,326.4 L519.4,327.9 L518.8,329.4 L518.2,330.7 L517.6,331.9 L517.0,333.1 L516.4,334.2 L515.8,335.2 L515.2,336.1 L514.6,337.0 L514.0,337.9 L513.4,338.6 L512.8,339.4 L512.2,340.1 L511.6,340.7 L511.0,341.3 L510.4,341.9 L509.9,342.4 L509.3,342.9 L508.7,343.3 L508.1,343.8 L507.5,344.2 L506.9,344.5 L506.3,344.9 L505.7,345.2 L505.1,345.5 L504.5,345.8 L503.9,346.1 L503.3,346.4 L502.7,346.6 L502.1,346.8 L501.5,347.0 L500.9,347.2 L500.3,347.4 L499.7,347.6 L499.2,347.8 L498.6,347.9 L498.0,348.1 L497.4,348.2 L496.8,348.3 L496.2,348.4 L495.6,348.5 L495.0,348.6 L494.4,348.7 L493.8,348.8 L493.2,348.9 L492.6,349.0 L492.0,349.1 L491.4,349.2 L490.8,349.2 L490.2,349.3 L489.6,349.3 L489.1,349.4 L488.5,349.5 L487.9,349.5 L487.3,349.5 L486.7,349.6 L486.1,349.6 L485.5,349.7 L484.9,349.7 L484.3,349.7 L483.7,349.8 L483.1,349.8 L482.5,349.8 L481.9,349.8 L481.3,349.8 L480.7,349.8 L480.1,349.8 L479.5,349.8 L479.0,349.8 L478.4,349.7 L477.8,349.7 L477.2,349.6 L476.6,349.6 L476.0,349.5 L475.4,349.4 L474.8,349.2 L474.2,349.0 L473.6,348.8 L473.0,348.6 L472.4,348.3 L471.8,348.0 L471.2,347.6 L470.6,347.2 L470.0,346.7 L469.4,346.1 L468.9,345.5 L468.3,344.8 L467.7,343.9 L467.1,343.0 L466.5,342.0 L465.9,340.8 L465.3,339.5 L464.7,338.1 L464.1,336.6 L463.5,334.9 L462.9,333.0 L462.3,331.0 L461.7,328.9 L461.1,326.6 L460.5,324.1 L459.9,321.5 L459.3,318.7 L458.8,315.7 L458.2,312.7 L457.6,309.4 L457.0,306.1 L456.4,302.7 L455.8,299.2 L455.2,295.6 L454.6,291.9 L454.0,288.3 L453.4,284.6 L452.8,281.0 L452.2,277.4 L451.6,273.9 L451.0,270.5 L450.4,267.2 L449.8,264.1 L449.2,261.2 L448.6,258.5 L448.1,256.1 L447.5,253.9 L446.9,252.1 L446.3,250.5 L445.7,249.3 L445.1,248.4 L444.5,247.9 L443.9,247.7 L443.3,247.9 L442.7,248.3 L442.1,249.1 L441.5,250.2 L440.9,251.6 L440.3,253.3 L439.7,255.2 L439.1,257.4 L438.5,259.8 L438.0,262.5 L437.4,265.3 L436.8,268.3 L436.2,271.4 L435.6,274.7 L435.0,278.0 L434.4,281.4 L433.8,284.9 L433.2,288.4 L432.6,291.8 L432.0,295.3 L431.4,298.7 L430.8,302.1 L430.2,305.4 L429.6,308.6 L429.0,311.7 L428.4,314.6 L427.9,317.5 L427.3,320.2 L426.7,322.8 L426.1,325.3 L425.5,327.6 L424.9,329.8 L424.3,331.8 L423.7,333.7 L423.1,335.4 L422.5,337.0 L421.9,338.5 L421.3,339.9 L420.7,341.1 L420.1,342.3 L419.5,343.3 L418.9,344.2 L418.3,345.1 L417.8,345.8 L417.2,346.5 L416.6,347.1 L416.0,347.6 L415.4,348.1 L414.8,348.5 L414.2,348.9 L413.6,349.2 L413.0,349.5 L412.4,349.7 L411.8,349.9 L411.2,350.1 L410.6,350.2 L410.0,350.4 L409.4,350.5 L408.8,350.6 L408.2,350.7 L407.6,350.8 L407.1,350.8 L406.5,350.9 L405.9,350.9 L405.3,351.0 L404.7,351.0 L404.1,351.0 L403.5,351.1 L402.9,351.1 L402.3,351.1 L401.7,351.1 L401.1,351.1 L400.5,351.1 L399.9,351.2 L399.3,351.2 L398.7,351.2 L398.1,351.2 L397.5,351.2 L397.0,351.2 L396.4,351.2 L395.8,351.2 L395.2,351.2 L394.6,351.2 L394.0,351.2 L393.4,351.3 L392.8,351.3 L392.2,351.3 L391.6,351.3 L391.0,351.3 L390.4,351.3 L389.8,351.3 L389.2,351.3 L388.6,351.3 L388.0,351.3 L387.4,351.3 L386.9,351.3 L386.3,351.3 L385.7,351.3 L385.1,351.4 L384.5,351.4 L383.9,351.4 L383.3,351.4 L382.7,351.4 L382.1,351.4 L381.5,351.4 L380.9,351.4 L380.3,351.4 L379.7,351.4 L379.1,351.4 L378.5,351.4 L377.9,351.4 L377.3,351.4 L376.8,351.4 L376.2,351.5 L375.6,351.5 L375.0,351.5 L374.4,351.5 L373.8,351.5 L373.2,351.5 L372.6,351.5 L372.0,351.5 L371.4,351.5 L370.8,351.5 L370.2,351.5 L369.6,351.5 L369.0,351.5 L368.4,351.5 L367.8,351.6 L367.2,351.6 L366.7,351.6 L366.1,351.6 L365.5,351.6 L364.9,351.6 L364.3,351.6 L363.7,351.6 L363.1,351.6 L362.5,351.6 L361.9,351.6 L361.3,351.6 L360.7,351.6 L360.1,351.6 L359.5,351.7 L358.9,351.7 L358.3,351.7 L357.7,351.7 L357.1,351.7 L356.5,351.7 L356.0,351.7 L355.4,351.7 L354.8,351.7 L354.2,351.7 L353.6,351.7 L353.0,351.7 L352.4,351.7 L351.8,351.7 L351.2,351.8 L350.6,351.8 L350.0,351.8 L349.4,351.8 L348.8,351.8 L348.2,351.8 L347.6,351.8Z" stroke="#f0282a" stroke-width="1.4" fill="none" stroke-linejoin="round" stroke-linecap="round"/>
<path d="M347.6,350.4 L348.2,350.4 L348.8,350.4 L349.4,350.4 L350.0,350.4 L350.6,350.4 L351.2,350.4 L351.8,350.4 L352.4,350.4 L353.0,350.4 L353.6,350.4 L354.2,350.4 L354.8,350.4 L355.4,350.4 L356.0,350.4 L356.5,350.4 L357.1,350.4 L357.7,350.4 L358.3,350.4 L358.9,350.4 L359.5,350.4 L360.1,350.4 L360.7,350.4 L361.3,350.4 L361.9,350.4 L362.5,350.4 L363.1,350.4 L363.7,350.4 L364.3,350.4 L364.9,350.4 L365.5,350.4 L366.1,350.4 L366.7,350.4 L367.2,350.4 L367.8,350.4 L368.4,350.4 L369.0,350.4 L369.6,350.4 L370.2,350.4 L370.8,350.4 L371.4,350.4 L372.0,350.4 L372.6,350.4 L373.2,350.4 L373.8,350.4 L374.4,350.4 L375.0,350.4 L375.6,350.4 L376.2,350.4 L376.8,350.4 L377.3,350.4 L377.9,350.4 L378.5,350.4 L379.1,350.4 L379.7,350.4 L380.3,350.4 L380.9,350.4 L381.5,350.4 L382.1,350.4 L382.7,350.4 L383.3,350.4 L383.9,350.4 L384.5,350.4 L385.1,350.4 L385.7,350.4 L386.3,350.4 L386.9,350.4 L387.4,350.4 L388.0,350.4 L388.6,350.4 L389.2,350.4 L389.8,350.4 L390.4,350.4 L391.0,350.4 L391.6,350.4 L392.2,350.4 L392.8,350.4 L393.4,350.4 L394.0,350.4 L394.6,350.4 L395.2,350.4 L395.8,350.4 L396.4,350.4 L397.0,350.4 L397.5,350.4 L398.1,350.4 L398.7,350.4 L399.3,350.4 L399.9,350.4 L400.5,350.4 L401.1,350.4 L401.7,350.4 L402.3,350.4 L402.9,350.4 L403.5,350.4 L404.1,350.4 L404.7,350.4 L405.3,350.4 L405.9,350.4 L406.5,350.4 L407.1,350.4 L407.6,350.4 L408.2,350.4 L408.8,350.4 L409.4,350.4 L410.0,350.4 L410.6,350.4 L411.2,350.4 L411.8,350.4 L412.4,350.4 L413.0,350.4 L413.6,350.4 L414.2,350.4 L414.8,350.4 L415.4,350.4 L416.0,350.4 L416.6,350.4 L417.2,350.4 L417.8,350.4 L418.3,350.4 L418.9,350.4 L419.5,350.4 L420.1,350.4 L420.7,350.4 L421.3,350.4 L421.9,350.4 L422.5,350.4 L423.1,350.4 L423.7,350.4 L424.3,350.4 L424.9,350.4 L425.5,350.4 L426.1,350.4 L426.7,350.4 L427.3,350.3 L427.9,350.3 L428.4,350.3 L429.0,350.3 L429.6,350.3 L430.2,350.3 L430.8,350.3 L431.4,350.2 L432.0,350.2 L432.6,350.2 L433.2,350.1 L433.8,350.1 L434.4,350.0 L435.0,350.0 L435.6,349.9 L436.2,349.8 L436.8,349.8 L437.4,349.7 L438.0,349.6 L438.5,349.4 L439.1,349.3 L439.7,349.1 L440.3,349.0 L440.9,348.8 L441.5,348.6 L442.1,348.4 L442.7,348.1 L443.3,347.8 L443.9,347.5 L444.5,347.2 L445.1,346.9 L445.7,346.5 L446.3,346.1 L446.9,345.6 L447.5,345.1 L448.1,344.6 L448.6,344.1 L449.2,343.5 L449.8,342.9 L450.4,342.2 L451.0,341.5 L451.6,340.8 L452.2,340.1 L452.8,339.3 L453.4,338.5 L454.0,337.6 L454.6,336.7 L455.2,335.9 L455.8,334.9 L456.4,334.0 L457.0,333.1 L457.6,332.1 L458.2,331.1 L458.8,330.2 L459.3,329.2 L459.9,328.3 L460.5,327.3 L461.1,326.4 L461.7,325.5 L462.3,324.6 L462.9,323.8 L463.5,323.0 L464.1,322.2 L464.7,321.5 L465.3,320.8 L465.9,320.2 L466.5,319.7 L467.1,319.2 L467.7,318.8 L468.3,318.4 L468.9,318.1 L469.4,317.9 L470.0,317.7 L470.6,317.6 L471.2,317.6 L471.8,317.7 L472.4,317.9 L473.0,318.1 L473.6,318.4 L474.2,318.7 L474.8,319.2 L475.4,319.6 L476.0,320.2 L476.6,320.7 L477.2,321.4 L477.8,322.0 L478.4,322.7 L479.0,323.4 L479.5,324.2 L480.1,324.9 L480.7,325.7 L481.3,326.5 L481.9,327.3 L482.5,328.0 L483.1,328.8 L483.7,329.6 L484.3,330.3 L484.9,331.0 L485.5,331.7 L486.1,332.4 L486.7,333.1 L487.3,333.7 L487.9,334.3 L488.5,334.8 L489.1,335.3 L489.6,335.8 L490.2,336.3 L490.8,336.7 L491.4,337.1 L492.0,337.5 L492.6,337.8 L493.2,338.1 L493.8,338.4 L494.4,338.6 L495.0,338.8 L495.6,339.0 L496.2,339.1 L496.8,339.3 L497.4,339.4 L498.0,339.5 L498.6,339.6 L499.2,339.6 L499.7,339.6 L500.3,339.7 L500.9,339.7 L501.5,339.7 L502.1,339.6 L502.7,339.6 L503.3,339.5 L503.9,339.5 L504.5,339.4 L505.1,339.3 L505.7,339.2 L506.3,339.1 L506.9,339.0 L507.5,338.9 L508.1,338.8 L508.7,338.6 L509.3,338.5 L509.9,338.3 L510.4,338.2 L511.0,338.0 L511.6,337.8 L512.2,337.6 L512.8,337.4 L513.4,337.2 L514.0,337.0 L514.6,336.7 L515.2,336.5 L515.8,336.2 L516.4,335.9 L517.0,335.6 L517.6,335.3 L518.2,335.0 L518.8,334.6 L519.4,334.3 L520.0,333.9 L520.5,333.5 L521.1,333.1 L521.7,332.6 L522.3,332.2 L522.9,331.7 L523.5,331.2 L524.1,330.6 L524.7,330.1 L525.3,329.5 L525.3,328.4 L524.7,329.8 L524.1,331.1 L523.5,332.4 L522.9,333.5 L522.3,334.6 L521.7,335.6 L521.1,336.5 L520.5,337.4 L520.0,338.3 L519.4,339.0 L518.8,339.7 L518.2,340.4 L517.6,341.1 L517.0,341.7 L516.4,342.2 L515.8,342.7 L515.2,343.2 L514.6,343.7 L514.0,344.1 L513.4,344.5 L512.8,344.9 L512.2,345.2 L511.6,345.6 L511.0,345.9 L510.4,346.2 L509.9,346.4 L509.3,346.7 L508.7,346.9 L508.1,347.1 L507.5,347.3 L506.9,347.5 L506.3,347.7 L505.7,347.9 L505.1,348.1 L504.5,348.2 L503.9,348.3 L503.3,348.5 L502.7,348.6 L502.1,348.7 L501.5,348.8 L500.9,348.9 L500.3,349.0 L499.7,349.1 L499.2,349.2 L498.6,349.3 L498.0,349.4 L497.4,349.4 L496.8,349.5 L496.2,349.6 L495.6,349.6 L495.0,349.7 L494.4,349.7 L493.8,349.8 L493.2,349.8 L492.6,349.9 L492.0,349.9 L491.4,350.0 L490.8,350.0 L490.2,350.0 L489.6,350.1 L489.1,350.1 L488.5,350.1 L487.9,350.1 L487.3,350.2 L486.7,350.2 L486.1,350.2 L485.5,350.2 L484.9,350.2 L484.3,350.2 L483.7,350.2 L483.1,350.2 L482.5,350.2 L481.9,350.2 L481.3,350.2 L480.7,350.2 L480.1,350.2 L479.5,350.2 L479.0,350.1 L478.4,350.1 L477.8,350.1 L477.2,350.0 L476.6,350.0 L476.0,349.9 L475.4,349.9 L474.8,349.8 L474.2,349.7 L473.6,349.6 L473.0,349.5 L472.4,349.3 L471.8,349.2 L471.2,349.0 L470.6,348.9 L470.0,348.7 L469.4,348.5 L468.9,348.3 L468.3,348.0 L467.7,347.7 L467.1,347.4 L466.5,347.1 L465.9,346.8 L465.3,346.4 L464.7,346.0 L464.1,345.6 L463.5,345.2 L462.9,344.7 L462.3,344.2 L461.7,343.6 L461.1,343.0 L460.5,342.4 L459.9,341.8 L459.3,341.1 L458.8,340.4 L458.2,339.7 L457.6,338.9 L457.0,338.1 L456.4,337.3 L455.8,336.4 L455.2,335.5 L454.6,334.6 L454.0,333.7 L453.4,332.7 L452.8,331.8 L452.2,330.8 L451.6,329.8 L451.0,328.8 L450.4,327.8 L449.8,326.8 L449.2,325.7 L448.6,324.7 L448.1,323.7 L447.5,322.8 L446.9,321.8 L446.3,320.9 L445.7,319.9 L445.1,319.1 L444.5,318.2 L443.9,317.4 L443.3,316.6 L442.7,315.9 L442.1,315.2 L441.5,314.6 L440.9,314.1 L440.3,313.6 L439.7,313.1 L439.1,312.8 L438.5,312.5 L438.0,312.3 L437.4,312.1 L436.8,312.0 L436.2,312.0 L435.6,312.1 L435.0,312.3 L434.4,312.5 L433.8,312.9 L433.2,313.3 L432.6,313.8 L432.0,314.4 L431.4,315.1 L430.8,315.9 L430.2,316.7 L429.6,317.6 L429.0,318.5 L428.4,319.5 L427.9,320.5 L427.3,321.6 L426.7,322.7 L426.1,323.8 L425.5,325.0 L424.9,326.1 L424.3,327.3 L423.7,328.4 L423.1,329.6 L422.5,330.8 L421.9,331.9 L421.3,333.0 L420.7,334.1 L420.1,335.2 L419.5,336.2 L418.9,337.2 L418.3,338.2 L417.8,339.1 L417.2,340.0 L416.6,340.9 L416.0,341.7 L415.4,342.5 L414.8,343.2 L414.2,343.9 L413.6,344.5 L413.0,345.2 L412.4,345.7 L411.8,346.3 L411.2,346.8 L410.6,347.2 L410.0,347.6 L409.4,348.0 L408.8,348.4 L408.2,348.7 L407.6,349.0 L407.1,349.3 L406.5,349.5 L405.9,349.8 L405.3,350.0 L404.7,350.1 L404.1,350.3 L403.5,350.5 L402.9,350.6 L402.3,350.7 L401.7,350.8 L401.1,350.9 L400.5,351.0 L399.9,351.1 L399.3,351.2 L398.7,351.2 L398.1,351.3 L397.5,351.3 L397.0,351.4 L396.4,351.4 L395.8,351.4 L395.2,351.5 L394.6,351.5 L394.0,351.5 L393.4,351.5 L392.8,351.5 L392.2,351.6 L391.6,351.6 L391.0,351.6 L390.4,351.6 L389.8,351.6 L389.2,351.6 L388.6,351.6 L388.0,351.7 L387.4,351.7 L386.9,351.7 L386.3,351.7 L385.7,351.7 L385.1,351.7 L384.5,351.7 L383.9,351.7 L383.3,351.7 L382.7,351.7 L382.1,351.8 L381.5,351.8 L380.9,351.8 L380.3,351.8 L379.7,351.8 L379.1,351.8 L378.5,351.8 L377.9,351.8 L377.3,351.8 L376.8,351.8 L376.2,351.8 L375.6,351.9 L375.0,351.9 L374.4,351.9 L373.8,351.9 L373.2,351.9 L372.6,351.9 L372.0,351.9 L371.4,351.9 L370.8,351.9 L370.2,352.0 L369.6,352.0 L369.0,352.0 L368.4,352.0 L367.8,352.0 L367.2,352.0 L366.7,352.0 L366.1,352.1 L365.5,352.1 L364.9,352.1 L364.3,352.1 L363.7,352.1 L363.1,352.2 L362.5,352.2 L361.9,352.2 L361.3,352.2 L360.7,352.3 L360.1,352.3 L359.5,352.3 L358.9,352.4 L358.3,352.4 L357.7,352.5 L357.1,352.5 L356.5,352.5 L356.0,352.6 L355.4,352.6 L354.8,352.7 L354.2,352.8 L353.6,352.8 L353.0,352.9 L352.4,353.0 L351.8,353.0 L351.2,353.1 L350.6,353.2 L350.0,353.3 L349.4,353.4 L348.8,353.6 L348.2,353.7 L347.6,353.8Z" stroke="#111" stroke-width="1.4" fill="none" stroke-linejoin="round" stroke-linecap="round"/>
<rect x="332.2" y="211.2" width="209.1" height="157.3" fill="none" stroke="#111" stroke-width="1.4"/>
<line x1="329.2" y1="350.4" x2="332.2" y2="350.4" stroke="#222" stroke-width="1.1"/>
<text x="327.3" y="352.8" font-size="6.7" text-anchor="end" fill="#333">0.0</text>
<line x1="331.0" y1="341.7" x2="332.2" y2="341.7" stroke="#222" stroke-width="0.9"/>
<line x1="329.2" y1="332.9" x2="332.2" y2="332.9" stroke="#222" stroke-width="1.1"/>
<text x="327.3" y="335.3" font-size="6.7" text-anchor="end" fill="#333">0.5</text>
<line x1="331.0" y1="324.2" x2="332.2" y2="324.2" stroke="#222" stroke-width="0.9"/>
<line x1="329.2" y1="315.5" x2="332.2" y2="315.5" stroke="#222" stroke-width="1.1"/>
<text x="327.3" y="317.9" font-size="6.7" text-anchor="end" fill="#333">1.0</text>
<line x1="331.0" y1="306.8" x2="332.2" y2="306.8" stroke="#222" stroke-width="0.9"/>
<line x1="329.2" y1="298.0" x2="332.2" y2="298.0" stroke="#222" stroke-width="1.1"/>
<text x="327.3" y="300.4" font-size="6.7" text-anchor="end" fill="#333">1.5</text>
<line x1="331.0" y1="289.3" x2="332.2" y2="289.3" stroke="#222" stroke-width="0.9"/>
<line x1="329.2" y1="280.6" x2="332.2" y2="280.6" stroke="#222" stroke-width="1.1"/>
<text x="327.3" y="283.0" font-size="6.7" text-anchor="end" fill="#333">2.0</text>
<line x1="331.0" y1="271.9" x2="332.2" y2="271.9" stroke="#222" stroke-width="0.9"/>
<line x1="329.2" y1="263.1" x2="332.2" y2="263.1" stroke="#222" stroke-width="1.1"/>
<text x="327.3" y="265.5" font-size="6.7" text-anchor="end" fill="#333">2.5</text>
<line x1="331.0" y1="254.4" x2="332.2" y2="254.4" stroke="#222" stroke-width="0.9"/>
<line x1="329.2" y1="245.7" x2="332.2" y2="245.7" stroke="#222" stroke-width="1.1"/>
<text x="327.3" y="248.1" font-size="6.7" text-anchor="end" fill="#333">3.0</text>
<line x1="331.0" y1="237.0" x2="332.2" y2="237.0" stroke="#222" stroke-width="0.9"/>
<line x1="329.2" y1="228.2" x2="332.2" y2="228.2" stroke="#222" stroke-width="1.1"/>
<text x="327.3" y="230.7" font-size="6.7" text-anchor="end" fill="#333">3.5</text>
<line x1="331.0" y1="219.5" x2="332.2" y2="219.5" stroke="#222" stroke-width="0.9"/>
<line x1="331.0" y1="359.1" x2="332.2" y2="359.1" stroke="#222" stroke-width="0.9"/>
<line x1="347.3" y1="368.5" x2="347.3" y2="371.5" stroke="#222" stroke-width="1.1"/>
<text x="347.3" y="378.8" font-size="6.7" text-anchor="middle" fill="#333">−0.2</text>
<line x1="377.0" y1="368.5" x2="377.0" y2="371.5" stroke="#222" stroke-width="1.1"/>
<text x="377.0" y="378.8" font-size="6.7" text-anchor="middle" fill="#333">0.0</text>
<line x1="406.7" y1="368.5" x2="406.7" y2="371.5" stroke="#222" stroke-width="1.1"/>
<text x="406.7" y="378.8" font-size="6.7" text-anchor="middle" fill="#333">0.2</text>
<line x1="436.3" y1="368.5" x2="436.3" y2="371.5" stroke="#222" stroke-width="1.1"/>
<text x="436.3" y="378.8" font-size="6.7" text-anchor="middle" fill="#333">0.4</text>
<line x1="466.0" y1="368.5" x2="466.0" y2="371.5" stroke="#222" stroke-width="1.1"/>
<text x="466.0" y="378.8" font-size="6.7" text-anchor="middle" fill="#333">0.6</text>
<line x1="495.6" y1="368.5" x2="495.6" y2="371.5" stroke="#222" stroke-width="1.1"/>
<text x="495.6" y="378.8" font-size="6.7" text-anchor="middle" fill="#333">0.8</text>
<line x1="525.3" y1="368.5" x2="525.3" y2="371.5" stroke="#222" stroke-width="1.1"/>
<text x="525.3" y="378.8" font-size="6.7" text-anchor="middle" fill="#333">1.0</text>
<line x1="362.2" y1="368.5" x2="362.2" y2="370.0" stroke="#222" stroke-width="0.9"/>
<line x1="391.8" y1="368.5" x2="391.8" y2="370.0" stroke="#222" stroke-width="0.9"/>
<line x1="421.5" y1="368.5" x2="421.5" y2="370.0" stroke="#222" stroke-width="0.9"/>
<line x1="451.1" y1="368.5" x2="451.1" y2="370.0" stroke="#222" stroke-width="0.9"/>
<line x1="480.8" y1="368.5" x2="480.8" y2="370.0" stroke="#222" stroke-width="0.9"/>
<line x1="510.5" y1="368.5" x2="510.5" y2="370.0" stroke="#222" stroke-width="0.9"/>
<text x="434.0" y="389.3" font-size="7.8" text-anchor="middle" fill="#333">E(V vs.SCE)</text>
<text x="0.0" y="0.0" font-size="13" text-anchor="middle" fill="#222" transform="translate(309.8,287.5) rotate(-90)">j (mA cm<tspan font-size="9" dy="-5">−2</tspan><tspan dy="5">)</tspan></text>
<text x="300.5" y="222.0" font-size="28" font-weight="bold" text-anchor="start" fill="#000">d</text>
<line x1="348.0" y1="228.0" x2="365.5" y2="228.0" stroke="#f0282a" stroke-width="1.7"/>
<line x1="348.0" y1="238.2" x2="365.5" y2="238.2" stroke="#111" stroke-width="1.7"/>
<text x="367.4" y="230.9" font-size="8" font-weight="bold" text-anchor="start" fill="#111" stroke="#111" stroke-width="0.3">PtCu RDFs</text>
<text x="367.4" y="241.1" font-size="8" font-weight="bold" text-anchor="start" fill="#111" stroke="#111" stroke-width="0.3">Pt/C</text>
<rect x="22.5" y="397.5" width="265.1" height="177.0" fill="#c4c4c4"/>
<clipPath id="ce"><rect x="22.5" y="397.5" width="265.1" height="177.0"/></clipPath>
<g clip-path="url(#ce)">
<g filter="url(#bl1)">
<path d="M133.8,413.9 L138.0,418.2 L144.0,423.9 L149.8,427.0 L155.1,424.5 L160.2,419.3 L164.4,416.8 L166.8,419.5 L168.3,424.8 L170.2,429.9 L173.9,434.1 L178.1,438.2 L180.4,441.5 L178.1,443.3 L173.8,444.3 L173.1,445.9 L180.5,448.8 L191.4,452.4 L197.8,456.1 L195.4,460.1 L188.5,464.2 L181.8,467.7 L176.6,469.9 L171.6,471.5 L168.0,474.0 L167.0,478.8 L167.3,484.5 L166.0,489.0 L161.8,491.4 L156.1,492.5 L150.0,493.0 L143.7,492.6 L137.0,491.6 L131.0,491.0 L125.6,492.0 L120.9,493.4 L117.8,492.5 L117.3,487.3 L118.5,479.8 L119.3,473.5 L119.7,469.8 L119.8,467.3 L117.8,464.8 L111.1,461.8 L102.4,458.9 L97.5,456.1 L99.9,453.6 L106.1,451.2 L112.0,448.8 L116.3,446.4 L120.4,444.0 L123.6,441.5 L125.5,439.1 L126.7,436.5 L128.0,432.8 L130.0,426.6 L132.2,419.2 L133.8,413.9Z" stroke="#848484" stroke-width="1.0" fill="#8c8c8c" stroke-linejoin="round" stroke-linecap="round"/>
</g>
<path d="M158,420 L164.4,416.8 L170.2,429.9 L180.4,441.5 L170,440 Z" fill="#9a9a9a" filter="url(#bl1)"/>
<path d="M127,431 L143,436 L160,431 L165,450 L167,471 L158,480 L145.5,487 L121.8,480 L120,468 L118,456 L123,444 Z" fill="#747474" filter="url(#bl2)"/>
<ellipse cx="145" cy="462" rx="12" ry="12" fill="#6c6c6c" filter="url(#bl5)"/>
<g filter="url(#bl1)">
<path d="M182.5,475.0 L190.7,488.4 L194.0,498.2 L199.5,501.5 L223.5,504.7 L212.6,510.2 L206.0,519.0 L206.0,529.8 L211.5,559.3 L175.5,551.6 L164.5,547.3 L160.2,549.5 L152.5,567.0 L147.0,551.6 L142.7,540.7 L127.5,532.0 L140.5,521.1 L141.6,512.4 L131.8,490.5 L145.0,492.7 L160.2,493.8 L171.1,486.2Z" stroke="#5c5c5c" stroke-width="1.0" fill="#606060" stroke-linejoin="round" stroke-linecap="round"/>
</g>
<path d="M201.5,529 L223.5,504.7 L212,560 Z" fill="#8c8c8c" filter="url(#bl1)"/>
<path d="M203,506 L223.5,504.7 L206,519 Z" fill="#7a7a7a" filter="url(#bl1)"/>
<path d="M150,499 L175,497 L195,500 L204,515 L200,532 L197,546 L175,549 L155,546 L146,531 L147,511 Z" fill="#262626" filter="url(#bl3)"/>
<ellipse cx="171" cy="521" rx="22" ry="16" fill="#111" filter="url(#bl3)"/>
<ellipse cx="157" cy="534" rx="11" ry="10" fill="#1a1a1a" filter="url(#bl3)"/>
<ellipse cx="150" cy="512" rx="7" ry="9" fill="#333" filter="url(#bl3)"/>
</g>
<rect x="22.5" y="397.5" width="265.1" height="177.0" filter="url(#nz)" opacity="0.5" style="mix-blend-mode:overlay"/>
<line x1="175.7" y1="552.3" x2="212.0" y2="560.5" stroke="#fff" stroke-width="1.5" stroke-dasharray="4,2.6"/>
<line x1="212.5" y1="560.0" x2="223.5" y2="504.5" stroke="#fff" stroke-width="1.5" stroke-dasharray="4,2.6"/>
<line x1="201.2" y1="528.7" x2="212.0" y2="559.3" stroke="#fff" stroke-width="1.5" stroke-dasharray="4,2.6"/>
<path d="M202.6,558.2 A8,8 0 0 1 208.4,551.2" stroke="#f2c31b" stroke-width="2" fill="none"/>
<path d="M207.6,546.8 A4.8,4.8 0 0 1 216.6,546.6" stroke="#e02525" stroke-width="2" fill="none"/>
<text x="190.6" y="546.5" font-size="18" font-weight="bold" text-anchor="middle" fill="#f4c000">α</text>
<text x="211.6" y="528.5" font-size="17" font-weight="bold" text-anchor="middle" fill="#e32222">β</text>
<line x1="36.0" y1="563.9" x2="60.0" y2="563.9" stroke="#fff" stroke-width="2"/>
<text x="27.8" y="557.7" font-size="14.2" text-anchor="start" fill="#fff">10 nm</text>
<text x="7.5" y="415.0" font-size="28" font-weight="bold" text-anchor="start" fill="#000">e</text>
<path d="M363.4,539.6 L363.9,539.6 L364.5,539.6 L365.0,539.6 L365.6,539.6 L366.1,539.6 L366.7,539.6 L367.2,539.6 L367.8,539.6 L368.3,539.6 L368.9,539.6 L369.4,539.6 L370.0,539.6 L370.5,539.6 L371.1,539.6 L371.6,539.6 L372.2,539.6 L372.7,539.6 L373.3,539.6 L373.8,539.6 L374.4,539.6 L374.9,539.6 L375.5,539.6 L376.0,539.6 L376.5,539.6 L377.1,539.6 L377.6,539.6 L378.2,539.6 L378.7,539.6 L379.3,539.6 L379.8,539.6 L380.4,539.6 L380.9,539.6 L381.5,539.6 L382.0,539.6 L382.6,539.6 L383.1,539.6 L383.7,539.6 L384.2,539.6 L384.8,539.6 L385.3,539.6 L385.9,539.6 L386.4,539.6 L387.0,539.6 L387.5,539.6 L388.1,539.6 L388.6,539.6 L389.2,539.6 L389.7,539.6 L390.3,539.5 L390.8,539.5 L391.4,539.5 L391.9,539.5 L392.5,539.5 L393.0,539.5 L393.6,539.5 L394.1,539.5 L394.7,539.5 L395.2,539.5 L395.8,539.5 L396.3,539.5 L396.9,539.5 L397.4,539.5 L398.0,539.5 L398.5,539.5 L399.1,539.5 L399.6,539.5 L400.2,539.5 L400.7,539.5 L401.2,539.5 L401.8,539.5 L402.3,539.5 L402.9,539.5 L403.4,539.5 L404.0,539.5 L404.5,539.5 L405.1,539.5 L405.6,539.5 L406.2,539.5 L406.7,539.4 L407.3,539.4 L407.8,539.4 L408.4,539.4 L408.9,539.4 L409.5,539.4 L410.0,539.4 L410.6,539.4 L411.1,539.4 L411.7,539.4 L412.2,539.4 L412.8,539.3 L413.3,539.3 L413.9,539.3 L414.4,539.3 L415.0,539.3 L415.5,539.3 L416.1,539.3 L416.6,539.2 L417.2,539.2 L417.7,539.2 L418.3,539.2 L418.8,539.2 L419.4,539.1 L419.9,539.1 L420.5,539.1 L421.0,539.1 L421.6,539.1 L422.1,539.0 L422.7,539.0 L423.2,539.0 L423.8,538.9 L424.3,538.9 L424.9,538.9 L425.4,538.9 L426.0,538.8 L426.5,538.8 L427.0,538.7 L427.6,538.7 L428.1,538.7 L428.7,538.6 L429.2,538.6 L429.8,538.5 L430.3,538.5 L430.9,538.5 L431.4,538.4 L432.0,538.4 L432.5,538.3 L433.1,538.3 L433.6,538.2 L434.2,538.1 L434.7,538.1 L435.3,538.0 L435.8,538.0 L436.4,537.9 L436.9,537.8 L437.5,537.8 L438.0,537.7 L438.6,537.6 L439.1,537.5 L439.7,537.5 L440.2,537.4 L440.8,537.3 L441.3,537.2 L441.9,537.1 L442.4,537.0 L443.0,536.9 L443.5,536.8 L444.1,536.7 L444.6,536.6 L445.2,536.5 L445.7,536.4 L446.3,536.3 L446.8,536.1 L447.4,536.0 L447.9,535.9 L448.5,535.7 L449.0,535.5 L449.6,535.4 L450.1,535.2 L450.7,535.0 L451.2,534.7 L451.7,534.5 L452.3,534.3 L452.8,534.0 L453.4,533.7 L453.9,533.4 L454.5,533.0 L455.0,532.6 L455.6,532.2 L456.1,531.8 L456.7,531.3 L457.2,530.7 L457.8,530.2 L458.3,529.5 L458.9,528.8 L459.4,528.1 L460.0,527.3 L460.5,526.5 L461.1,525.5 L461.6,524.6 L462.2,523.5 L462.7,522.4 L463.3,521.2 L463.8,519.9 L464.4,518.6 L464.9,517.1 L465.5,515.6 L466.0,514.1 L466.6,512.4 L467.1,510.7 L467.7,508.9 L468.2,507.1 L468.8,505.2 L469.3,503.2 L469.9,501.2 L470.4,499.2 L471.0,497.1 L471.5,495.0 L472.1,493.0 L472.6,490.9 L473.2,488.8 L473.7,486.7 L474.3,484.7 L474.8,482.7 L475.4,480.8 L475.9,478.9 L476.5,477.2 L477.0,475.5 L477.5,473.9 L478.1,472.5 L478.6,471.1 L479.2,469.9 L479.7,468.9 L480.3,468.0 L480.8,467.3 L481.4,466.7 L481.9,466.3 L482.5,466.1 L483.0,466.0 L483.6,466.1 L484.1,466.3 L484.7,466.7 L485.2,467.2 L485.8,467.8 L486.3,468.6 L486.9,469.5 L487.4,470.5 L488.0,471.6 L488.5,472.8 L489.1,474.1 L489.6,475.5 L490.2,477.0 L490.7,478.5 L491.3,480.1 L491.8,481.8 L492.4,483.5 L492.9,485.2 L493.5,486.9 L494.0,488.7 L494.6,490.5 L495.1,492.2 L495.7,494.0 L496.2,495.7 L496.8,497.5 L497.3,499.2 L497.9,500.8 L498.4,502.4 L499.0,504.0 L499.5,505.5 L500.1,507.0 L500.6,508.4 L501.2,509.8 L501.7,511.1 L502.2,512.3 L502.8,513.5 L503.3,514.6 L503.9,515.6 L504.4,516.6 L505.0,517.5 L505.5,518.4 L506.1,519.2 L506.6,520.0 L507.2,520.6 L507.7,521.3 L508.3,521.8 L508.8,522.4 L509.4,522.8 L509.9,523.3 L510.5,523.7 L511.0,524.0 L511.6,524.3 L512.1,524.6 L512.7,524.8 L513.2,525.0 L513.8,525.1 L514.3,525.3 L514.9,525.4 L515.4,525.4 L516.0,525.5 L516.5,525.5 L517.1,525.5 L517.6,525.5 L518.2,525.4 L518.7,525.3 L519.3,525.2 L519.8,525.1 L520.4,525.0 L520.9,524.8 L521.5,524.7 L522.0,524.5 L522.6,524.3 L523.1,524.0 L523.7,523.8 L524.2,523.5 L524.8,523.2 L525.3,522.9 L525.9,522.6 L526.4,522.3 L527.0,521.9 L527.5,521.5 L527.5,520.5 L527.0,521.2 L526.4,521.9 L525.9,522.6 L525.3,523.2 L524.8,523.7 L524.2,524.3 L523.7,524.8 L523.1,525.2 L522.6,525.7 L522.0,526.1 L521.5,526.5 L520.9,526.9 L520.4,527.2 L519.8,527.5 L519.3,527.8 L518.7,528.1 L518.2,528.4 L517.6,528.6 L517.1,528.9 L516.5,529.1 L516.0,529.3 L515.4,529.5 L514.9,529.7 L514.3,529.8 L513.8,530.0 L513.2,530.2 L512.7,530.3 L512.1,530.4 L511.6,530.6 L511.0,530.7 L510.5,530.8 L509.9,530.9 L509.4,531.0 L508.8,531.1 L508.3,531.2 L507.7,531.3 L507.2,531.3 L506.6,531.4 L506.1,531.5 L505.5,531.5 L505.0,531.6 L504.4,531.7 L503.9,531.7 L503.3,531.8 L502.8,531.8 L502.2,531.8 L501.7,531.9 L501.2,531.9 L500.6,531.9 L500.1,532.0 L499.5,532.0 L499.0,532.0 L498.4,532.1 L497.9,532.1 L497.3,532.1 L496.8,532.1 L496.2,532.1 L495.7,532.1 L495.1,532.1 L494.6,532.1 L494.0,532.1 L493.5,532.1 L492.9,532.0 L492.4,532.0 L491.8,531.9 L491.3,531.9 L490.7,531.8 L490.2,531.7 L489.6,531.6 L489.1,531.5 L488.5,531.3 L488.0,531.1 L487.4,530.9 L486.9,530.7 L486.3,530.4 L485.8,530.1 L485.2,529.8 L484.7,529.4 L484.1,528.9 L483.6,528.4 L483.0,527.9 L482.5,527.3 L481.9,526.6 L481.4,525.9 L480.8,525.1 L480.3,524.2 L479.7,523.2 L479.2,522.2 L478.6,521.1 L478.1,519.9 L477.5,518.7 L477.0,517.3 L476.5,515.9 L475.9,514.4 L475.4,512.9 L474.8,511.3 L474.3,509.6 L473.7,507.9 L473.2,506.1 L472.6,504.3 L472.1,502.5 L471.5,500.6 L471.0,498.8 L470.4,497.0 L469.9,495.2 L469.3,493.4 L468.8,491.7 L468.2,490.1 L467.7,488.5 L467.1,487.1 L466.6,485.8 L466.0,484.5 L465.5,483.5 L464.9,482.5 L464.4,481.7 L463.8,481.1 L463.3,480.6 L462.7,480.4 L462.2,480.3 L461.6,480.3 L461.1,480.6 L460.5,481.0 L460.0,481.6 L459.4,482.4 L458.9,483.4 L458.3,484.4 L457.8,485.7 L457.2,487.0 L456.7,488.5 L456.1,490.1 L455.6,491.8 L455.0,493.6 L454.5,495.4 L453.9,497.3 L453.4,499.3 L452.8,501.2 L452.3,503.2 L451.7,505.2 L451.2,507.1 L450.7,509.0 L450.1,510.9 L449.6,512.8 L449.0,514.6 L448.5,516.3 L447.9,518.0 L447.4,519.6 L446.8,521.1 L446.3,522.5 L445.7,523.9 L445.2,525.2 L444.6,526.4 L444.1,527.5 L443.5,528.5 L443.0,529.5 L442.4,530.4 L441.9,531.2 L441.3,531.9 L440.8,532.6 L440.2,533.2 L439.7,533.8 L439.1,534.3 L438.6,534.7 L438.0,535.1 L437.5,535.4 L436.9,535.8 L436.4,536.0 L435.8,536.3 L435.3,536.5 L434.7,536.7 L434.2,536.8 L433.6,537.0 L433.1,537.1 L432.5,537.2 L432.0,537.3 L431.4,537.3 L430.9,537.4 L430.3,537.5 L429.8,537.5 L429.2,537.5 L428.7,537.6 L428.1,537.6 L427.6,537.6 L427.0,537.7 L426.5,537.7 L426.0,537.7 L425.4,537.7 L424.9,537.7 L424.3,537.7 L423.8,537.7 L423.2,537.7 L422.7,537.7 L422.1,537.7 L421.6,537.7 L421.0,537.7 L420.5,537.7 L419.9,537.7 L419.4,537.7 L418.8,537.7 L418.3,537.7 L417.7,537.7 L417.2,537.7 L416.6,537.7 L416.1,537.7 L415.5,537.7 L415.0,537.7 L414.4,537.7 L413.9,537.7 L413.3,537.7 L412.8,537.7 L412.2,537.7 L411.7,537.7 L411.1,537.7 L410.6,537.7 L410.0,537.7 L409.5,537.7 L408.9,537.7 L408.4,537.7 L407.8,537.7 L407.3,537.7 L406.7,537.7 L406.2,537.7 L405.6,537.7 L405.1,537.7 L404.5,537.7 L404.0,537.7 L403.4,537.7 L402.9,537.7 L402.3,537.7 L401.8,537.7 L401.2,537.7 L400.7,537.7 L400.2,537.7 L399.6,537.7 L399.1,537.7 L398.5,537.7 L398.0,537.7 L397.4,537.7 L396.9,537.7 L396.3,537.7 L395.8,537.7 L395.2,537.7 L394.7,537.7 L394.1,537.7 L393.6,537.7 L393.0,537.7 L392.5,537.7 L391.9,537.7 L391.4,537.7 L390.8,537.7 L390.3,537.7 L389.7,537.7 L389.2,537.7 L388.6,537.7 L388.1,537.7 L387.5,537.7 L387.0,537.7 L386.4,537.7 L385.9,537.7 L385.3,537.7 L384.8,537.7 L384.2,537.7 L383.7,537.7 L383.1,537.7 L382.6,537.7 L382.0,537.7 L381.5,537.7 L380.9,537.7 L380.4,537.7 L379.8,537.7 L379.3,537.7 L378.7,537.7 L378.2,537.7 L377.6,537.7 L377.1,537.7 L376.5,537.7 L376.0,537.7 L375.5,537.7 L374.9,537.7 L374.4,537.7 L373.8,537.7 L373.3,537.7 L372.7,537.7 L372.2,537.7 L371.6,537.7 L371.1,537.7 L370.5,537.7 L370.0,537.7 L369.4,537.7 L368.9,537.7 L368.3,537.7 L367.8,537.7 L367.2,537.7 L366.7,537.7 L366.1,537.7 L365.6,537.7 L365.0,537.7 L364.5,537.7 L363.9,537.7 L363.4,537.7Z" stroke="#e9609a" stroke-width="1.1" fill="none" stroke-linejoin="round" stroke-linecap="round" stroke-dasharray="1,1" opacity="0.85"/>
<path d="M363.4,539.3 L363.9,539.3 L364.5,539.3 L365.0,539.3 L365.6,539.3 L366.1,539.3 L366.7,539.3 L367.2,539.3 L367.8,539.3 L368.3,539.3 L368.9,539.3 L369.4,539.3 L370.0,539.3 L370.5,539.3 L371.1,539.3 L371.6,539.3 L372.2,539.3 L372.7,539.3 L373.3,539.3 L373.8,539.3 L374.4,539.3 L374.9,539.3 L375.5,539.3 L376.0,539.3 L376.5,539.3 L377.1,539.3 L377.6,539.3 L378.2,539.3 L378.7,539.3 L379.3,539.3 L379.8,539.3 L380.4,539.3 L380.9,539.3 L381.5,539.3 L382.0,539.3 L382.6,539.3 L383.1,539.3 L383.7,539.3 L384.2,539.3 L384.8,539.3 L385.3,539.3 L385.9,539.3 L386.4,539.3 L387.0,539.3 L387.5,539.3 L388.1,539.3 L388.6,539.3 L389.2,539.3 L389.7,539.3 L390.3,539.3 L390.8,539.3 L391.4,539.3 L391.9,539.3 L392.5,539.3 L393.0,539.3 L393.6,539.3 L394.1,539.3 L394.7,539.3 L395.2,539.3 L395.8,539.3 L396.3,539.3 L396.9,539.3 L397.4,539.3 L398.0,539.3 L398.5,539.3 L399.1,539.3 L399.6,539.3 L400.2,539.2 L400.7,539.2 L401.2,539.2 L401.8,539.2 L402.3,539.2 L402.9,539.2 L403.4,539.2 L404.0,539.2 L404.5,539.2 L405.1,539.2 L405.6,539.2 L406.2,539.2 L406.7,539.2 L407.3,539.2 L407.8,539.2 L408.4,539.2 L408.9,539.2 L409.5,539.1 L410.0,539.1 L410.6,539.1 L411.1,539.1 L411.7,539.1 L412.2,539.1 L412.8,539.1 L413.3,539.1 L413.9,539.1 L414.4,539.0 L415.0,539.0 L415.5,539.0 L416.1,539.0 L416.6,539.0 L417.2,539.0 L417.7,538.9 L418.3,538.9 L418.8,538.9 L419.4,538.9 L419.9,538.9 L420.5,538.8 L421.0,538.8 L421.6,538.8 L422.1,538.8 L422.7,538.7 L423.2,538.7 L423.8,538.7 L424.3,538.6 L424.9,538.6 L425.4,538.6 L426.0,538.5 L426.5,538.5 L427.0,538.4 L427.6,538.4 L428.1,538.4 L428.7,538.3 L429.2,538.3 L429.8,538.2 L430.3,538.1 L430.9,538.1 L431.4,538.0 L432.0,538.0 L432.5,537.9 L433.1,537.8 L433.6,537.7 L434.2,537.7 L434.7,537.6 L435.3,537.5 L435.8,537.4 L436.4,537.3 L436.9,537.2 L437.5,537.1 L438.0,536.9 L438.6,536.8 L439.1,536.7 L439.7,536.5 L440.2,536.3 L440.8,536.2 L441.3,536.0 L441.9,535.8 L442.4,535.6 L443.0,535.4 L443.5,535.1 L444.1,534.9 L444.6,534.6 L445.2,534.3 L445.7,534.0 L446.3,533.7 L446.8,533.4 L447.4,533.0 L447.9,532.6 L448.5,532.2 L449.0,531.8 L449.6,531.3 L450.1,530.8 L450.7,530.3 L451.2,529.7 L451.7,529.1 L452.3,528.5 L452.8,527.8 L453.4,527.2 L453.9,526.4 L454.5,525.6 L455.0,524.8 L455.6,524.0 L456.1,523.1 L456.7,522.2 L457.2,521.2 L457.8,520.1 L458.3,519.1 L458.9,518.0 L459.4,516.8 L460.0,515.6 L460.5,514.4 L461.1,513.1 L461.6,511.7 L462.2,510.3 L462.7,508.9 L463.3,507.4 L463.8,505.9 L464.4,504.4 L464.9,502.8 L465.5,501.2 L466.0,499.5 L466.6,497.8 L467.1,496.1 L467.7,494.4 L468.2,492.7 L468.8,490.9 L469.3,489.1 L469.9,487.3 L470.4,485.5 L471.0,483.7 L471.5,481.9 L472.1,480.1 L472.6,478.4 L473.2,476.6 L473.7,474.9 L474.3,473.2 L474.8,471.5 L475.4,469.9 L475.9,468.3 L476.5,466.8 L477.0,465.3 L477.5,463.9 L478.1,462.5 L478.6,461.2 L479.2,460.0 L479.7,458.9 L480.3,457.8 L480.8,456.9 L481.4,456.0 L481.9,455.2 L482.5,454.5 L483.0,453.9 L483.6,453.4 L484.1,453.0 L484.7,452.7 L485.2,452.5 L485.8,452.4 L486.3,452.4 L486.9,452.6 L487.4,453.0 L488.0,453.6 L488.5,454.3 L489.1,455.2 L489.6,456.2 L490.2,457.3 L490.7,458.6 L491.3,460.1 L491.8,461.6 L492.4,463.3 L492.9,465.0 L493.5,466.9 L494.0,468.8 L494.6,470.8 L495.1,472.8 L495.7,474.9 L496.2,477.0 L496.8,479.2 L497.3,481.3 L497.9,483.5 L498.4,485.6 L499.0,487.7 L499.5,489.8 L500.1,491.9 L500.6,493.9 L501.2,495.9 L501.7,497.9 L502.2,499.7 L502.8,501.5 L503.3,503.3 L503.9,505.0 L504.4,506.6 L505.0,508.1 L505.5,509.5 L506.1,510.9 L506.6,512.2 L507.2,513.4 L507.7,514.6 L508.3,515.6 L508.8,516.6 L509.4,517.5 L509.9,518.4 L510.5,519.2 L511.0,519.9 L511.6,520.5 L512.1,521.1 L512.7,521.6 L513.2,522.1 L513.8,522.5 L514.3,522.9 L514.9,523.2 L515.4,523.5 L516.0,523.7 L516.5,523.9 L517.1,524.0 L517.6,524.1 L518.2,524.2 L518.7,524.2 L519.3,524.2 L519.8,524.2 L520.4,524.2 L520.9,524.1 L521.5,524.0 L522.0,523.8 L522.6,523.7 L523.1,523.5 L523.7,523.3 L524.2,523.1 L524.8,522.8 L525.3,522.5 L525.9,522.2 L526.4,521.9 L527.0,521.5 L527.5,521.2 L527.5,519.6 L527.0,520.4 L526.4,521.0 L525.9,521.7 L525.3,522.3 L524.8,522.9 L524.2,523.4 L523.7,523.9 L523.1,524.4 L522.6,524.8 L522.0,525.2 L521.5,525.6 L520.9,526.0 L520.4,526.3 L519.8,526.6 L519.3,526.9 L518.7,527.2 L518.2,527.5 L517.6,527.7 L517.1,528.0 L516.5,528.2 L516.0,528.4 L515.4,528.6 L514.9,528.8 L514.3,529.0 L513.8,529.1 L513.2,529.3 L512.7,529.4 L512.1,529.6 L511.6,529.7 L511.0,529.8 L510.5,529.9 L509.9,530.0 L509.4,530.1 L508.8,530.2 L508.3,530.3 L507.7,530.4 L507.2,530.4 L506.6,530.5 L506.1,530.6 L505.5,530.7 L505.0,530.7 L504.4,530.8 L503.9,530.8 L503.3,530.9 L502.8,530.9 L502.2,531.0 L501.7,531.0 L501.2,531.0 L500.6,531.1 L500.1,531.1 L499.5,531.1 L499.0,531.2 L498.4,531.2 L497.9,531.2 L497.3,531.2 L496.8,531.3 L496.2,531.3 L495.7,531.3 L495.1,531.3 L494.6,531.3 L494.0,531.3 L493.5,531.3 L492.9,531.3 L492.4,531.3 L491.8,531.3 L491.3,531.3 L490.7,531.3 L490.2,531.3 L489.6,531.3 L489.1,531.3 L488.5,531.2 L488.0,531.2 L487.4,531.1 L486.9,531.0 L486.3,531.0 L485.8,530.9 L485.2,530.7 L484.7,530.6 L484.1,530.4 L483.6,530.3 L483.0,530.0 L482.5,529.8 L481.9,529.5 L481.4,529.2 L480.8,528.9 L480.3,528.5 L479.7,528.1 L479.2,527.6 L478.6,527.1 L478.1,526.5 L477.5,525.9 L477.0,525.2 L476.5,524.4 L475.9,523.6 L475.4,522.7 L474.8,521.8 L474.3,520.8 L473.7,519.7 L473.2,518.6 L472.6,517.4 L472.1,516.2 L471.5,514.9 L471.0,513.5 L470.4,512.1 L469.9,510.7 L469.3,509.2 L468.8,507.8 L468.2,506.3 L467.7,504.8 L467.1,503.3 L466.6,501.8 L466.0,500.4 L465.5,499.0 L464.9,497.6 L464.4,496.3 L463.8,495.1 L463.3,494.0 L462.7,493.0 L462.2,492.1 L461.6,491.3 L461.1,490.6 L460.5,490.0 L460.0,489.6 L459.4,489.4 L458.9,489.2 L458.3,489.3 L457.8,489.4 L457.2,489.8 L456.7,490.2 L456.1,490.8 L455.6,491.6 L455.0,492.4 L454.5,493.4 L453.9,494.5 L453.4,495.7 L452.8,497.0 L452.3,498.4 L451.7,499.9 L451.2,501.4 L450.7,503.0 L450.1,504.6 L449.6,506.2 L449.0,507.8 L448.5,509.5 L447.9,511.1 L447.4,512.7 L446.8,514.3 L446.3,515.9 L445.7,517.4 L445.2,518.9 L444.6,520.3 L444.1,521.6 L443.5,522.9 L443.0,524.2 L442.4,525.3 L441.9,526.4 L441.3,527.5 L440.8,528.4 L440.2,529.3 L439.7,530.2 L439.1,530.9 L438.6,531.6 L438.0,532.3 L437.5,532.8 L436.9,533.4 L436.4,533.9 L435.8,534.3 L435.3,534.7 L434.7,535.0 L434.2,535.3 L433.6,535.6 L433.1,535.8 L432.5,536.1 L432.0,536.2 L431.4,536.4 L430.9,536.5 L430.3,536.7 L429.8,536.8 L429.2,536.9 L428.7,536.9 L428.1,537.0 L427.6,537.1 L427.0,537.1 L426.5,537.2 L426.0,537.2 L425.4,537.2 L424.9,537.3 L424.3,537.3 L423.8,537.3 L423.2,537.3 L422.7,537.3 L422.1,537.3 L421.6,537.3 L421.0,537.3 L420.5,537.3 L419.9,537.4 L419.4,537.4 L418.8,537.4 L418.3,537.4 L417.7,537.4 L417.2,537.4 L416.6,537.4 L416.1,537.4 L415.5,537.4 L415.0,537.4 L414.4,537.4 L413.9,537.4 L413.3,537.4 L412.8,537.4 L412.2,537.4 L411.7,537.4 L411.1,537.4 L410.6,537.4 L410.0,537.4 L409.5,537.4 L408.9,537.4 L408.4,537.4 L407.8,537.4 L407.3,537.4 L406.7,537.4 L406.2,537.4 L405.6,537.4 L405.1,537.4 L404.5,537.4 L404.0,537.4 L403.4,537.4 L402.9,537.4 L402.3,537.4 L401.8,537.4 L401.2,537.4 L400.7,537.4 L400.2,537.4 L399.6,537.4 L399.1,537.4 L398.5,537.4 L398.0,537.4 L397.4,537.4 L396.9,537.4 L396.3,537.4 L395.8,537.4 L395.2,537.4 L394.7,537.4 L394.1,537.4 L393.6,537.4 L393.0,537.4 L392.5,537.4 L391.9,537.4 L391.4,537.4 L390.8,537.4 L390.3,537.4 L389.7,537.4 L389.2,537.4 L388.6,537.4 L388.1,537.4 L387.5,537.4 L387.0,537.4 L386.4,537.4 L385.9,537.4 L385.3,537.4 L384.8,537.4 L384.2,537.4 L383.7,537.4 L383.1,537.4 L382.6,537.4 L382.0,537.4 L381.5,537.4 L380.9,537.4 L380.4,537.4 L379.8,537.4 L379.3,537.4 L378.7,537.4 L378.2,537.4 L377.6,537.4 L377.1,537.4 L376.5,537.4 L376.0,537.4 L375.5,537.4 L374.9,537.4 L374.4,537.4 L373.8,537.4 L373.3,537.4 L372.7,537.4 L372.2,537.4 L371.6,537.4 L371.1,537.4 L370.5,537.4 L370.0,537.4 L369.4,537.4 L368.9,537.4 L368.3,537.4 L367.8,537.4 L367.2,537.4 L366.7,537.4 L366.1,537.4 L365.6,537.4 L365.0,537.4 L364.5,537.4 L363.9,537.4 L363.4,537.4Z" stroke="#e9609a" stroke-width="1.3" fill="none" stroke-linejoin="round" stroke-linecap="round"/>
<rect x="348.4" y="406.8" width="192.9" height="141.8" fill="none" stroke="#333" stroke-width="1.3"/>
<line x1="345.4" y1="538.0" x2="348.4" y2="538.0" stroke="#333" stroke-width="1.1"/>
<text x="343.8" y="541.9" font-size="11" text-anchor="end" fill="#222">0.0</text>
<line x1="346.9" y1="525.0" x2="348.4" y2="525.0" stroke="#333" stroke-width="0.9"/>
<line x1="345.4" y1="511.9" x2="348.4" y2="511.9" stroke="#333" stroke-width="1.1"/>
<text x="343.8" y="515.8" font-size="11" text-anchor="end" fill="#222">0.5</text>
<line x1="346.9" y1="498.9" x2="348.4" y2="498.9" stroke="#333" stroke-width="0.9"/>
<line x1="345.4" y1="485.8" x2="348.4" y2="485.8" stroke="#333" stroke-width="1.1"/>
<text x="343.8" y="489.7" font-size="11" text-anchor="end" fill="#222">1.0</text>
<line x1="346.9" y1="472.8" x2="348.4" y2="472.8" stroke="#333" stroke-width="0.9"/>
<line x1="345.4" y1="459.7" x2="348.4" y2="459.7" stroke="#333" stroke-width="1.1"/>
<text x="343.8" y="463.6" font-size="11" text-anchor="end" fill="#222">1.5</text>
<line x1="346.9" y1="446.6" x2="348.4" y2="446.6" stroke="#333" stroke-width="0.9"/>
<line x1="345.4" y1="433.6" x2="348.4" y2="433.6" stroke="#333" stroke-width="1.1"/>
<text x="343.8" y="437.5" font-size="11" text-anchor="end" fill="#222">2.0</text>
<line x1="346.9" y1="420.6" x2="348.4" y2="420.6" stroke="#333" stroke-width="0.9"/>
<line x1="345.4" y1="407.5" x2="348.4" y2="407.5" stroke="#333" stroke-width="1.1"/>
<text x="343.8" y="411.4" font-size="11" text-anchor="end" fill="#222">2.5</text>
<line x1="363.1" y1="548.6" x2="363.1" y2="551.6" stroke="#333" stroke-width="1.1"/>
<text x="363.1" y="562.0" font-size="11" text-anchor="middle" fill="#222">−0.2</text>
<line x1="390.5" y1="548.6" x2="390.5" y2="551.6" stroke="#333" stroke-width="1.1"/>
<text x="390.5" y="562.0" font-size="11" text-anchor="middle" fill="#222">0.0</text>
<line x1="417.9" y1="548.6" x2="417.9" y2="551.6" stroke="#333" stroke-width="1.1"/>
<text x="417.9" y="562.0" font-size="11" text-anchor="middle" fill="#222">0.2</text>
<line x1="445.3" y1="548.6" x2="445.3" y2="551.6" stroke="#333" stroke-width="1.1"/>
<text x="445.3" y="562.0" font-size="11" text-anchor="middle" fill="#222">0.4</text>
<line x1="472.7" y1="548.6" x2="472.7" y2="551.6" stroke="#333" stroke-width="1.1"/>
<text x="472.7" y="562.0" font-size="11" text-anchor="middle" fill="#222">0.6</text>
<line x1="500.1" y1="548.6" x2="500.1" y2="551.6" stroke="#333" stroke-width="1.1"/>
<text x="500.1" y="562.0" font-size="11" text-anchor="middle" fill="#222">0.8</text>
<line x1="527.5" y1="548.6" x2="527.5" y2="551.6" stroke="#333" stroke-width="1.1"/>
<text x="527.5" y="562.0" font-size="11" text-anchor="middle" fill="#222">1.0</text>
<line x1="376.8" y1="548.6" x2="376.8" y2="550.1" stroke="#333" stroke-width="0.9"/>
<line x1="404.2" y1="548.6" x2="404.2" y2="550.1" stroke="#333" stroke-width="0.9"/>
<line x1="431.6" y1="548.6" x2="431.6" y2="550.1" stroke="#333" stroke-width="0.9"/>
<line x1="459.0" y1="548.6" x2="459.0" y2="550.1" stroke="#333" stroke-width="0.9"/>
<line x1="486.4" y1="548.6" x2="486.4" y2="550.1" stroke="#333" stroke-width="0.9"/>
<line x1="513.8" y1="548.6" x2="513.8" y2="550.1" stroke="#333" stroke-width="0.9"/>
<text x="445.0" y="579.2" font-size="13" text-anchor="middle" fill="#222">E (V vs. Ag/AgCl)</text>
<text x="0.0" y="0.0" font-size="13" text-anchor="middle" fill="#222" transform="translate(318.3,478.7) rotate(-90)">j (A mg<tspan font-size="8.5" dy="-5">−1</tspan><tspan dy="5">)</tspan></text>
<text x="302.5" y="413.0" font-size="26" font-weight="bold" text-anchor="start" fill="#000">f</text>
<line x1="353.7" y1="417.3" x2="379.0" y2="417.3" stroke="#e9609a" stroke-width="1.3"/>
<line x1="353.7" y1="430.6" x2="379.0" y2="430.6" stroke="#e9609a" stroke-width="1.6" stroke-dasharray="1.1,1" opacity="0.8"/>
<text x="382.5" y="421.6" font-size="11" text-anchor="start" fill="#222">initial</text>
<text x="382.5" y="434.7" font-size="11" text-anchor="start" fill="#222">after 500 cycles</text>
<text x="355.7" y="516.7" font-size="12" text-anchor="start" fill="#222">PtCu BNCs-L</text>
<path d="M62.0,744.5 L62.6,744.5 L63.2,744.5 L63.9,744.5 L64.5,744.5 L65.1,744.5 L65.7,744.5 L66.3,744.5 L67.0,744.5 L67.6,744.5 L68.2,744.5 L68.8,744.5 L69.4,744.5 L70.1,744.5 L70.7,744.5 L71.3,744.5 L71.9,744.5 L72.5,744.5 L73.2,744.5 L73.8,744.5 L74.4,744.5 L75.0,744.5 L75.6,744.5 L76.3,744.5 L76.9,744.5 L77.5,744.5 L78.1,744.5 L78.7,744.5 L79.4,744.5 L80.0,744.5 L80.6,744.5 L81.2,744.5 L81.8,744.5 L82.5,744.5 L83.1,744.5 L83.7,744.5 L84.3,744.5 L84.9,744.5 L85.6,744.5 L86.2,744.5 L86.8,744.5 L87.4,744.5 L88.0,744.5 L88.7,744.5 L89.3,744.5 L89.9,744.5 L90.5,744.5 L91.1,744.5 L91.8,744.5 L92.4,744.5 L93.0,744.5 L93.6,744.5 L94.2,744.5 L94.9,744.5 L95.5,744.5 L96.1,744.5 L96.7,744.5 L97.3,744.5 L98.0,744.5 L98.6,744.5 L99.2,744.5 L99.8,744.5 L100.4,744.5 L101.1,744.5 L101.7,744.5 L102.3,744.5 L102.9,744.5 L103.5,744.5 L104.2,744.5 L104.8,744.5 L105.4,744.5 L106.0,744.5 L106.6,744.5 L107.3,744.5 L107.9,744.5 L108.5,744.5 L109.1,744.5 L109.7,744.5 L110.4,744.5 L111.0,744.5 L111.6,744.5 L112.2,744.5 L112.8,744.5 L113.5,744.5 L114.1,744.5 L114.7,744.5 L115.3,744.5 L115.9,744.5 L116.6,744.5 L117.2,744.5 L117.8,744.5 L118.4,744.5 L119.0,744.5 L119.7,744.5 L120.3,744.5 L120.9,744.5 L121.5,744.5 L122.1,744.5 L122.8,744.5 L123.4,744.5 L124.0,744.5 L124.6,744.5 L125.2,744.5 L125.9,744.5 L126.5,744.5 L127.1,744.5 L127.7,744.5 L128.3,744.5 L129.0,744.5 L129.6,744.5 L130.2,744.5 L130.8,744.5 L131.4,744.5 L132.1,744.5 L132.7,744.5 L133.3,744.5 L133.9,744.5 L134.5,744.5 L135.2,744.5 L135.8,744.5 L136.4,744.5 L137.0,744.5 L137.6,744.5 L138.3,744.5 L138.9,744.5 L139.5,744.5 L140.1,744.5 L140.7,744.5 L141.4,744.5 L142.0,744.5 L142.6,744.5 L143.2,744.5 L143.8,744.5 L144.5,744.5 L145.1,744.5 L145.7,744.5 L146.3,744.5 L146.9,744.5 L147.6,744.4 L148.2,744.4 L148.8,744.4 L149.4,744.4 L150.0,744.4 L150.7,744.4 L151.3,744.3 L151.9,744.3 L152.5,744.3 L153.1,744.3 L153.8,744.2 L154.4,744.2 L155.0,744.1 L155.6,744.1 L156.3,744.0 L156.9,743.9 L157.5,743.8 L158.1,743.7 L158.7,743.6 L159.4,743.5 L160.0,743.4 L160.6,743.2 L161.2,743.1 L161.8,742.9 L162.5,742.7 L163.1,742.5 L163.7,742.3 L164.3,742.0 L164.9,741.8 L165.6,741.5 L166.2,741.2 L166.8,740.8 L167.4,740.5 L168.0,740.1 L168.7,739.7 L169.3,739.2 L169.9,738.8 L170.5,738.3 L171.1,737.8 L171.8,737.2 L172.4,736.7 L173.0,736.1 L173.6,735.5 L174.2,734.9 L174.9,734.3 L175.5,733.6 L176.1,733.0 L176.7,732.3 L177.3,731.6 L178.0,730.9 L178.6,730.3 L179.2,729.6 L179.8,728.9 L180.4,728.3 L181.1,727.6 L181.7,727.0 L182.3,726.4 L182.9,725.9 L183.5,725.3 L184.2,724.8 L184.8,724.3 L185.4,723.9 L186.0,723.5 L186.6,723.2 L187.3,722.9 L187.9,722.6 L188.5,722.4 L189.1,722.3 L189.7,722.2 L190.4,722.2 L191.0,722.2 L191.6,722.3 L192.2,722.4 L192.8,722.6 L193.5,722.8 L194.1,723.1 L194.7,723.3 L195.3,723.7 L195.9,724.1 L196.6,724.5 L197.2,724.9 L197.8,725.4 L198.4,725.9 L199.0,726.4 L199.7,727.0 L200.3,727.5 L200.9,728.1 L201.5,728.7 L202.1,729.3 L202.8,729.9 L203.4,730.5 L204.0,731.1 L204.6,731.7 L205.2,732.3 L205.9,732.9 L206.5,733.5 L207.1,734.1 L207.7,734.6 L208.3,735.1 L209.0,735.6 L209.6,736.1 L210.2,736.6 L210.8,737.1 L211.4,737.5 L212.1,737.9 L212.7,738.3 L213.3,738.6 L213.9,738.9 L214.5,739.3 L215.2,739.5 L215.8,739.8 L216.4,740.0 L217.0,740.3 L217.6,740.4 L218.3,740.6 L218.9,740.8 L219.5,740.9 L220.1,741.0 L220.7,741.1 L221.4,741.2 L222.0,741.3 L222.6,741.3 L223.2,741.3 L223.8,741.3 L224.5,741.3 L225.1,741.3 L225.7,741.3 L226.3,741.3 L226.9,741.2 L227.6,741.1 L228.2,741.1 L228.8,741.0 L229.4,740.9 L230.0,740.8 L230.7,740.7 L231.3,740.6 L231.9,740.4 L232.5,740.3 L233.1,740.1 L233.8,740.0 L234.4,739.8 L235.0,739.6 L235.6,739.4 L236.2,739.2 L236.9,739.0 L237.5,738.8 L238.1,738.6 L238.7,738.3 L239.3,738.1 L240.0,737.8 L240.6,737.6 L241.2,737.3 L241.8,737.0 L242.4,736.7 L243.1,736.4 L243.7,736.0 L244.3,735.7 L244.9,735.3 L245.5,735.0 L246.2,734.6 L246.8,734.2 L247.4,733.7 L247.4,736.2 L246.8,737.0 L246.2,737.8 L245.5,738.5 L244.9,739.2 L244.3,739.8 L243.7,740.3 L243.1,740.8 L242.4,741.3 L241.8,741.7 L241.2,742.1 L240.6,742.5 L240.0,742.9 L239.3,743.2 L238.7,743.5 L238.1,743.7 L237.5,744.0 L236.9,744.2 L236.2,744.4 L235.6,744.6 L235.0,744.8 L234.4,745.0 L233.8,745.1 L233.1,745.3 L232.5,745.4 L231.9,745.5 L231.3,745.6 L230.7,745.7 L230.0,745.8 L229.4,745.9 L228.8,746.0 L228.2,746.1 L227.6,746.1 L226.9,746.2 L226.3,746.3 L225.7,746.3 L225.1,746.4 L224.5,746.4 L223.8,746.5 L223.2,746.5 L222.6,746.5 L222.0,746.6 L221.4,746.6 L220.7,746.6 L220.1,746.7 L219.5,746.7 L218.9,746.7 L218.3,746.7 L217.6,746.7 L217.0,746.8 L216.4,746.8 L215.8,746.8 L215.2,746.8 L214.5,746.8 L213.9,746.8 L213.3,746.8 L212.7,746.8 L212.1,746.9 L211.4,746.9 L210.8,746.9 L210.2,746.9 L209.6,746.9 L209.0,746.9 L208.3,746.9 L207.7,746.9 L207.1,746.9 L206.5,746.9 L205.9,746.9 L205.2,746.9 L204.6,746.9 L204.0,746.9 L203.4,746.9 L202.8,746.9 L202.1,746.9 L201.5,746.9 L200.9,746.9 L200.3,746.9 L199.7,746.9 L199.0,746.9 L198.4,746.9 L197.8,746.9 L197.2,746.9 L196.6,746.9 L195.9,746.9 L195.3,746.9 L194.7,746.9 L194.1,746.9 L193.5,746.9 L192.8,746.9 L192.2,746.9 L191.6,746.8 L191.0,746.8 L190.4,746.8 L189.7,746.8 L189.1,746.7 L188.5,746.7 L187.9,746.6 L187.3,746.6 L186.6,746.5 L186.0,746.4 L185.4,746.4 L184.8,746.3 L184.2,746.1 L183.5,746.0 L182.9,745.9 L182.3,745.7 L181.7,745.5 L181.1,745.3 L180.4,745.1 L179.8,744.9 L179.2,744.6 L178.6,744.3 L178.0,744.0 L177.3,743.6 L176.7,743.2 L176.1,742.8 L175.5,742.4 L174.9,741.9 L174.2,741.3 L173.6,740.8 L173.0,740.2 L172.4,739.5 L171.8,738.9 L171.1,738.1 L170.5,737.4 L169.9,736.6 L169.3,735.8 L168.7,734.9 L168.0,734.1 L167.4,733.2 L166.8,732.3 L166.2,731.3 L165.6,730.4 L164.9,729.4 L164.3,728.5 L163.7,727.5 L163.1,726.6 L162.5,725.7 L161.8,724.8 L161.2,723.9 L160.6,723.0 L160.0,722.2 L159.4,721.5 L158.7,720.8 L158.1,720.1 L157.5,719.6 L156.9,719.0 L156.3,718.6 L155.6,718.2 L155.0,717.9 L154.4,717.7 L153.8,717.6 L153.1,717.6 L152.5,717.6 L151.9,717.7 L151.3,717.9 L150.7,718.2 L150.0,718.6 L149.4,719.1 L148.8,719.6 L148.2,720.1 L147.6,720.8 L146.9,721.5 L146.3,722.3 L145.7,723.1 L145.1,723.9 L144.5,724.8 L143.8,725.7 L143.2,726.6 L142.6,727.5 L142.0,728.5 L141.4,729.4 L140.7,730.4 L140.1,731.3 L139.5,732.3 L138.9,733.2 L138.3,734.1 L137.6,735.0 L137.0,735.8 L136.4,736.6 L135.8,737.4 L135.2,738.2 L134.5,738.9 L133.9,739.5 L133.3,740.2 L132.7,740.8 L132.1,741.4 L131.4,741.9 L130.8,742.4 L130.2,742.8 L129.6,743.3 L129.0,743.6 L128.3,744.0 L127.7,744.3 L127.1,744.6 L126.5,744.9 L125.9,745.1 L125.2,745.4 L124.6,745.6 L124.0,745.7 L123.4,745.9 L122.8,746.0 L122.1,746.2 L121.5,746.3 L120.9,746.4 L120.3,746.4 L119.7,746.5 L119.0,746.6 L118.4,746.6 L117.8,746.7 L117.2,746.7 L116.6,746.8 L115.9,746.8 L115.3,746.8 L114.7,746.9 L114.1,746.9 L113.5,746.9 L112.8,746.9 L112.2,746.9 L111.6,746.9 L111.0,746.9 L110.4,746.9 L109.7,746.9 L109.1,746.9 L108.5,747.0 L107.9,747.0 L107.3,747.0 L106.6,747.0 L106.0,747.0 L105.4,747.0 L104.8,747.0 L104.2,747.0 L103.5,747.0 L102.9,747.0 L102.3,747.0 L101.7,747.0 L101.1,747.0 L100.4,747.0 L99.8,747.0 L99.2,747.0 L98.6,747.0 L98.0,747.0 L97.3,747.0 L96.7,747.0 L96.1,747.0 L95.5,747.0 L94.9,747.0 L94.2,747.0 L93.6,747.0 L93.0,747.0 L92.4,747.0 L91.8,747.0 L91.1,747.0 L90.5,747.0 L89.9,747.0 L89.3,747.0 L88.7,747.0 L88.0,747.0 L87.4,747.0 L86.8,747.0 L86.2,747.0 L85.6,747.0 L84.9,747.0 L84.3,747.0 L83.7,747.0 L83.1,747.0 L82.5,747.0 L81.8,747.0 L81.2,747.0 L80.6,747.0 L80.0,747.0 L79.4,747.0 L78.7,747.0 L78.1,747.0 L77.5,747.0 L76.9,747.0 L76.3,747.0 L75.6,747.0 L75.0,747.0 L74.4,747.0 L73.8,747.0 L73.2,747.0 L72.5,747.0 L71.9,747.0 L71.3,747.0 L70.7,747.0 L70.1,747.0 L69.4,747.0 L68.8,747.0 L68.2,747.0 L67.6,747.0 L67.0,747.0 L66.3,747.0 L65.7,747.0 L65.1,747.0 L64.5,747.0 L63.9,747.0 L63.2,747.0 L62.6,747.0 L62.0,747.0Z" stroke="#111" stroke-width="1.7" fill="none" stroke-linejoin="round" stroke-linecap="round"/>
<path d="M62.0,745.5 L62.6,745.5 L63.2,745.5 L63.9,745.5 L64.5,745.5 L65.1,745.5 L65.7,745.5 L66.3,745.5 L67.0,745.5 L67.6,745.5 L68.2,745.5 L68.8,745.5 L69.4,745.5 L70.1,745.5 L70.7,745.5 L71.3,745.5 L71.9,745.5 L72.5,745.5 L73.2,745.5 L73.8,745.5 L74.4,745.5 L75.0,745.5 L75.6,745.5 L76.3,745.5 L76.9,745.5 L77.5,745.5 L78.1,745.5 L78.7,745.5 L79.4,745.5 L80.0,745.5 L80.6,745.5 L81.2,745.5 L81.8,745.5 L82.5,745.5 L83.1,745.5 L83.7,745.5 L84.3,745.5 L84.9,745.5 L85.6,745.5 L86.2,745.5 L86.8,745.5 L87.4,745.5 L88.0,745.5 L88.7,745.5 L89.3,745.5 L89.9,745.5 L90.5,745.5 L91.1,745.5 L91.8,745.5 L92.4,745.5 L93.0,745.5 L93.6,745.5 L94.2,745.5 L94.9,745.5 L95.5,745.5 L96.1,745.5 L96.7,745.5 L97.3,745.5 L98.0,745.5 L98.6,745.5 L99.2,745.5 L99.8,745.5 L100.4,745.5 L101.1,745.5 L101.7,745.5 L102.3,745.5 L102.9,745.5 L103.5,745.5 L104.2,745.5 L104.8,745.5 L105.4,745.5 L106.0,745.5 L106.6,745.5 L107.3,745.5 L107.9,745.5 L108.5,745.5 L109.1,745.5 L109.7,745.5 L110.4,745.5 L111.0,745.5 L111.6,745.5 L112.2,745.5 L112.8,745.5 L113.5,745.5 L114.1,745.5 L114.7,745.5 L115.3,745.5 L115.9,745.5 L116.6,745.5 L117.2,745.5 L117.8,745.5 L118.4,745.5 L119.0,745.5 L119.7,745.5 L120.3,745.5 L120.9,745.5 L121.5,745.5 L122.1,745.5 L122.8,745.5 L123.4,745.5 L124.0,745.5 L124.6,745.5 L125.2,745.5 L125.9,745.5 L126.5,745.5 L127.1,745.5 L127.7,745.5 L128.3,745.5 L129.0,745.5 L129.6,745.5 L130.2,745.5 L130.8,745.4 L131.4,745.4 L132.1,745.4 L132.7,745.4 L133.3,745.4 L133.9,745.4 L134.5,745.4 L135.2,745.4 L135.8,745.4 L136.4,745.4 L137.0,745.4 L137.6,745.4 L138.3,745.4 L138.9,745.4 L139.5,745.4 L140.1,745.4 L140.7,745.4 L141.4,745.4 L142.0,745.4 L142.6,745.4 L143.2,745.4 L143.8,745.4 L144.5,745.4 L145.1,745.4 L145.7,745.4 L146.3,745.4 L146.9,745.4 L147.6,745.4 L148.2,745.3 L148.8,745.3 L149.4,745.3 L150.0,745.3 L150.7,745.3 L151.3,745.3 L151.9,745.2 L152.5,745.2 L153.1,745.2 L153.8,745.1 L154.4,745.1 L155.0,745.1 L155.6,745.0 L156.3,744.9 L156.9,744.9 L157.5,744.8 L158.1,744.7 L158.7,744.6 L159.4,744.5 L160.0,744.4 L160.6,744.2 L161.2,744.1 L161.8,743.9 L162.5,743.7 L163.1,743.5 L163.7,743.3 L164.3,743.0 L164.9,742.8 L165.6,742.5 L166.2,742.2 L166.8,741.8 L167.4,741.4 L168.0,741.0 L168.7,740.6 L169.3,740.1 L169.9,739.6 L170.5,739.0 L171.1,738.4 L171.8,737.8 L172.4,737.2 L173.0,736.5 L173.6,735.8 L174.2,735.0 L174.9,734.3 L175.5,733.5 L176.1,732.6 L176.7,731.8 L177.3,730.9 L178.0,730.0 L178.6,729.1 L179.2,728.1 L179.8,727.2 L180.4,726.3 L181.1,725.3 L181.7,724.4 L182.3,723.5 L182.9,722.6 L183.5,721.7 L184.2,720.9 L184.8,720.1 L185.4,719.3 L186.0,718.5 L186.6,717.8 L187.3,717.2 L187.9,716.6 L188.5,716.1 L189.1,715.6 L189.7,715.2 L190.4,714.9 L191.0,714.7 L191.6,714.5 L192.2,714.4 L192.8,714.4 L193.5,714.4 L194.1,714.5 L194.7,714.7 L195.3,715.0 L195.9,715.3 L196.6,715.6 L197.2,716.0 L197.8,716.5 L198.4,717.1 L199.0,717.6 L199.7,718.3 L200.3,718.9 L200.9,719.6 L201.5,720.3 L202.1,721.1 L202.8,721.9 L203.4,722.7 L204.0,723.5 L204.6,724.3 L205.2,725.2 L205.9,726.0 L206.5,726.8 L207.1,727.7 L207.7,728.5 L208.3,729.3 L209.0,730.1 L209.6,730.9 L210.2,731.6 L210.8,732.3 L211.4,733.0 L212.1,733.7 L212.7,734.4 L213.3,735.0 L213.9,735.6 L214.5,736.1 L215.2,736.6 L215.8,737.1 L216.4,737.6 L217.0,738.0 L217.6,738.4 L218.3,738.8 L218.9,739.1 L219.5,739.4 L220.1,739.7 L220.7,740.0 L221.4,740.2 L222.0,740.4 L222.6,740.6 L223.2,740.7 L223.8,740.9 L224.5,741.0 L225.1,741.1 L225.7,741.2 L226.3,741.2 L226.9,741.3 L227.6,741.3 L228.2,741.3 L228.8,741.3 L229.4,741.3 L230.0,741.3 L230.7,741.2 L231.3,741.2 L231.9,741.1 L232.5,741.1 L233.1,741.0 L233.8,740.9 L234.4,740.8 L235.0,740.7 L235.6,740.6 L236.2,740.5 L236.9,740.4 L237.5,740.3 L238.1,740.2 L238.7,740.0 L239.3,739.9 L240.0,739.8 L240.6,739.6 L241.2,739.5 L241.8,739.3 L242.4,739.1 L243.1,739.0 L243.7,738.8 L244.3,738.6 L244.9,738.4 L245.5,738.3 L246.2,738.1 L246.8,737.9 L247.4,737.7 L247.4,739.6 L246.8,740.0 L246.2,740.4 L245.5,740.7 L244.9,741.0 L244.3,741.4 L243.7,741.7 L243.1,741.9 L242.4,742.2 L241.8,742.5 L241.2,742.7 L240.6,742.9 L240.0,743.2 L239.3,743.4 L238.7,743.6 L238.1,743.8 L237.5,743.9 L236.9,744.1 L236.2,744.3 L235.6,744.4 L235.0,744.6 L234.4,744.7 L233.8,744.9 L233.1,745.0 L232.5,745.1 L231.9,745.2 L231.3,745.3 L230.7,745.4 L230.0,745.5 L229.4,745.6 L228.8,745.7 L228.2,745.8 L227.6,745.9 L226.9,746.0 L226.3,746.0 L225.7,746.1 L225.1,746.2 L224.5,746.2 L223.8,746.3 L223.2,746.4 L222.6,746.4 L222.0,746.5 L221.4,746.5 L220.7,746.6 L220.1,746.6 L219.5,746.6 L218.9,746.7 L218.3,746.7 L217.6,746.8 L217.0,746.8 L216.4,746.8 L215.8,746.9 L215.2,746.9 L214.5,746.9 L213.9,746.9 L213.3,747.0 L212.7,747.0 L212.1,747.0 L211.4,747.0 L210.8,747.1 L210.2,747.1 L209.6,747.1 L209.0,747.1 L208.3,747.1 L207.7,747.1 L207.1,747.2 L206.5,747.2 L205.9,747.2 L205.2,747.2 L204.6,747.2 L204.0,747.2 L203.4,747.2 L202.8,747.2 L202.1,747.2 L201.5,747.3 L200.9,747.3 L200.3,747.3 L199.7,747.3 L199.0,747.3 L198.4,747.3 L197.8,747.3 L197.2,747.3 L196.6,747.2 L195.9,747.2 L195.3,747.2 L194.7,747.2 L194.1,747.2 L193.5,747.1 L192.8,747.1 L192.2,747.0 L191.6,746.9 L191.0,746.9 L190.4,746.8 L189.7,746.6 L189.1,746.5 L188.5,746.4 L187.9,746.2 L187.3,746.0 L186.6,745.7 L186.0,745.5 L185.4,745.2 L184.8,744.9 L184.2,744.5 L183.5,744.1 L182.9,743.7 L182.3,743.2 L181.7,742.6 L181.1,742.1 L180.4,741.5 L179.8,740.8 L179.2,740.2 L178.6,739.4 L178.0,738.7 L177.3,737.9 L176.7,737.1 L176.1,736.3 L175.5,735.5 L174.9,734.6 L174.2,733.8 L173.6,733.0 L173.0,732.2 L172.4,731.4 L171.8,730.7 L171.1,730.0 L170.5,729.3 L169.9,728.8 L169.3,728.2 L168.7,727.8 L168.0,727.4 L167.4,727.2 L166.8,727.0 L166.2,726.9 L165.6,726.9 L164.9,727.0 L164.3,727.1 L163.7,727.4 L163.1,727.8 L162.5,728.2 L161.8,728.7 L161.2,729.3 L160.6,729.9 L160.0,730.6 L159.4,731.3 L158.7,732.1 L158.1,732.9 L157.5,733.7 L156.9,734.5 L156.3,735.4 L155.6,736.2 L155.0,737.0 L154.4,737.8 L153.8,738.6 L153.1,739.4 L152.5,740.1 L151.9,740.8 L151.3,741.4 L150.7,742.0 L150.0,742.6 L149.4,743.1 L148.8,743.6 L148.2,744.1 L147.6,744.5 L146.9,744.9 L146.3,745.2 L145.7,745.5 L145.1,745.8 L144.5,746.0 L143.8,746.2 L143.2,746.4 L142.6,746.6 L142.0,746.7 L141.4,746.8 L140.7,746.9 L140.1,747.0 L139.5,747.1 L138.9,747.2 L138.3,747.2 L137.6,747.3 L137.0,747.3 L136.4,747.3 L135.8,747.4 L135.2,747.4 L134.5,747.4 L133.9,747.4 L133.3,747.4 L132.7,747.4 L132.1,747.4 L131.4,747.4 L130.8,747.4 L130.2,747.4 L129.6,747.4 L129.0,747.5 L128.3,747.5 L127.7,747.5 L127.1,747.5 L126.5,747.5 L125.9,747.5 L125.2,747.5 L124.6,747.5 L124.0,747.5 L123.4,747.5 L122.8,747.5 L122.1,747.5 L121.5,747.5 L120.9,747.5 L120.3,747.5 L119.7,747.5 L119.0,747.5 L118.4,747.5 L117.8,747.5 L117.2,747.5 L116.6,747.5 L115.9,747.5 L115.3,747.5 L114.7,747.5 L114.1,747.5 L113.5,747.5 L112.8,747.5 L112.2,747.5 L111.6,747.5 L111.0,747.5 L110.4,747.5 L109.7,747.5 L109.1,747.5 L108.5,747.5 L107.9,747.5 L107.3,747.5 L106.6,747.5 L106.0,747.5 L105.4,747.5 L104.8,747.5 L104.2,747.5 L103.5,747.5 L102.9,747.5 L102.3,747.5 L101.7,747.5 L101.1,747.5 L100.4,747.5 L99.8,747.5 L99.2,747.5 L98.6,747.5 L98.0,747.5 L97.3,747.5 L96.7,747.5 L96.1,747.5 L95.5,747.5 L94.9,747.5 L94.2,747.5 L93.6,747.5 L93.0,747.5 L92.4,747.5 L91.8,747.5 L91.1,747.5 L90.5,747.5 L89.9,747.5 L89.3,747.5 L88.7,747.5 L88.0,747.5 L87.4,747.5 L86.8,747.5 L86.2,747.5 L85.6,747.5 L84.9,747.5 L84.3,747.5 L83.7,747.5 L83.1,747.5 L82.5,747.5 L81.8,747.5 L81.2,747.5 L80.6,747.5 L80.0,747.5 L79.4,747.5 L78.7,747.5 L78.1,747.5 L77.5,747.5 L76.9,747.5 L76.3,747.5 L75.6,747.5 L75.0,747.5 L74.4,747.5 L73.8,747.5 L73.2,747.5 L72.5,747.5 L71.9,747.5 L71.3,747.5 L70.7,747.5 L70.1,747.5 L69.4,747.5 L68.8,747.5 L68.2,747.5 L67.6,747.5 L67.0,747.5 L66.3,747.5 L65.7,747.5 L65.1,747.5 L64.5,747.5 L63.9,747.5 L63.2,747.5 L62.6,747.5 L62.0,747.5Z" stroke="#6ab2cf" stroke-width="1.7" fill="none" stroke-linejoin="round" stroke-linecap="round"/>
<path d="M62.0,745.0 L62.6,745.0 L63.2,745.0 L63.9,745.0 L64.5,745.0 L65.1,745.0 L65.7,745.0 L66.3,745.0 L67.0,745.0 L67.6,745.0 L68.2,745.0 L68.8,745.0 L69.4,745.0 L70.1,745.0 L70.7,745.0 L71.3,745.0 L71.9,745.0 L72.5,745.0 L73.2,745.0 L73.8,745.0 L74.4,745.0 L75.0,745.0 L75.6,745.0 L76.3,745.0 L76.9,745.0 L77.5,745.0 L78.1,745.0 L78.7,745.0 L79.4,745.0 L80.0,745.0 L80.6,745.0 L81.2,745.0 L81.8,745.0 L82.5,745.0 L83.1,745.0 L83.7,745.0 L84.3,745.0 L84.9,745.0 L85.6,745.0 L86.2,745.0 L86.8,745.0 L87.4,745.0 L88.0,745.0 L88.7,745.0 L89.3,745.0 L89.9,745.0 L90.5,745.0 L91.1,745.0 L91.8,745.0 L92.4,745.0 L93.0,745.0 L93.6,745.0 L94.2,745.0 L94.9,745.0 L95.5,745.0 L96.1,745.0 L96.7,745.0 L97.3,745.0 L98.0,745.0 L98.6,745.0 L99.2,745.0 L99.8,745.0 L100.4,745.0 L101.1,745.0 L101.7,745.0 L102.3,745.0 L102.9,745.0 L103.5,745.0 L104.2,745.0 L104.8,745.0 L105.4,745.0 L106.0,745.0 L106.6,745.0 L107.3,745.0 L107.9,745.0 L108.5,745.0 L109.1,745.0 L109.7,745.0 L110.4,745.0 L111.0,745.0 L111.6,745.0 L112.2,745.0 L112.8,745.0 L113.5,745.0 L114.1,745.0 L114.7,745.0 L115.3,745.0 L115.9,745.0 L116.6,745.0 L117.2,745.0 L117.8,745.0 L118.4,745.0 L119.0,745.0 L119.7,745.0 L120.3,745.0 L120.9,745.0 L121.5,745.0 L122.1,745.0 L122.8,745.0 L123.4,745.0 L124.0,745.0 L124.6,745.0 L125.2,745.0 L125.9,745.0 L126.5,745.0 L127.1,745.0 L127.7,745.0 L128.3,745.0 L129.0,745.0 L129.6,745.0 L130.2,745.0 L130.8,745.0 L131.4,745.0 L132.1,745.0 L132.7,745.0 L133.3,745.0 L133.9,745.0 L134.5,745.0 L135.2,745.0 L135.8,745.0 L136.4,745.0 L137.0,745.0 L137.6,745.0 L138.3,745.0 L138.9,745.0 L139.5,745.0 L140.1,745.0 L140.7,745.0 L141.4,745.0 L142.0,745.0 L142.6,745.0 L143.2,745.0 L143.8,745.0 L144.5,745.0 L145.1,745.0 L145.7,745.0 L146.3,745.0 L146.9,745.0 L147.6,745.0 L148.2,745.0 L148.8,745.0 L149.4,745.0 L150.0,745.0 L150.7,744.9 L151.3,744.9 L151.9,744.9 L152.5,744.9 L153.1,744.9 L153.8,744.9 L154.4,744.8 L155.0,744.8 L155.6,744.8 L156.3,744.7 L156.9,744.6 L157.5,744.6 L158.1,744.5 L158.7,744.4 L159.4,744.3 L160.0,744.2 L160.6,744.1 L161.2,743.9 L161.8,743.7 L162.5,743.5 L163.1,743.3 L163.7,743.0 L164.3,742.7 L164.9,742.4 L165.6,742.0 L166.2,741.6 L166.8,741.1 L167.4,740.6 L168.0,740.1 L168.7,739.4 L169.3,738.7 L169.9,738.0 L170.5,737.2 L171.1,736.3 L171.8,735.3 L172.4,734.3 L173.0,733.1 L173.6,731.9 L174.2,730.6 L174.9,729.3 L175.5,727.8 L176.1,726.3 L176.7,724.7 L177.3,723.0 L178.0,721.3 L178.6,719.4 L179.2,717.6 L179.8,715.6 L180.4,713.7 L181.1,711.6 L181.7,709.6 L182.3,707.5 L182.9,705.5 L183.5,703.4 L184.2,701.3 L184.8,699.3 L185.4,697.3 L186.0,695.4 L186.6,693.6 L187.3,691.8 L187.9,690.1 L188.5,688.6 L189.1,687.1 L189.7,685.8 L190.4,684.7 L191.0,683.6 L191.6,682.8 L192.2,682.1 L192.8,681.6 L193.5,681.3 L194.1,681.1 L194.7,681.1 L195.3,681.3 L195.9,681.6 L196.6,682.1 L197.2,682.7 L197.8,683.5 L198.4,684.4 L199.0,685.4 L199.7,686.5 L200.3,687.8 L200.9,689.1 L201.5,690.6 L202.1,692.1 L202.8,693.7 L203.4,695.4 L204.0,697.1 L204.6,698.9 L205.2,700.7 L205.9,702.6 L206.5,704.4 L207.1,706.3 L207.7,708.1 L208.3,710.0 L209.0,711.8 L209.6,713.6 L210.2,715.4 L210.8,717.1 L211.4,718.7 L212.1,720.4 L212.7,721.9 L213.3,723.4 L213.9,724.8 L214.5,726.2 L215.2,727.5 L215.8,728.7 L216.4,729.9 L217.0,730.9 L217.6,732.0 L218.3,732.9 L218.9,733.8 L219.5,734.6 L220.1,735.3 L220.7,736.0 L221.4,736.6 L222.0,737.1 L222.6,737.6 L223.2,738.1 L223.8,738.4 L224.5,738.8 L225.1,739.1 L225.7,739.3 L226.3,739.5 L226.9,739.6 L227.6,739.8 L228.2,739.8 L228.8,739.9 L229.4,739.9 L230.0,739.9 L230.7,739.8 L231.3,739.7 L231.9,739.6 L232.5,739.5 L233.1,739.3 L233.8,739.2 L234.4,738.9 L235.0,738.7 L235.6,738.5 L236.2,738.2 L236.9,737.9 L237.5,737.6 L238.1,737.2 L238.7,736.9 L239.3,736.5 L240.0,736.1 L240.6,735.6 L241.2,735.2 L241.8,734.7 L242.4,734.1 L243.1,733.6 L243.7,733.0 L244.3,732.4 L244.9,731.8 L245.5,731.1 L246.2,730.4 L246.8,729.6 L247.4,728.8 L247.4,730.8 L246.8,732.0 L246.2,733.2 L245.5,734.3 L244.9,735.2 L244.3,736.1 L243.7,737.0 L243.1,737.8 L242.4,738.5 L241.8,739.1 L241.2,739.7 L240.6,740.3 L240.0,740.8 L239.3,741.3 L238.7,741.7 L238.1,742.1 L237.5,742.5 L236.9,742.8 L236.2,743.2 L235.6,743.5 L235.0,743.7 L234.4,744.0 L233.8,744.2 L233.1,744.4 L232.5,744.6 L231.9,744.8 L231.3,745.0 L230.7,745.1 L230.0,745.3 L229.4,745.4 L228.8,745.5 L228.2,745.6 L227.6,745.7 L226.9,745.8 L226.3,745.9 L225.7,746.0 L225.1,746.1 L224.5,746.1 L223.8,746.2 L223.2,746.3 L222.6,746.3 L222.0,746.4 L221.4,746.4 L220.7,746.5 L220.1,746.5 L219.5,746.5 L218.9,746.6 L218.3,746.6 L217.6,746.6 L217.0,746.7 L216.4,746.7 L215.8,746.7 L215.2,746.7 L214.5,746.7 L213.9,746.8 L213.3,746.8 L212.7,746.8 L212.1,746.8 L211.4,746.8 L210.8,746.8 L210.2,746.8 L209.6,746.8 L209.0,746.9 L208.3,746.9 L207.7,746.9 L207.1,746.9 L206.5,746.9 L205.9,746.9 L205.2,746.9 L204.6,746.9 L204.0,746.9 L203.4,746.9 L202.8,746.9 L202.1,746.9 L201.5,746.9 L200.9,746.9 L200.3,746.9 L199.7,746.9 L199.0,746.9 L198.4,746.8 L197.8,746.8 L197.2,746.8 L196.6,746.7 L195.9,746.7 L195.3,746.6 L194.7,746.5 L194.1,746.4 L193.5,746.3 L192.8,746.1 L192.2,746.0 L191.6,745.7 L191.0,745.5 L190.4,745.2 L189.7,744.8 L189.1,744.4 L188.5,743.9 L187.9,743.3 L187.3,742.6 L186.6,741.9 L186.0,741.1 L185.4,740.1 L184.8,739.1 L184.2,737.9 L183.5,736.6 L182.9,735.2 L182.3,733.7 L181.7,732.1 L181.1,730.3 L180.4,728.5 L179.8,726.5 L179.2,724.5 L178.6,722.4 L178.0,720.2 L177.3,718.0 L176.7,715.8 L176.1,713.6 L175.5,711.4 L174.9,709.3 L174.2,707.3 L173.6,705.4 L173.0,703.6 L172.4,702.0 L171.8,700.6 L171.1,699.4 L170.5,698.4 L169.9,697.7 L169.3,697.2 L168.7,697.0 L168.0,697.0 L167.4,697.3 L166.8,697.8 L166.2,698.5 L165.6,699.4 L164.9,700.5 L164.3,701.7 L163.7,703.2 L163.1,704.7 L162.5,706.4 L161.8,708.2 L161.2,710.1 L160.6,712.1 L160.0,714.1 L159.4,716.1 L158.7,718.1 L158.1,720.1 L157.5,722.1 L156.9,724.1 L156.3,725.9 L155.6,727.8 L155.0,729.5 L154.4,731.1 L153.8,732.7 L153.1,734.2 L152.5,735.5 L151.9,736.8 L151.3,738.0 L150.7,739.0 L150.0,740.0 L149.4,740.9 L148.8,741.7 L148.2,742.4 L147.6,743.0 L146.9,743.6 L146.3,744.1 L145.7,744.5 L145.1,744.9 L144.5,745.2 L143.8,745.5 L143.2,745.7 L142.6,745.9 L142.0,746.1 L141.4,746.3 L140.7,746.4 L140.1,746.5 L139.5,746.6 L138.9,746.7 L138.3,746.7 L137.6,746.8 L137.0,746.8 L136.4,746.8 L135.8,746.9 L135.2,746.9 L134.5,746.9 L133.9,746.9 L133.3,746.9 L132.7,746.9 L132.1,746.9 L131.4,747.0 L130.8,747.0 L130.2,747.0 L129.6,747.0 L129.0,747.0 L128.3,747.0 L127.7,747.0 L127.1,747.0 L126.5,747.0 L125.9,747.0 L125.2,747.0 L124.6,747.0 L124.0,747.0 L123.4,747.0 L122.8,747.0 L122.1,747.0 L121.5,747.0 L120.9,747.0 L120.3,747.0 L119.7,747.0 L119.0,747.0 L118.4,747.0 L117.8,747.0 L117.2,747.0 L116.6,747.0 L115.9,747.0 L115.3,747.0 L114.7,747.0 L114.1,747.0 L113.5,747.0 L112.8,747.0 L112.2,747.0 L111.6,747.0 L111.0,747.0 L110.4,747.0 L109.7,747.0 L109.1,747.0 L108.5,747.0 L107.9,747.0 L107.3,747.0 L106.6,747.0 L106.0,747.0 L105.4,747.0 L104.8,747.0 L104.2,747.0 L103.5,747.0 L102.9,747.0 L102.3,747.0 L101.7,747.0 L101.1,747.0 L100.4,747.0 L99.8,747.0 L99.2,747.0 L98.6,747.0 L98.0,747.0 L97.3,747.0 L96.7,747.0 L96.1,747.0 L95.5,747.0 L94.9,747.0 L94.2,747.0 L93.6,747.0 L93.0,747.0 L92.4,747.0 L91.8,747.0 L91.1,747.0 L90.5,747.0 L89.9,747.0 L89.3,747.0 L88.7,747.0 L88.0,747.0 L87.4,747.0 L86.8,747.0 L86.2,747.0 L85.6,747.0 L84.9,747.0 L84.3,747.0 L83.7,747.0 L83.1,747.0 L82.5,747.0 L81.8,747.0 L81.2,747.0 L80.6,747.0 L80.0,747.0 L79.4,747.0 L78.7,747.0 L78.1,747.0 L77.5,747.0 L76.9,747.0 L76.3,747.0 L75.6,747.0 L75.0,747.0 L74.4,747.0 L73.8,747.0 L73.2,747.0 L72.5,747.0 L71.9,747.0 L71.3,747.0 L70.7,747.0 L70.1,747.0 L69.4,747.0 L68.8,747.0 L68.2,747.0 L67.6,747.0 L67.0,747.0 L66.3,747.0 L65.7,747.0 L65.1,747.0 L64.5,747.0 L63.9,747.0 L63.2,747.0 L62.6,747.0 L62.0,747.0Z" stroke="#d65268" stroke-width="1.7" fill="none" stroke-linejoin="round" stroke-linecap="round"/>
<path d="M62.0,745.0 L62.6,745.0 L63.2,745.0 L63.9,745.0 L64.5,745.0 L65.1,745.0 L65.7,745.0 L66.3,745.0 L67.0,745.0 L67.6,745.0 L68.2,745.0 L68.8,745.0 L69.4,745.0 L70.1,745.0 L70.7,745.0 L71.3,745.0 L71.9,745.0 L72.5,745.0 L73.2,745.0 L73.8,745.0 L74.4,745.0 L75.0,745.0 L75.6,745.0 L76.3,744.9 L76.9,744.9 L77.5,744.9 L78.1,744.9 L78.7,744.9 L79.4,744.9 L80.0,744.9 L80.6,744.9 L81.2,744.9 L81.8,744.9 L82.5,744.9 L83.1,744.9 L83.7,744.9 L84.3,744.9 L84.9,744.9 L85.6,744.9 L86.2,744.9 L86.8,744.9 L87.4,744.9 L88.0,744.9 L88.7,744.9 L89.3,744.9 L89.9,744.9 L90.5,744.9 L91.1,744.9 L91.8,744.9 L92.4,744.9 L93.0,744.9 L93.6,744.9 L94.2,744.9 L94.9,744.9 L95.5,744.9 L96.1,744.9 L96.7,744.9 L97.3,744.9 L98.0,744.9 L98.6,744.9 L99.2,744.9 L99.8,744.9 L100.4,744.9 L101.1,744.9 L101.7,744.9 L102.3,744.9 L102.9,744.9 L103.5,744.8 L104.2,744.8 L104.8,744.8 L105.4,744.8 L106.0,744.8 L106.6,744.8 L107.3,744.8 L107.9,744.8 L108.5,744.8 L109.1,744.8 L109.7,744.8 L110.4,744.8 L111.0,744.8 L111.6,744.8 L112.2,744.8 L112.8,744.8 L113.5,744.8 L114.1,744.8 L114.7,744.8 L115.3,744.8 L115.9,744.8 L116.6,744.8 L117.2,744.7 L117.8,744.7 L118.4,744.7 L119.0,744.7 L119.7,744.7 L120.3,744.7 L120.9,744.7 L121.5,744.7 L122.1,744.7 L122.8,744.7 L123.4,744.7 L124.0,744.7 L124.6,744.7 L125.2,744.7 L125.9,744.6 L126.5,744.6 L127.1,744.6 L127.7,744.6 L128.3,744.6 L129.0,744.6 L129.6,744.6 L130.2,744.6 L130.8,744.6 L131.4,744.6 L132.1,744.5 L132.7,744.5 L133.3,744.5 L133.9,744.5 L134.5,744.5 L135.2,744.5 L135.8,744.4 L136.4,744.4 L137.0,744.4 L137.6,744.4 L138.3,744.3 L138.9,744.3 L139.5,744.3 L140.1,744.3 L140.7,744.2 L141.4,744.2 L142.0,744.1 L142.6,744.1 L143.2,744.0 L143.8,744.0 L144.5,743.9 L145.1,743.8 L145.7,743.7 L146.3,743.6 L146.9,743.5 L147.6,743.4 L148.2,743.3 L148.8,743.1 L149.4,743.0 L150.0,742.8 L150.7,742.6 L151.3,742.4 L151.9,742.2 L152.5,741.9 L153.1,741.7 L153.8,741.4 L154.4,741.0 L155.0,740.7 L155.6,740.3 L156.3,739.8 L156.9,739.4 L157.5,738.9 L158.1,738.3 L158.7,737.7 L159.4,737.1 L160.0,736.4 L160.6,735.6 L161.2,734.8 L161.8,733.9 L162.5,733.0 L163.1,731.9 L163.7,730.9 L164.3,729.7 L164.9,728.5 L165.6,727.2 L166.2,725.8 L166.8,724.3 L167.4,722.8 L168.0,721.2 L168.7,719.4 L169.3,717.6 L169.9,715.8 L170.5,713.8 L171.1,711.7 L171.8,709.6 L172.4,707.3 L173.0,705.0 L173.6,702.6 L174.2,700.1 L174.9,697.6 L175.5,695.0 L176.1,692.3 L176.7,689.5 L177.3,686.7 L178.0,683.9 L178.6,681.0 L179.2,678.1 L179.8,675.1 L180.4,672.1 L181.1,669.2 L181.7,666.2 L182.3,663.2 L182.9,660.3 L183.5,657.3 L184.2,654.5 L184.8,651.6 L185.4,648.9 L186.0,646.2 L186.6,643.6 L187.3,641.0 L187.9,638.6 L188.5,636.3 L189.1,634.1 L189.7,632.1 L190.4,630.2 L191.0,628.4 L191.6,626.8 L192.2,625.4 L192.8,624.1 L193.5,623.1 L194.1,622.2 L194.7,621.4 L195.3,620.9 L195.9,620.6 L196.6,620.4 L197.2,620.5 L197.8,620.8 L198.4,621.3 L199.0,622.1 L199.7,623.1 L200.3,624.3 L200.9,625.7 L201.5,627.3 L202.1,629.1 L202.8,631.1 L203.4,633.3 L204.0,635.6 L204.6,638.0 L205.2,640.6 L205.9,643.3 L206.5,646.1 L207.1,649.0 L207.7,651.9 L208.3,654.9 L209.0,657.9 L209.6,661.0 L210.2,664.1 L210.8,667.2 L211.4,670.2 L212.1,673.3 L212.7,676.3 L213.3,679.2 L213.9,682.1 L214.5,684.9 L215.2,687.7 L215.8,690.4 L216.4,692.9 L217.0,695.4 L217.6,697.8 L218.3,700.1 L218.9,702.3 L219.5,704.3 L220.1,706.3 L220.7,708.1 L221.4,709.8 L222.0,711.5 L222.6,713.0 L223.2,714.4 L223.8,715.7 L224.5,716.8 L225.1,717.9 L225.7,718.9 L226.3,719.8 L226.9,720.6 L227.6,721.3 L228.2,721.9 L228.8,722.5 L229.4,722.9 L230.0,723.3 L230.7,723.7 L231.3,723.9 L231.9,724.1 L232.5,724.2 L233.1,724.3 L233.8,724.3 L234.4,724.3 L235.0,724.3 L235.6,724.1 L236.2,724.0 L236.9,723.8 L237.5,723.6 L238.1,723.3 L238.7,723.0 L239.3,722.7 L240.0,722.4 L240.6,722.0 L241.2,721.6 L241.8,721.2 L242.4,720.7 L243.1,720.3 L243.7,719.8 L244.3,719.3 L244.9,718.7 L245.5,718.2 L246.2,717.6 L246.8,717.0 L247.4,716.4 L247.4,717.8 L246.8,720.0 L246.2,722.0 L245.5,723.9 L244.9,725.6 L244.3,727.2 L243.7,728.7 L243.1,730.1 L242.4,731.3 L241.8,732.4 L241.2,733.5 L240.6,734.4 L240.0,735.3 L239.3,736.1 L238.7,736.8 L238.1,737.5 L237.5,738.1 L236.9,738.7 L236.2,739.2 L235.6,739.6 L235.0,740.0 L234.4,740.4 L233.8,740.7 L233.1,741.1 L232.5,741.3 L231.9,741.6 L231.3,741.8 L230.7,742.0 L230.0,742.2 L229.4,742.3 L228.8,742.4 L228.2,742.5 L227.6,742.6 L226.9,742.7 L226.3,742.8 L225.7,742.8 L225.1,742.9 L224.5,742.9 L223.8,742.9 L223.2,742.9 L222.6,742.9 L222.0,742.9 L221.4,742.9 L220.7,742.9 L220.1,742.9 L219.5,742.9 L218.9,742.8 L218.3,742.8 L217.6,742.8 L217.0,742.7 L216.4,742.7 L215.8,742.7 L215.2,742.6 L214.5,742.6 L213.9,742.5 L213.3,742.5 L212.7,742.4 L212.1,742.4 L211.4,742.4 L210.8,742.3 L210.2,742.3 L209.6,742.2 L209.0,742.2 L208.3,742.2 L207.7,742.1 L207.1,742.1 L206.5,742.1 L205.9,742.1 L205.2,742.0 L204.6,742.0 L204.0,742.0 L203.4,742.0 L202.8,742.0 L202.1,742.0 L201.5,742.0 L200.9,742.0 L200.3,742.0 L199.7,742.0 L199.0,742.0 L198.4,742.0 L197.8,741.9 L197.2,741.9 L196.6,741.9 L195.9,741.9 L195.3,741.8 L194.7,741.8 L194.1,741.7 L193.5,741.6 L192.8,741.4 L192.2,741.2 L191.6,741.0 L191.0,740.7 L190.4,740.3 L189.7,739.8 L189.1,739.3 L188.5,738.6 L187.9,737.9 L187.3,737.0 L186.6,735.9 L186.0,734.7 L185.4,733.3 L184.8,731.8 L184.2,730.0 L183.5,728.1 L182.9,725.9 L182.3,723.5 L181.7,720.9 L181.1,718.1 L180.4,715.1 L179.8,711.9 L179.2,708.5 L178.6,705.0 L178.0,701.4 L177.3,697.7 L176.7,693.9 L176.1,690.1 L175.5,686.4 L174.9,682.8 L174.2,679.3 L173.6,675.9 L173.0,672.9 L172.4,670.1 L171.8,667.6 L171.1,665.5 L170.5,663.8 L169.9,662.6 L169.3,661.8 L168.7,661.5 L168.0,661.6 L167.4,662.2 L166.8,663.3 L166.2,664.8 L165.6,666.6 L164.9,668.9 L164.3,671.4 L163.7,674.3 L163.1,677.4 L162.5,680.8 L161.8,684.3 L161.2,688.0 L160.6,691.7 L160.0,695.5 L159.4,699.3 L158.7,703.0 L158.1,706.7 L157.5,710.3 L156.9,713.7 L156.3,717.0 L155.6,720.1 L155.0,723.0 L154.4,725.7 L153.8,728.3 L153.1,730.6 L152.5,732.7 L151.9,734.7 L151.3,736.4 L150.7,738.0 L150.0,739.3 L149.4,740.6 L148.8,741.7 L148.2,742.6 L147.6,743.4 L146.9,744.1 L146.3,744.7 L145.7,745.3 L145.1,745.7 L144.5,746.1 L143.8,746.4 L143.2,746.7 L142.6,746.9 L142.0,747.1 L141.4,747.2 L140.7,747.3 L140.1,747.4 L139.5,747.5 L138.9,747.6 L138.3,747.6 L137.6,747.7 L137.0,747.7 L136.4,747.8 L135.8,747.8 L135.2,747.8 L134.5,747.8 L133.9,747.8 L133.3,747.9 L132.7,747.9 L132.1,747.9 L131.4,747.9 L130.8,747.9 L130.2,747.9 L129.6,747.9 L129.0,747.9 L128.3,747.9 L127.7,747.9 L127.1,747.9 L126.5,747.9 L125.9,747.9 L125.2,747.9 L124.6,747.9 L124.0,747.9 L123.4,747.9 L122.8,747.9 L122.1,747.9 L121.5,747.9 L120.9,747.9 L120.3,747.9 L119.7,747.9 L119.0,747.9 L118.4,747.9 L117.8,747.9 L117.2,747.9 L116.6,747.9 L115.9,747.9 L115.3,747.9 L114.7,747.9 L114.1,747.9 L113.5,747.9 L112.8,747.9 L112.2,747.9 L111.6,747.9 L111.0,747.9 L110.4,747.9 L109.7,747.9 L109.1,747.9 L108.5,747.9 L107.9,747.9 L107.3,747.9 L106.6,747.9 L106.0,747.9 L105.4,747.9 L104.8,747.9 L104.2,747.9 L103.5,747.9 L102.9,747.9 L102.3,747.9 L101.7,747.9 L101.1,747.9 L100.4,747.9 L99.8,747.9 L99.2,747.9 L98.6,747.9 L98.0,747.9 L97.3,747.9 L96.7,747.9 L96.1,747.9 L95.5,747.9 L94.9,747.9 L94.2,747.9 L93.6,747.9 L93.0,747.9 L92.4,747.9 L91.8,747.9 L91.1,747.9 L90.5,747.9 L89.9,747.9 L89.3,747.9 L88.7,747.9 L88.0,747.9 L87.4,747.9 L86.8,747.9 L86.2,747.9 L85.6,747.9 L84.9,747.9 L84.3,747.9 L83.7,747.9 L83.1,747.9 L82.5,747.9 L81.8,747.9 L81.2,747.9 L80.6,747.9 L80.0,747.9 L79.4,747.9 L78.7,747.9 L78.1,747.9 L77.5,747.9 L76.9,747.9 L76.3,747.9 L75.6,747.9 L75.0,747.9 L74.4,747.9 L73.8,747.9 L73.2,747.9 L72.5,747.9 L71.9,747.9 L71.3,747.9 L70.7,747.9 L70.1,747.9 L69.4,747.9 L68.8,747.9 L68.2,747.9 L67.6,747.9 L67.0,747.9 L66.3,747.9 L65.7,747.9 L65.1,747.9 L64.5,747.9 L63.9,747.9 L63.2,747.9 L62.6,747.9 L62.0,747.9Z" stroke="#1a4e7e" stroke-width="1.7" fill="none" stroke-linejoin="round" stroke-linecap="round"/>
<rect x="46.4" y="598.6" width="216.1" height="159.0" fill="none" stroke="#222" stroke-width="1.6"/>
<line x1="43.4" y1="745.5" x2="46.4" y2="745.5" stroke="#222" stroke-width="1.2"/>
<text x="41.6" y="748.5" font-size="8.4" font-weight="bold" text-anchor="end" fill="#333" stroke="#333" stroke-width="0.3">0.0</text>
<line x1="44.9" y1="733.2" x2="46.4" y2="733.2" stroke="#222" stroke-width="1"/>
<line x1="43.4" y1="721.0" x2="46.4" y2="721.0" stroke="#222" stroke-width="1.2"/>
<text x="41.6" y="724.0" font-size="8.4" font-weight="bold" text-anchor="end" fill="#333" stroke="#333" stroke-width="0.3">0.5</text>
<line x1="44.9" y1="708.8" x2="46.4" y2="708.8" stroke="#222" stroke-width="1"/>
<line x1="43.4" y1="696.5" x2="46.4" y2="696.5" stroke="#222" stroke-width="1.2"/>
<text x="41.6" y="699.5" font-size="8.4" font-weight="bold" text-anchor="end" fill="#333" stroke="#333" stroke-width="0.3">1.0</text>
<line x1="44.9" y1="684.2" x2="46.4" y2="684.2" stroke="#222" stroke-width="1"/>
<line x1="43.4" y1="672.0" x2="46.4" y2="672.0" stroke="#222" stroke-width="1.2"/>
<text x="41.6" y="675.0" font-size="8.4" font-weight="bold" text-anchor="end" fill="#333" stroke="#333" stroke-width="0.3">1.5</text>
<line x1="44.9" y1="659.8" x2="46.4" y2="659.8" stroke="#222" stroke-width="1"/>
<line x1="43.4" y1="647.5" x2="46.4" y2="647.5" stroke="#222" stroke-width="1.2"/>
<text x="41.6" y="650.5" font-size="8.4" font-weight="bold" text-anchor="end" fill="#333" stroke="#333" stroke-width="0.3">2.0</text>
<line x1="44.9" y1="635.2" x2="46.4" y2="635.2" stroke="#222" stroke-width="1"/>
<line x1="43.4" y1="623.0" x2="46.4" y2="623.0" stroke="#222" stroke-width="1.2"/>
<text x="41.6" y="626.0" font-size="8.4" font-weight="bold" text-anchor="end" fill="#333" stroke="#333" stroke-width="0.3">2.5</text>
<line x1="44.9" y1="610.8" x2="46.4" y2="610.8" stroke="#222" stroke-width="1"/>
<line x1="43.4" y1="598.5" x2="46.4" y2="598.5" stroke="#222" stroke-width="1.2"/>
<text x="41.6" y="601.5" font-size="8.4" font-weight="bold" text-anchor="end" fill="#333" stroke="#333" stroke-width="0.3">3.0</text>
<line x1="62.0" y1="757.6" x2="62.0" y2="760.6" stroke="#222" stroke-width="1.2"/>
<text x="62.0" y="769.2" font-size="8.7" font-weight="bold" text-anchor="middle" fill="#333" stroke="#333" stroke-width="0.3">0.0</text>
<line x1="92.9" y1="757.6" x2="92.9" y2="760.6" stroke="#222" stroke-width="1.2"/>
<text x="92.9" y="769.2" font-size="8.7" font-weight="bold" text-anchor="middle" fill="#333" stroke="#333" stroke-width="0.3">0.2</text>
<line x1="123.8" y1="757.6" x2="123.8" y2="760.6" stroke="#222" stroke-width="1.2"/>
<text x="123.8" y="769.2" font-size="8.7" font-weight="bold" text-anchor="middle" fill="#333" stroke="#333" stroke-width="0.3">0.4</text>
<line x1="154.7" y1="757.6" x2="154.7" y2="760.6" stroke="#222" stroke-width="1.2"/>
<text x="154.7" y="769.2" font-size="8.7" font-weight="bold" text-anchor="middle" fill="#333" stroke="#333" stroke-width="0.3">0.6</text>
<line x1="185.6" y1="757.6" x2="185.6" y2="760.6" stroke="#222" stroke-width="1.2"/>
<text x="185.6" y="769.2" font-size="8.7" font-weight="bold" text-anchor="middle" fill="#333" stroke="#333" stroke-width="0.3">0.8</text>
<line x1="216.5" y1="757.6" x2="216.5" y2="760.6" stroke="#222" stroke-width="1.2"/>
<text x="216.5" y="769.2" font-size="8.7" font-weight="bold" text-anchor="middle" fill="#333" stroke="#333" stroke-width="0.3">1.0</text>
<line x1="247.4" y1="757.6" x2="247.4" y2="760.6" stroke="#222" stroke-width="1.2"/>
<text x="247.4" y="769.2" font-size="8.7" font-weight="bold" text-anchor="middle" fill="#333" stroke="#333" stroke-width="0.3">1.2</text>
<line x1="46.5" y1="757.6" x2="46.5" y2="759.1" stroke="#222" stroke-width="1"/>
<line x1="77.5" y1="757.6" x2="77.5" y2="759.1" stroke="#222" stroke-width="1"/>
<line x1="108.3" y1="757.6" x2="108.3" y2="759.1" stroke="#222" stroke-width="1"/>
<line x1="139.2" y1="757.6" x2="139.2" y2="759.1" stroke="#222" stroke-width="1"/>
<line x1="170.1" y1="757.6" x2="170.1" y2="759.1" stroke="#222" stroke-width="1"/>
<line x1="201.1" y1="757.6" x2="201.1" y2="759.1" stroke="#222" stroke-width="1"/>
<line x1="232.0" y1="757.6" x2="232.0" y2="759.1" stroke="#222" stroke-width="1"/>
<text x="150.1" y="781.0" font-size="12.1" font-weight="bold" text-anchor="middle" fill="#222">Potential / V vs. RHE</text>
<text x="0.0" y="0.0" font-size="13" font-weight="bold" text-anchor="middle" fill="#222" transform="translate(20.0,674.3) rotate(-90)">j<tspan font-size="9" dy="2">K</tspan><tspan dy="-2"> (A mg</tspan><tspan font-size="9" dy="2">Pt</tspan><tspan font-size="9" dy="-7">−1</tspan><tspan dy="5">)</tspan></text>
<text x="7.0" y="606.8" font-size="30" font-weight="bold" text-anchor="start" fill="#000">g</text>
<line x1="63.0" y1="665.0" x2="84.0" y2="665.0" stroke="#111" stroke-width="2.5"/>
<text x="86.5" y="668.8" font-size="10.4" font-weight="bold" text-anchor="start" fill="#111" stroke="#111" stroke-width="0.25">Pt/C</text>
<line x1="63.0" y1="678.2" x2="84.0" y2="678.2" stroke="#d65268" stroke-width="2.5"/>
<text x="86.5" y="682.0" font-size="10.4" font-weight="bold" text-anchor="start" fill="#111" stroke="#111" stroke-width="0.25">H-PNTs</text>
<line x1="63.0" y1="691.4" x2="84.0" y2="691.4" stroke="#1a4e7e" stroke-width="2.5"/>
<text x="86.5" y="695.2" font-size="10.4" font-weight="bold" text-anchor="start" fill="#111" stroke="#111" stroke-width="0.25">A-PNTs</text>
<line x1="63.0" y1="704.6" x2="84.0" y2="704.6" stroke="#6ab2cf" stroke-width="2.5"/>
<text x="86.5" y="708.4" font-size="10.4" font-weight="bold" text-anchor="start" fill="#111" stroke="#111" stroke-width="0.25">S-PNTs</text>
<path d="M328.2,628.8 L347.4,692.3 L366.6,725.7 L405.0,747.0 L443.4,747.7 L481.8,754.5 L520.2,754.9" stroke="#111" stroke-width="2.4" fill="none" stroke-linejoin="round" stroke-linecap="round"/>
<rect x="324.6" y="625.2" width="7.2" height="7.2" fill="#111"/>
<rect x="343.8" y="688.7" width="7.2" height="7.2" fill="#111"/>
<rect x="363.0" y="722.1" width="7.2" height="7.2" fill="#111"/>
<rect x="401.4" y="743.4" width="7.2" height="7.2" fill="#111"/>
<rect x="439.8" y="744.1" width="7.2" height="7.2" fill="#111"/>
<rect x="478.2" y="750.9" width="7.2" height="7.2" fill="#111"/>
<rect x="516.6" y="751.3" width="7.2" height="7.2" fill="#111"/>
<path d="M328.2,628.8 L347.4,644.3 L366.6,644.3 L405.0,670.2 L443.4,676.5 L481.8,686.8 L520.2,692.8" stroke="#e05064" stroke-width="2.4" fill="none" stroke-linejoin="round" stroke-linecap="round"/>
<circle cx="328.2" cy="628.8" r="4.0" fill="#e05064"/>
<circle cx="347.4" cy="644.3" r="4.0" fill="#e05064"/>
<circle cx="366.6" cy="644.3" r="4.0" fill="#e05064"/>
<circle cx="405.0" cy="670.2" r="4.0" fill="#e05064"/>
<circle cx="443.4" cy="676.5" r="4.0" fill="#e05064"/>
<circle cx="481.8" cy="686.8" r="4.0" fill="#e05064"/>
<circle cx="520.2" cy="692.8" r="4.0" fill="#e05064"/>
<path d="M328.2,628.8 L347.4,640.5 L366.6,661.8 L405.0,681.9 L443.4,688.4 L481.8,699.4 L520.2,708.4" stroke="#1a4a86" stroke-width="2.4" fill="none" stroke-linejoin="round" stroke-linecap="round"/>
<path d="M328.2,624.3 L332.5,631.5 L323.9,631.5Z" fill="#1a4a86"/>
<path d="M347.4,636.0 L351.7,643.2 L343.1,643.2Z" fill="#1a4a86"/>
<path d="M366.6,657.3 L370.9,664.5 L362.3,664.5Z" fill="#1a4a86"/>
<path d="M405.0,677.4 L409.3,684.6 L400.7,684.6Z" fill="#1a4a86"/>
<path d="M443.4,683.9 L447.7,691.1 L439.1,691.1Z" fill="#1a4a86"/>
<path d="M481.8,694.9 L486.1,702.1 L477.5,702.1Z" fill="#1a4a86"/>
<path d="M520.2,703.9 L524.5,711.1 L515.9,711.1Z" fill="#1a4a86"/>
<path d="M328.2,628.8 L347.4,639.2 L366.6,653.4 L405.0,658.6 L443.4,663.6 L481.8,670.6 L520.2,686.7" stroke="#5fb0d0" stroke-width="2.4" fill="none" stroke-linejoin="round" stroke-linecap="round"/>
<path d="M328.2,633.3 L332.5,626.1 L323.9,626.1Z" fill="#5fb0d0"/>
<path d="M347.4,643.7 L351.7,636.5 L343.1,636.5Z" fill="#5fb0d0"/>
<path d="M366.6,657.9 L370.9,650.7 L362.3,650.7Z" fill="#5fb0d0"/>
<path d="M405.0,663.1 L409.3,655.9 L400.7,655.9Z" fill="#5fb0d0"/>
<path d="M443.4,668.1 L447.7,660.9 L439.1,660.9Z" fill="#5fb0d0"/>
<path d="M481.8,675.1 L486.1,667.9 L477.5,667.9Z" fill="#5fb0d0"/>
<path d="M520.2,691.2 L524.5,684.0 L515.9,684.0Z" fill="#5fb0d0"/>
<rect x="327.8" y="602.2" width="213.5" height="156.4" fill="none" stroke="#222" stroke-width="1.6"/>
<line x1="324.8" y1="758.3" x2="327.8" y2="758.3" stroke="#222" stroke-width="1.2"/>
<text x="322.8" y="760.5" font-size="8.0" font-weight="bold" text-anchor="end" fill="#333" stroke="#333" stroke-width="0.35">0</text>
<line x1="326.3" y1="745.3" x2="327.8" y2="745.3" stroke="#222" stroke-width="1"/>
<line x1="324.8" y1="732.4" x2="327.8" y2="732.4" stroke="#222" stroke-width="1.2"/>
<text x="322.8" y="734.6" font-size="8.0" font-weight="bold" text-anchor="end" fill="#333" stroke="#333" stroke-width="0.35">20</text>
<line x1="326.3" y1="719.4" x2="327.8" y2="719.4" stroke="#222" stroke-width="1"/>
<line x1="324.8" y1="706.5" x2="327.8" y2="706.5" stroke="#222" stroke-width="1.2"/>
<text x="322.8" y="708.7" font-size="8.0" font-weight="bold" text-anchor="end" fill="#333" stroke="#333" stroke-width="0.35">40</text>
<line x1="326.3" y1="693.5" x2="327.8" y2="693.5" stroke="#222" stroke-width="1"/>
<line x1="324.8" y1="680.6" x2="327.8" y2="680.6" stroke="#222" stroke-width="1.2"/>
<text x="322.8" y="682.8" font-size="8.0" font-weight="bold" text-anchor="end" fill="#333" stroke="#333" stroke-width="0.35">60</text>
<line x1="326.3" y1="667.6" x2="327.8" y2="667.6" stroke="#222" stroke-width="1"/>
<line x1="324.8" y1="654.7" x2="327.8" y2="654.7" stroke="#222" stroke-width="1.2"/>
<text x="322.8" y="656.9" font-size="8.0" font-weight="bold" text-anchor="end" fill="#333" stroke="#333" stroke-width="0.35">80</text>
<line x1="326.3" y1="641.8" x2="327.8" y2="641.8" stroke="#222" stroke-width="1"/>
<line x1="324.8" y1="628.8" x2="327.8" y2="628.8" stroke="#222" stroke-width="1.2"/>
<text x="322.8" y="631.0" font-size="8.0" font-weight="bold" text-anchor="end" fill="#333" stroke="#333" stroke-width="0.35">100</text>
<line x1="326.3" y1="615.8" x2="327.8" y2="615.8" stroke="#222" stroke-width="1"/>
<line x1="324.8" y1="602.9" x2="327.8" y2="602.9" stroke="#222" stroke-width="1.2"/>
<text x="322.8" y="605.1" font-size="8.0" font-weight="bold" text-anchor="end" fill="#333" stroke="#333" stroke-width="0.35">120</text>
<line x1="328.2" y1="758.6" x2="328.2" y2="761.6" stroke="#222" stroke-width="1.2"/>
<text x="328.2" y="770.5" font-size="8.8" font-weight="bold" text-anchor="middle" fill="#333" stroke="#333" stroke-width="0.35">0</text>
<line x1="366.6" y1="758.6" x2="366.6" y2="761.6" stroke="#222" stroke-width="1.2"/>
<text x="366.6" y="770.5" font-size="8.8" font-weight="bold" text-anchor="middle" fill="#333" stroke="#333" stroke-width="0.35">1000</text>
<line x1="405.0" y1="758.6" x2="405.0" y2="761.6" stroke="#222" stroke-width="1.2"/>
<text x="405.0" y="770.5" font-size="8.8" font-weight="bold" text-anchor="middle" fill="#333" stroke="#333" stroke-width="0.35">2000</text>
<line x1="443.4" y1="758.6" x2="443.4" y2="761.6" stroke="#222" stroke-width="1.2"/>
<text x="443.4" y="770.5" font-size="8.8" font-weight="bold" text-anchor="middle" fill="#333" stroke="#333" stroke-width="0.35">3000</text>
<line x1="481.8" y1="758.6" x2="481.8" y2="761.6" stroke="#222" stroke-width="1.2"/>
<text x="481.8" y="770.5" font-size="8.8" font-weight="bold" text-anchor="middle" fill="#333" stroke="#333" stroke-width="0.35">4000</text>
<line x1="520.2" y1="758.6" x2="520.2" y2="761.6" stroke="#222" stroke-width="1.2"/>
<text x="520.2" y="770.5" font-size="8.8" font-weight="bold" text-anchor="middle" fill="#333" stroke="#333" stroke-width="0.35">5000</text>
<line x1="347.4" y1="758.6" x2="347.4" y2="760.1" stroke="#222" stroke-width="1"/>
<line x1="385.8" y1="758.6" x2="385.8" y2="760.1" stroke="#222" stroke-width="1"/>
<line x1="424.2" y1="758.6" x2="424.2" y2="760.1" stroke="#222" stroke-width="1"/>
<line x1="462.6" y1="758.6" x2="462.6" y2="760.1" stroke="#222" stroke-width="1"/>
<line x1="501.0" y1="758.6" x2="501.0" y2="760.1" stroke="#222" stroke-width="1"/>
<text x="429.3" y="783.6" font-size="14" font-weight="bold" text-anchor="middle" fill="#222">ADT cycles</text>
<text x="0.0" y="0.0" font-size="12.5" font-weight="bold" text-anchor="middle" fill="#222" transform="translate(305.3,683.5) rotate(-90)">Normalized ECSA / %</text>
<text x="290.0" y="607.5" font-size="28" font-weight="bold" text-anchor="start" fill="#000">h</text>
<line x1="470.9" y1="616.7" x2="492.7" y2="616.7" stroke="#111" stroke-width="2.0"/>
<rect x="478.2" y="613.1" width="7.2" height="7.2" fill="#111"/>
<text x="494.9" y="620.5" font-size="10.3" font-weight="bold" text-anchor="start" fill="#111" stroke="#111" stroke-width="0.25">Pt/C</text>
<line x1="470.9" y1="629.5" x2="492.7" y2="629.5" stroke="#e05064" stroke-width="2.0"/>
<circle cx="481.8" cy="629.5" r="4.0" fill="#e05064"/>
<text x="494.9" y="633.3" font-size="10.3" font-weight="bold" text-anchor="start" fill="#111" stroke="#111" stroke-width="0.25">H-PNTs</text>
<line x1="470.9" y1="642.4" x2="492.7" y2="642.4" stroke="#1a4a86" stroke-width="2.0"/>
<path d="M481.8,637.9 L486.1,645.1 L477.5,645.1Z" fill="#1a4a86"/>
<text x="494.9" y="646.2" font-size="10.3" font-weight="bold" text-anchor="start" fill="#111" stroke="#111" stroke-width="0.25">A-PNTs</text>
<line x1="470.9" y1="655.4" x2="492.7" y2="655.4" stroke="#5fb0d0" stroke-width="2.0"/>
<path d="M481.8,659.9 L486.1,652.7 L477.5,652.7Z" fill="#5fb0d0"/>
<text x="494.9" y="659.2" font-size="10.3" font-weight="bold" text-anchor="start" fill="#111" stroke="#111" stroke-width="0.25">S-PNTs</text>
</svg></body></html>
